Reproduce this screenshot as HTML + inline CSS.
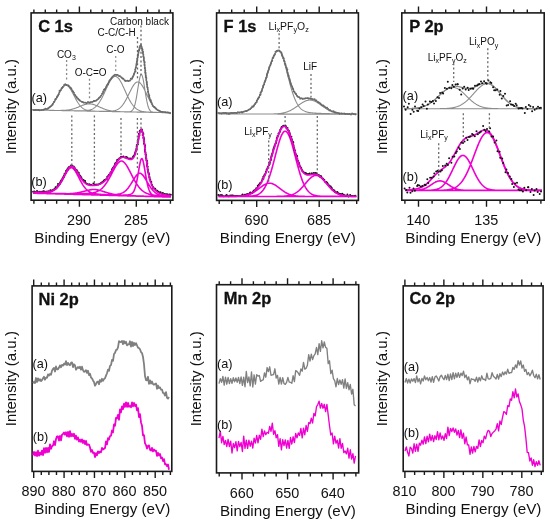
<!DOCTYPE html>
<html><head><meta charset="utf-8"><style>
html,body{margin:0;padding:0;background:#fff;}
svg{display:block;font-family:"Liberation Sans", sans-serif;filter:blur(0.4px);}
</style></head><body>
<svg width="550" height="523" viewBox="0 0 550 523">
<rect width="550" height="523" fill="#fff"/>
<rect x="31.1" y="12.9" width="141.80" height="187.30" fill="none" stroke="#1a1a1a" stroke-width="1.6"/>
<path d="M170.40,12.90v-3.5M170.40,200.20v3.5M159.03,12.90v-3.5M159.03,200.20v3.5M147.65,12.90v-3.5M147.65,200.20v3.5M136.28,12.90v-6.5M136.28,200.20v6.5M124.90,12.90v-3.5M124.90,200.20v3.5M113.53,12.90v-3.5M113.53,200.20v3.5M102.15,12.90v-3.5M102.15,200.20v3.5M90.78,12.90v-3.5M90.78,200.20v3.5M79.40,12.90v-6.5M79.40,200.20v6.5M68.03,12.90v-3.5M68.03,200.20v3.5M56.65,12.90v-3.5M56.65,200.20v3.5M45.28,12.90v-3.5M45.28,200.20v3.5M33.90,12.90v-3.5M33.90,200.20v3.5" stroke="#1a1a1a" stroke-width="1.4" fill="none"/>
<text transform="translate(79.10,224.90)" font-size="14.4" font-weight="normal" text-anchor="middle" fill="#111" >290</text>
<text transform="translate(135.97,224.90)" font-size="14.4" font-weight="normal" text-anchor="middle" fill="#111" >285</text>
<text transform="translate(102.30,242.80)" font-size="15.2" font-weight="normal" text-anchor="middle" fill="#111" >Binding Energy (eV)</text>
<text transform="translate(15.90,106.55) rotate(-90)" font-size="15" font-weight="normal" text-anchor="middle" fill="#111" >Intensity (a.u.)</text>
<rect x="216.6" y="12.9" width="141.80" height="187.50" fill="none" stroke="#1a1a1a" stroke-width="1.6"/>
<path d="M356.70,12.90v-3.5M356.70,200.40v3.5M344.20,12.90v-3.5M344.20,200.40v3.5M331.70,12.90v-3.5M331.70,200.40v3.5M319.20,12.90v-6.5M319.20,200.40v6.5M306.70,12.90v-3.5M306.70,200.40v3.5M294.20,12.90v-3.5M294.20,200.40v3.5M281.70,12.90v-3.5M281.70,200.40v3.5M269.20,12.90v-3.5M269.20,200.40v3.5M256.70,12.90v-6.5M256.70,200.40v6.5M244.20,12.90v-3.5M244.20,200.40v3.5M231.70,12.90v-3.5M231.70,200.40v3.5M219.20,12.90v-3.5M219.20,200.40v3.5" stroke="#1a1a1a" stroke-width="1.4" fill="none"/>
<text transform="translate(256.40,225.10)" font-size="14.4" font-weight="normal" text-anchor="middle" fill="#111" >690</text>
<text transform="translate(318.90,225.10)" font-size="14.4" font-weight="normal" text-anchor="middle" fill="#111" >685</text>
<text transform="translate(287.80,243.00)" font-size="15.2" font-weight="normal" text-anchor="middle" fill="#111" >Binding Energy (eV)</text>
<text transform="translate(201.40,106.65) rotate(-90)" font-size="15" font-weight="normal" text-anchor="middle" fill="#111" >Intensity (a.u.)</text>
<rect x="401.8" y="12.9" width="142.40" height="187.30" fill="none" stroke="#1a1a1a" stroke-width="1.6"/>
<path d="M540.90,12.90v-3.5M540.90,200.20v3.5M527.30,12.90v-3.5M527.30,200.20v3.5M513.70,12.90v-3.5M513.70,200.20v3.5M500.10,12.90v-3.5M500.10,200.20v3.5M486.50,12.90v-6.5M486.50,200.20v6.5M472.90,12.90v-3.5M472.90,200.20v3.5M459.30,12.90v-3.5M459.30,200.20v3.5M445.70,12.90v-3.5M445.70,200.20v3.5M432.10,12.90v-3.5M432.10,200.20v3.5M418.50,12.90v-6.5M418.50,200.20v6.5M404.90,12.90v-3.5M404.90,200.20v3.5" stroke="#1a1a1a" stroke-width="1.4" fill="none"/>
<text transform="translate(418.20,224.90)" font-size="14.4" font-weight="normal" text-anchor="middle" fill="#111" >140</text>
<text transform="translate(486.20,224.90)" font-size="14.4" font-weight="normal" text-anchor="middle" fill="#111" >135</text>
<text transform="translate(473.30,242.80)" font-size="15.2" font-weight="normal" text-anchor="middle" fill="#111" >Binding Energy (eV)</text>
<text transform="translate(386.60,106.55) rotate(-90)" font-size="15" font-weight="normal" text-anchor="middle" fill="#111" >Intensity (a.u.)</text>
<rect x="32.1" y="285.9" width="139.70" height="185.50" fill="none" stroke="#1a1a1a" stroke-width="1.6"/>
<path d="M170.39,285.90v-3.5M170.39,471.40v3.5M162.79,285.90v-3.5M162.79,471.40v3.5M155.20,285.90v-6.5M155.20,471.40v6.5M147.61,285.90v-3.5M147.61,471.40v3.5M140.01,285.90v-3.5M140.01,471.40v3.5M132.42,285.90v-3.5M132.42,471.40v3.5M124.83,285.90v-6.5M124.83,471.40v6.5M117.23,285.90v-3.5M117.23,471.40v3.5M109.64,285.90v-3.5M109.64,471.40v3.5M102.04,285.90v-3.5M102.04,471.40v3.5M94.45,285.90v-6.5M94.45,471.40v6.5M86.86,285.90v-3.5M86.86,471.40v3.5M79.26,285.90v-3.5M79.26,471.40v3.5M71.67,285.90v-3.5M71.67,471.40v3.5M64.08,285.90v-6.5M64.08,471.40v6.5M56.48,285.90v-3.5M56.48,471.40v3.5M48.89,285.90v-3.5M48.89,471.40v3.5M41.29,285.90v-3.5M41.29,471.40v3.5M33.70,285.90v-6.5M33.70,471.40v6.5" stroke="#1a1a1a" stroke-width="1.4" fill="none"/>
<text transform="translate(33.40,496.10)" font-size="14.4" font-weight="normal" text-anchor="middle" fill="#111" >890</text>
<text transform="translate(63.78,496.10)" font-size="14.4" font-weight="normal" text-anchor="middle" fill="#111" >880</text>
<text transform="translate(94.15,496.10)" font-size="14.4" font-weight="normal" text-anchor="middle" fill="#111" >870</text>
<text transform="translate(124.53,496.10)" font-size="14.4" font-weight="normal" text-anchor="middle" fill="#111" >860</text>
<text transform="translate(154.90,496.10)" font-size="14.4" font-weight="normal" text-anchor="middle" fill="#111" >850</text>
<text transform="translate(102.25,514.00)" font-size="15.2" font-weight="normal" text-anchor="middle" fill="#111" >Binding Energy (eV)</text>
<text transform="translate(15.90,378.65) rotate(-90)" font-size="15" font-weight="normal" text-anchor="middle" fill="#111" >Intensity (a.u.)</text>
<rect x="216.5" y="284.7" width="142.20" height="188.20" fill="none" stroke="#1a1a1a" stroke-width="1.6"/>
<path d="M355.88,284.70v-3.5M355.88,472.90v3.5M344.49,284.70v-3.5M344.49,472.90v3.5M333.10,284.70v-6.5M333.10,472.90v6.5M321.71,284.70v-3.5M321.71,472.90v3.5M310.32,284.70v-3.5M310.32,472.90v3.5M298.94,284.70v-3.5M298.94,472.90v3.5M287.55,284.70v-6.5M287.55,472.90v6.5M276.16,284.70v-3.5M276.16,472.90v3.5M264.77,284.70v-3.5M264.77,472.90v3.5M253.39,284.70v-3.5M253.39,472.90v3.5M242.00,284.70v-6.5M242.00,472.90v6.5M230.61,284.70v-3.5M230.61,472.90v3.5M219.22,284.70v-3.5M219.22,472.90v3.5" stroke="#1a1a1a" stroke-width="1.4" fill="none"/>
<text transform="translate(241.70,497.60)" font-size="14.4" font-weight="normal" text-anchor="middle" fill="#111" >660</text>
<text transform="translate(287.25,497.60)" font-size="14.4" font-weight="normal" text-anchor="middle" fill="#111" >650</text>
<text transform="translate(332.80,497.60)" font-size="14.4" font-weight="normal" text-anchor="middle" fill="#111" >640</text>
<text transform="translate(287.90,515.50)" font-size="15.2" font-weight="normal" text-anchor="middle" fill="#111" >Binding Energy (eV)</text>
<text transform="translate(201.30,378.80) rotate(-90)" font-size="15" font-weight="normal" text-anchor="middle" fill="#111" >Intensity (a.u.)</text>
<rect x="403.2" y="285.9" width="139.90" height="185.50" fill="none" stroke="#1a1a1a" stroke-width="1.6"/>
<path d="M541.29,285.90v-3.5M541.29,471.40v3.5M531.55,285.90v-3.5M531.55,471.40v3.5M521.81,285.90v-6.5M521.81,471.40v6.5M512.07,285.90v-3.5M512.07,471.40v3.5M502.32,285.90v-3.5M502.32,471.40v3.5M492.58,285.90v-3.5M492.58,471.40v3.5M482.84,285.90v-6.5M482.84,471.40v6.5M473.10,285.90v-3.5M473.10,471.40v3.5M463.35,285.90v-3.5M463.35,471.40v3.5M453.61,285.90v-3.5M453.61,471.40v3.5M443.87,285.90v-6.5M443.87,471.40v6.5M434.13,285.90v-3.5M434.13,471.40v3.5M424.38,285.90v-3.5M424.38,471.40v3.5M414.64,285.90v-3.5M414.64,471.40v3.5M404.90,285.90v-6.5M404.90,471.40v6.5" stroke="#1a1a1a" stroke-width="1.4" fill="none"/>
<text transform="translate(404.60,496.10)" font-size="14.4" font-weight="normal" text-anchor="middle" fill="#111" >810</text>
<text transform="translate(443.57,496.10)" font-size="14.4" font-weight="normal" text-anchor="middle" fill="#111" >800</text>
<text transform="translate(482.54,496.10)" font-size="14.4" font-weight="normal" text-anchor="middle" fill="#111" >790</text>
<text transform="translate(521.51,496.10)" font-size="14.4" font-weight="normal" text-anchor="middle" fill="#111" >780</text>
<text transform="translate(473.45,514.00)" font-size="15.2" font-weight="normal" text-anchor="middle" fill="#111" >Binding Energy (eV)</text>
<text transform="translate(386.60,378.65) rotate(-90)" font-size="15" font-weight="normal" text-anchor="middle" fill="#111" >Intensity (a.u.)</text>
<path d="M34.00,109.97 L34.50,109.98 L35.00,109.98 L35.50,109.99 L36.00,109.99 L36.50,110.00 L37.00,110.00 L37.50,110.00 L38.00,110.00 L38.50,109.99 L39.00,109.99 L39.50,109.98 L40.00,109.96 L40.50,109.94 L41.00,109.92 L41.50,109.89 L42.00,109.85 L42.50,109.81 L43.00,109.75 L43.50,109.68 L44.00,109.60 L44.50,109.51 L45.00,109.40 L45.50,109.27 L46.00,109.12 L46.50,108.95 L47.00,108.76 L47.50,108.54 L48.00,108.28 L48.50,108.00 L49.00,107.69 L49.50,107.33 L50.00,106.94 L50.50,106.51 L51.00,106.04 L51.50,105.53 L52.00,104.97 L52.50,104.37 L53.00,103.72 L53.50,103.03 L54.00,102.30 L54.50,101.52 L55.00,100.71 L55.50,99.86 L56.00,98.98 L56.50,98.08 L57.00,97.15 L57.50,96.21 L58.00,95.26 L58.50,94.30 L59.00,93.36 L59.50,92.43 L60.00,91.52 L60.50,90.64 L61.00,89.80 L61.50,89.01 L62.00,88.28 L62.50,87.62 L63.00,87.03 L63.50,86.51 L64.00,86.09 L64.50,85.75 L65.00,85.51 L65.50,85.37 L66.00,85.33 L66.50,85.39 L67.00,85.55 L67.50,85.81 L68.00,86.17 L68.50,86.61 L69.00,87.15 L69.50,87.76 L70.00,88.44 L70.50,89.19 L71.00,90.00 L71.50,90.86 L72.00,91.76 L72.50,92.69 L73.00,93.64 L73.50,94.60 L74.00,95.58 L74.50,96.55 L75.00,97.51 L75.50,98.46 L76.00,99.38 L76.50,100.28 L77.00,101.15 L77.50,101.98 L78.00,102.78 L78.50,103.53 L79.00,104.24 L79.50,104.91 L80.00,105.53 L80.50,106.11 L81.00,106.64 L81.50,107.13 L82.00,107.58 L82.50,107.99 L83.00,108.37 L83.50,108.70 L84.00,109.00 L84.50,109.28 L85.00,109.52 L85.50,109.73 L86.00,109.92 L86.50,110.09 L87.00,110.24 L87.50,110.37 L88.00,110.48 L88.50,110.58 L89.00,110.67 L89.50,110.75 L90.00,110.81 L90.50,110.87 L91.00,110.92 L91.50,110.96 L92.00,111.00 L92.50,111.04 L93.00,111.07 L93.50,111.09 L94.00,111.12 L94.50,111.14 L95.00,111.16 L95.50,111.18 L96.00,111.19 L96.50,111.21 L97.00,111.22 L97.50,111.24 L98.00,111.25 M56.50,110.43 L57.00,110.43 L57.50,110.43 L58.00,110.44 L58.50,110.44 L59.00,110.44 L59.50,110.44 L60.00,110.43 L60.50,110.43 L61.00,110.42 L61.50,110.42 L62.00,110.40 L62.50,110.39 L63.00,110.38 L63.50,110.36 L64.00,110.33 L64.50,110.31 L65.00,110.28 L65.50,110.24 L66.00,110.20 L66.50,110.16 L67.00,110.11 L67.50,110.05 L68.00,109.99 L68.50,109.92 L69.00,109.84 L69.50,109.76 L70.00,109.67 L70.50,109.57 L71.00,109.47 L71.50,109.35 L72.00,109.23 L72.50,109.10 L73.00,108.97 L73.50,108.82 L74.00,108.67 L74.50,108.50 L75.00,108.33 L75.50,108.16 L76.00,107.98 L76.50,107.79 L77.00,107.59 L77.50,107.39 L78.00,107.19 L78.50,106.98 L79.00,106.77 L79.50,106.56 L80.00,106.35 L80.50,106.14 L81.00,105.93 L81.50,105.72 L82.00,105.52 L82.50,105.32 L83.00,105.14 L83.50,104.96 L84.00,104.79 L84.50,104.63 L85.00,104.48 L85.50,104.35 L86.00,104.23 L86.50,104.12 L87.00,104.03 L87.50,103.96 L88.00,103.91 L88.50,103.87 L89.00,103.85 L89.50,103.85 L90.00,103.87 L90.50,103.91 L91.00,103.97 L91.50,104.04 L92.00,104.13 L92.50,104.24 L93.00,104.37 L93.50,104.51 L94.00,104.66 L94.50,104.83 L95.00,105.01 L95.50,105.20 L96.00,105.40 L96.50,105.60 L97.00,105.82 L97.50,106.04 L98.00,106.27 L98.50,106.50 L99.00,106.73 L99.50,106.96 L100.00,107.19 L100.50,107.42 L101.00,107.65 L101.50,107.87 L102.00,108.09 L102.50,108.31 L103.00,108.52 L103.50,108.72 L104.00,108.91 L104.50,109.10 L105.00,109.29 L105.50,109.46 L106.00,109.63 L106.50,109.78 L107.00,109.93 L107.50,110.07 L108.00,110.21 L108.50,110.33 L109.00,110.45 L109.50,110.56 L110.00,110.66 L110.50,110.76 L111.00,110.85 L111.50,110.93 L112.00,111.01 L112.50,111.08 L113.00,111.14 L113.50,111.20 L114.00,111.26 L114.50,111.31 L115.00,111.35 L115.50,111.40 L116.00,111.44 L116.50,111.47 L117.00,111.50 L117.50,111.54 L118.00,111.56 L118.50,111.59 L119.00,111.61 L119.50,111.64 L120.00,111.66 L120.50,111.68 L121.00,111.70 L121.50,111.71 L122.00,111.73 L122.50,111.75 M72.50,110.74 L73.00,110.75 L73.50,110.76 L74.00,110.77 L74.50,110.77 L75.00,110.78 L75.50,110.79 L76.00,110.80 L76.50,110.80 L77.00,110.81 L77.50,110.81 L78.00,110.82 L78.50,110.82 L79.00,110.83 L79.50,110.83 L80.00,110.83 L80.50,110.83 L81.00,110.83 L81.50,110.82 L82.00,110.82 L82.50,110.81 L83.00,110.79 L83.50,110.78 L84.00,110.76 L84.50,110.73 L85.00,110.70 L85.50,110.67 L86.00,110.63 L86.50,110.58 L87.00,110.52 L87.50,110.45 L88.00,110.37 L88.50,110.28 L89.00,110.17 L89.50,110.05 L90.00,109.92 L90.50,109.77 L91.00,109.59 L91.50,109.40 L92.00,109.18 L92.50,108.94 L93.00,108.68 L93.50,108.38 L94.00,108.06 L94.50,107.70 L95.00,107.31 L95.50,106.89 L96.00,106.42 L96.50,105.92 L97.00,105.39 L97.50,104.81 L98.00,104.18 L98.50,103.52 L99.00,102.82 L99.50,102.07 L100.00,101.28 L100.50,100.46 L101.00,99.59 L101.50,98.68 L102.00,97.74 L102.50,96.77 L103.00,95.76 L103.50,94.73 L104.00,93.68 L104.50,92.60 L105.00,91.52 L105.50,90.42 L106.00,89.33 L106.50,88.24 L107.00,87.15 L107.50,86.08 L108.00,85.04 L108.50,84.03 L109.00,83.05 L109.50,82.11 L110.00,81.23 L110.50,80.40 L111.00,79.63 L111.50,78.93 L112.00,78.31 L112.50,77.76 L113.00,77.30 L113.50,76.93 L114.00,76.64 L114.50,76.45 L115.00,76.36 L115.50,76.36 L116.00,76.46 L116.50,76.65 L117.00,76.93 L117.50,77.31 L118.00,77.77 L118.50,78.32 L119.00,78.95 L119.50,79.65 L120.00,80.43 L120.50,81.26 L121.00,82.16 L121.50,83.10 L122.00,84.09 L122.50,85.12 L123.00,86.18 L123.50,87.27 L124.00,88.37 L124.50,89.48 L125.00,90.59 L125.50,91.71 L126.00,92.82 L126.50,93.91 L127.00,94.99 L127.50,96.04 L128.00,97.08 L128.50,98.08 L129.00,99.04 L129.50,99.98 L130.00,100.87 L130.50,101.73 L131.00,102.55 L131.50,103.32 L132.00,104.05 L132.50,104.74 L133.00,105.39 L133.50,106.00 L134.00,106.57 L134.50,107.10 L135.00,107.58 L135.50,108.04 L136.00,108.45 L136.50,108.84 L137.00,109.19 L137.50,109.51 L138.00,109.80 L138.50,110.07 L139.00,110.31 L139.50,110.52 L140.00,110.72 L140.50,110.90 L141.00,111.06 L141.50,111.20 L142.00,111.33 L142.50,111.44 L143.00,111.54 L143.50,111.63 L144.00,111.71 L144.50,111.78 L145.00,111.85 L145.50,111.91 L146.00,111.96 L146.50,112.00 L147.00,112.04 L147.50,112.08 L148.00,112.11 L148.50,112.14 L149.00,112.17 L149.50,112.19 L150.00,112.22 L150.50,112.24 L151.00,112.26 L151.50,112.28 L152.00,112.29 L152.50,112.31 L153.00,112.32 L153.50,112.34 L154.00,112.35 L154.50,112.37 L155.00,112.38 L155.50,112.39 L156.00,112.40 L156.50,112.42 L157.00,112.43 L157.50,112.44 L158.00,112.45 M101.00,111.31 L101.50,111.32 L102.00,111.33 L102.50,111.33 L103.00,111.34 L103.50,111.35 L104.00,111.35 L104.50,111.35 L105.00,111.36 L105.50,111.36 L106.00,111.36 L106.50,111.36 L107.00,111.36 L107.50,111.35 L108.00,111.34 L108.50,111.33 L109.00,111.32 L109.50,111.30 L110.00,111.28 L110.50,111.25 L111.00,111.21 L111.50,111.17 L112.00,111.11 L112.50,111.05 L113.00,110.98 L113.50,110.89 L114.00,110.79 L114.50,110.68 L115.00,110.55 L115.50,110.40 L116.00,110.23 L116.50,110.03 L117.00,109.81 L117.50,109.57 L118.00,109.29 L118.50,108.99 L119.00,108.65 L119.50,108.27 L120.00,107.86 L120.50,107.41 L121.00,106.93 L121.50,106.39 L122.00,105.82 L122.50,105.21 L123.00,104.55 L123.50,103.84 L124.00,103.10 L124.50,102.31 L125.00,101.48 L125.50,100.61 L126.00,99.71 L126.50,98.78 L127.00,97.81 L127.50,96.83 L128.00,95.82 L128.50,94.80 L129.00,93.77 L129.50,92.74 L130.00,91.71 L130.50,90.70 L131.00,89.71 L131.50,88.75 L132.00,87.82 L132.50,86.93 L133.00,86.10 L133.50,85.32 L134.00,84.61 L134.50,83.98 L135.00,83.42 L135.50,82.94 L136.00,82.56 L136.50,82.27 L137.00,82.07 L137.50,81.97 L138.00,81.97 L138.50,82.07 L139.00,82.27 L139.50,82.56 L140.00,82.95 L140.50,83.42 L141.00,83.99 L141.50,84.63 L142.00,85.34 L142.50,86.13 L143.00,86.97 L143.50,87.86 L144.00,88.80 L144.50,89.78 L145.00,90.79 L145.50,91.82 L146.00,92.86 L146.50,93.91 L147.00,94.96 L147.50,96.00 L148.00,97.03 L148.50,98.05 L149.00,99.03 L149.50,100.00 L150.00,100.92 L150.50,101.82 L151.00,102.67 L151.50,103.49 L152.00,104.27 L152.50,105.00 L153.00,105.69 L153.50,106.33 L154.00,106.93 L154.50,107.49 L155.00,108.01 L155.50,108.48 L156.00,108.92 L156.50,109.32 L157.00,109.69 L157.50,110.02 L158.00,110.32 L158.50,110.59 L159.00,110.84 L159.50,111.06 L160.00,111.25 L160.50,111.43 L161.00,111.58 L161.50,111.72 L162.00,111.84 L162.50,111.95 L163.00,112.05 L163.50,112.13 L164.00,112.20 L164.50,112.27 L165.00,112.33 L165.50,112.38 L166.00,112.42 L166.50,112.46 L167.00,112.50 L167.50,112.53 L168.00,112.56 L168.50,112.59 L169.00,112.61 L169.50,112.63 L170.00,112.65 L170.50,112.67 L171.00,112.68 M125.00,111.79 L125.50,111.80 L126.00,111.80 L126.50,111.81 L127.00,111.81 L127.50,111.81 L128.00,111.80 L128.50,111.78 L129.00,111.75 L129.50,111.71 L130.00,111.63 L130.50,111.51 L131.00,111.33 L131.50,111.07 L132.00,110.70 L132.50,110.19 L133.00,109.51 L133.50,108.61 L134.00,107.46 L134.50,106.03 L135.00,104.28 L135.50,102.19 L136.00,99.78 L136.50,97.06 L137.00,94.09 L137.50,90.95 L138.00,87.74 L138.50,84.58 L139.00,81.63 L139.50,79.02 L140.00,76.89 L140.50,75.38 L141.00,74.56 L141.50,74.49 L142.00,75.18 L142.50,76.59 L143.00,78.62 L143.50,81.16 L144.00,84.08 L144.50,87.23 L145.00,90.46 L145.50,93.64 L146.00,96.67 L146.50,99.46 L147.00,101.96 L147.50,104.13 L148.00,105.97 L148.50,107.49 L149.00,108.71 L149.50,109.68 L150.00,110.42 L150.50,110.98 L151.00,111.39 L151.50,111.69 L152.00,111.90 L152.50,112.05 L153.00,112.16 L153.50,112.23 L154.00,112.29 L154.50,112.33 L155.00,112.35 L155.50,112.38 L156.00,112.40 L156.50,112.41 L157.00,112.43 L157.50,112.44 M33.00,110.00 L33.50,110.01 L34.00,110.02 L34.50,110.03 L35.00,110.04 L35.50,110.05 L36.00,110.06 L36.50,110.07 L37.00,110.08 L37.50,110.09 L38.00,110.10 L38.50,110.11 L39.00,110.12 L39.50,110.13 L40.00,110.14 L40.50,110.15 L41.00,110.16 L41.50,110.17 L42.00,110.18 L42.50,110.19 L43.00,110.20 L43.50,110.21 L44.00,110.22 L44.50,110.23 L45.00,110.24 L45.50,110.25 L46.00,110.26 L46.50,110.27 L47.00,110.28 L47.50,110.29 L48.00,110.30 L48.50,110.31 L49.00,110.32 L49.50,110.33 L50.00,110.34 L50.50,110.35 L51.00,110.36 L51.50,110.37 L52.00,110.38 L52.50,110.39 L53.00,110.40 L53.50,110.41 L54.00,110.42 L54.50,110.43 L55.00,110.44 L55.50,110.45 L56.00,110.46 L56.50,110.47 L57.00,110.48 L57.50,110.49 L58.00,110.50 L58.50,110.51 L59.00,110.52 L59.50,110.53 L60.00,110.54 L60.50,110.55 L61.00,110.56 L61.50,110.57 L62.00,110.58 L62.50,110.59 L63.00,110.60 L63.50,110.61 L64.00,110.62 L64.50,110.63 L65.00,110.64 L65.50,110.65 L66.00,110.66 L66.50,110.67 L67.00,110.68 L67.50,110.69 L68.00,110.70 L68.50,110.71 L69.00,110.72 L69.50,110.73 L70.00,110.74 L70.50,110.75 L71.00,110.76 L71.50,110.77 L72.00,110.78 L72.50,110.79 L73.00,110.80 L73.50,110.81 L74.00,110.82 L74.50,110.83 L75.00,110.84 L75.50,110.85 L76.00,110.86 L76.50,110.87 L77.00,110.88 L77.50,110.89 L78.00,110.90 L78.50,110.91 L79.00,110.92 L79.50,110.93 L80.00,110.94 L80.50,110.95 L81.00,110.96 L81.50,110.97 L82.00,110.98 L82.50,110.99 L83.00,111.00 L83.50,111.01 L84.00,111.02 L84.50,111.03 L85.00,111.04 L85.50,111.05 L86.00,111.06 L86.50,111.07 L87.00,111.08 L87.50,111.09 L88.00,111.10 L88.50,111.11 L89.00,111.12 L89.50,111.13 L90.00,111.14 L90.50,111.15 L91.00,111.16 L91.50,111.17 L92.00,111.18 L92.50,111.19 L93.00,111.20 L93.50,111.21 L94.00,111.22 L94.50,111.23 L95.00,111.24 L95.50,111.25 L96.00,111.26 L96.50,111.27 L97.00,111.28 L97.50,111.29 L98.00,111.30 L98.50,111.31 L99.00,111.32 L99.50,111.33 L100.00,111.34 L100.50,111.35 L101.00,111.36 L101.50,111.37 L102.00,111.38 L102.50,111.39 L103.00,111.40 L103.50,111.41 L104.00,111.42 L104.50,111.43 L105.00,111.44 L105.50,111.45 L106.00,111.46 L106.50,111.47 L107.00,111.48 L107.50,111.49 L108.00,111.50 L108.50,111.51 L109.00,111.52 L109.50,111.53 L110.00,111.54 L110.50,111.55 L111.00,111.56 L111.50,111.57 L112.00,111.58 L112.50,111.59 L113.00,111.60 L113.50,111.61 L114.00,111.62 L114.50,111.63 L115.00,111.64 L115.50,111.65 L116.00,111.66 L116.50,111.67 L117.00,111.68 L117.50,111.69 L118.00,111.70 L118.50,111.71 L119.00,111.72 L119.50,111.73 L120.00,111.74 L120.50,111.75 L121.00,111.76 L121.50,111.77 L122.00,111.78 L122.50,111.79 L123.00,111.80 L123.50,111.81 L124.00,111.82 L124.50,111.83 L125.00,111.84 L125.50,111.85 L126.00,111.86 L126.50,111.87 L127.00,111.88 L127.50,111.89 L128.00,111.90 L128.50,111.91 L129.00,111.92 L129.50,111.93 L130.00,111.94 L130.50,111.95 L131.00,111.96 L131.50,111.97 L132.00,111.98 L132.50,111.99 L133.00,112.00 L133.50,112.01 L134.00,112.02 L134.50,112.03 L135.00,112.04 L135.50,112.05 L136.00,112.06 L136.50,112.07 L137.00,112.08 L137.50,112.09 L138.00,112.10 L138.50,112.11 L139.00,112.12 L139.50,112.13 L140.00,112.14 L140.50,112.15 L141.00,112.16 L141.50,112.17 L142.00,112.18 L142.50,112.19 L143.00,112.20 L143.50,112.21 L144.00,112.22 L144.50,112.23 L145.00,112.24 L145.50,112.25 L146.00,112.26 L146.50,112.27 L147.00,112.28 L147.50,112.29 L148.00,112.30 L148.50,112.31 L149.00,112.32 L149.50,112.33 L150.00,112.34 L150.50,112.35 L151.00,112.36 L151.50,112.37 L152.00,112.38 L152.50,112.39 L153.00,112.40 L153.50,112.41 L154.00,112.42 L154.50,112.43 L155.00,112.44 L155.50,112.45 L156.00,112.46 L156.50,112.47 L157.00,112.48 L157.50,112.49 L158.00,112.50 L158.50,112.51 L159.00,112.52 L159.50,112.53 L160.00,112.54 L160.50,112.55 L161.00,112.56 L161.50,112.57 L162.00,112.58 L162.50,112.59 L163.00,112.60 L163.50,112.61 L164.00,112.62 L164.50,112.63 L165.00,112.64 L165.50,112.65 L166.00,112.66 L166.50,112.67 L167.00,112.68 L167.50,112.69 L168.00,112.70 L168.50,112.71 L169.00,112.72 L169.50,112.73 L170.00,112.74 L170.50,112.75 L171.00,112.76" stroke="#8c8c8c" stroke-width="1.1" fill="none"/>
<path d="M33.00,109.93 L33.50,109.94 L34.00,109.94 L34.50,109.95 L35.00,109.96 L35.50,109.96 L36.00,109.97 L36.50,109.97 L37.00,109.97 L37.50,109.97 L38.00,109.97 L38.50,109.96 L39.00,109.96 L39.50,109.95 L40.00,109.93 L40.50,109.91 L41.00,109.89 L41.50,109.86 L42.00,109.82 L42.50,109.77 L43.00,109.72 L43.50,109.65 L44.00,109.57 L44.50,109.47 L45.00,109.36 L45.50,109.23 L46.00,109.08 L46.50,108.91 L47.00,108.72 L47.50,108.50 L48.00,108.24 L48.50,107.96 L49.00,107.64 L49.50,107.29 L50.00,106.90 L50.50,106.47 L51.00,105.99 L51.50,105.48 L52.00,104.92 L52.50,104.31 L53.00,103.66 L53.50,102.97 L54.00,102.23 L54.50,101.46 L55.00,100.64 L55.50,99.79 L56.00,98.91 L56.50,98.00 L57.00,97.06 L57.50,96.11 L58.00,95.15 L58.50,94.19 L59.00,93.24 L59.50,92.29 L60.00,91.37 L60.50,90.48 L61.00,89.62 L61.50,88.82 L62.00,88.06 L62.50,87.37 L63.00,86.75 L63.50,86.21 L64.00,85.75 L64.50,85.38 L65.00,85.10 L65.50,84.91 L66.00,84.82 L66.50,84.82 L67.00,84.92 L67.50,85.12 L68.00,85.40 L68.50,85.76 L69.00,86.21 L69.50,86.73 L70.00,87.31 L70.50,87.96 L71.00,88.65 L71.50,89.38 L72.00,90.14 L72.50,90.93 L73.00,91.74 L73.50,92.54 L74.00,93.35 L74.50,94.15 L75.00,94.93 L75.50,95.69 L76.00,96.41 L76.50,97.11 L77.00,97.77 L77.50,98.39 L78.00,98.96 L78.50,99.49 L79.00,99.97 L79.50,100.41 L80.00,100.80 L80.50,101.15 L81.00,101.45 L81.50,101.71 L82.00,101.94 L82.50,102.12 L83.00,102.27 L83.50,102.39 L84.00,102.48 L84.50,102.55 L85.00,102.60 L85.50,102.62 L86.00,102.63 L86.50,102.62 L87.00,102.60 L87.50,102.57 L88.00,102.53 L88.50,102.48 L89.00,102.42 L89.50,102.36 L90.00,102.29 L90.50,102.21 L91.00,102.13 L91.50,102.03 L92.00,101.92 L92.50,101.81 L93.00,101.67 L93.50,101.52 L94.00,101.36 L94.50,101.17 L95.00,100.96 L95.50,100.72 L96.00,100.45 L96.50,100.16 L97.00,99.82 L97.50,99.46 L98.00,99.06 L98.50,98.61 L99.00,98.13 L99.50,97.61 L100.00,97.04 L100.50,96.43 L101.00,95.78 L101.50,95.09 L102.00,94.35 L102.50,93.58 L103.00,92.77 L103.50,91.93 L104.00,91.06 L104.50,90.16 L105.00,89.24 L105.50,88.31 L106.00,87.36 L106.50,86.40 L107.00,85.45 L107.50,84.49 L108.00,83.56 L108.50,82.64 L109.00,81.74 L109.50,80.88 L110.00,80.05 L110.50,79.27 L111.00,78.53 L111.50,77.85 L112.00,77.23 L112.50,76.68 L113.00,76.19 L113.50,75.77 L114.00,75.42 L114.50,75.14 L115.00,74.94 L115.50,74.82 L116.00,74.76 L116.50,74.77 L117.00,74.85 L117.50,74.99 L118.00,75.19 L118.50,75.44 L119.00,75.73 L119.50,76.06 L120.00,76.42 L120.50,76.81 L121.00,77.21 L121.50,77.63 L122.00,78.04 L122.50,78.44 L123.00,78.84 L123.50,79.21 L124.00,79.55 L124.50,79.87 L125.00,80.15 L125.50,80.38 L126.00,80.58 L126.50,80.72 L127.00,80.82 L127.50,80.87 L128.00,80.87 L128.50,80.81 L129.00,80.70 L129.50,80.54 L130.00,80.31 L130.50,80.01 L131.00,79.64 L131.50,79.17 L132.00,78.59 L132.50,77.87 L133.00,76.98 L133.50,75.90 L134.00,74.59 L134.50,73.02 L135.00,71.18 L135.50,69.05 L136.00,66.65 L136.50,64.00 L137.00,61.17 L137.50,58.23 L138.00,55.29 L138.50,52.48 L139.00,49.94 L139.50,47.83 L140.00,46.27 L140.50,45.38 L141.00,45.27 L141.50,45.97 L142.00,47.48 L142.50,49.76 L143.00,52.71 L143.50,56.22 L144.00,60.14 L144.50,64.32 L145.00,68.60 L145.50,72.85 L146.00,76.96 L146.50,80.82 L147.00,84.39 L147.50,87.62 L148.00,90.51 L148.50,93.05 L149.00,95.26 L149.50,97.19 L150.00,98.87 L150.50,100.32 L151.00,101.59 L151.50,102.70 L152.00,103.69 L152.50,104.57 L153.00,105.36 L153.50,106.07 L154.00,106.72 L154.50,107.31 L155.00,107.85 L155.50,108.34 L156.00,108.79 L156.50,109.20 L157.00,109.57 L157.50,109.91 L158.00,110.22 L158.50,110.49 L159.00,110.74 L159.50,110.96 L160.00,111.16 L160.50,111.34 L161.00,111.50 L161.50,111.64 L162.00,111.76 L162.50,111.87 L163.00,111.97 L163.50,112.06 L164.00,112.13 L164.50,112.20 L165.00,112.26 L165.50,112.31 L166.00,112.36 L166.50,112.40 L167.00,112.44 L167.50,112.47 L168.00,112.50 L168.50,112.53 L169.00,112.55 L169.50,112.58 L170.00,112.60 L170.50,112.61 L171.00,112.63" stroke="#8a8a8a" stroke-width="1.4" fill="none"/>
<g fill="#686868"><circle cx="33.0" cy="109.8" r="0.9"/><circle cx="34.5" cy="110.2" r="0.9"/><circle cx="35.7" cy="109.9" r="0.9"/><circle cx="37.0" cy="109.9" r="0.9"/><circle cx="38.5" cy="110.0" r="0.9"/><circle cx="39.8" cy="110.3" r="0.9"/><circle cx="41.4" cy="110.1" r="0.9"/><circle cx="43.1" cy="109.9" r="0.9"/><circle cx="44.1" cy="109.3" r="0.9"/><circle cx="45.4" cy="108.7" r="0.9"/><circle cx="47.0" cy="109.1" r="0.9"/><circle cx="48.2" cy="108.5" r="0.9"/><circle cx="49.3" cy="107.4" r="0.9"/><circle cx="50.2" cy="106.7" r="0.9"/><circle cx="51.4" cy="105.8" r="0.9"/><circle cx="52.5" cy="104.8" r="0.9"/><circle cx="52.9" cy="103.7" r="0.9"/><circle cx="53.9" cy="102.1" r="0.9"/><circle cx="54.3" cy="101.6" r="0.9"/><circle cx="55.2" cy="99.4" r="0.9"/><circle cx="55.7" cy="99.0" r="0.9"/><circle cx="56.8" cy="97.6" r="0.9"/><circle cx="57.2" cy="96.5" r="0.9"/><circle cx="58.2" cy="95.6" r="0.9"/><circle cx="58.8" cy="94.2" r="0.9"/><circle cx="59.4" cy="92.1" r="0.9"/><circle cx="59.5" cy="90.6" r="0.9"/><circle cx="60.7" cy="90.3" r="0.9"/><circle cx="61.5" cy="88.5" r="0.9"/><circle cx="62.3" cy="87.7" r="0.9"/><circle cx="62.8" cy="86.9" r="0.9"/><circle cx="64.1" cy="85.0" r="0.9"/><circle cx="65.2" cy="84.2" r="0.9"/><circle cx="66.6" cy="85.0" r="0.9"/><circle cx="68.3" cy="85.4" r="0.9"/><circle cx="68.9" cy="86.2" r="0.9"/><circle cx="70.0" cy="87.4" r="0.9"/><circle cx="71.1" cy="88.2" r="0.9"/><circle cx="71.6" cy="89.1" r="0.9"/><circle cx="72.4" cy="90.8" r="0.9"/><circle cx="73.2" cy="91.7" r="0.9"/><circle cx="73.9" cy="92.6" r="0.9"/><circle cx="74.4" cy="94.6" r="0.9"/><circle cx="75.4" cy="95.5" r="0.9"/><circle cx="76.5" cy="96.9" r="0.9"/><circle cx="76.7" cy="97.5" r="0.9"/><circle cx="78.1" cy="98.7" r="0.9"/><circle cx="79.0" cy="99.6" r="0.9"/><circle cx="79.9" cy="100.5" r="0.9"/><circle cx="81.6" cy="101.6" r="0.9"/><circle cx="82.6" cy="101.8" r="0.9"/><circle cx="83.6" cy="102.6" r="0.9"/><circle cx="85.2" cy="102.7" r="0.9"/><circle cx="86.7" cy="103.3" r="0.9"/><circle cx="88.0" cy="102.0" r="0.9"/><circle cx="89.6" cy="102.7" r="0.9"/><circle cx="90.8" cy="102.1" r="0.9"/><circle cx="92.3" cy="101.9" r="0.9"/><circle cx="93.8" cy="101.0" r="0.9"/><circle cx="94.7" cy="100.9" r="0.9"/><circle cx="96.1" cy="100.7" r="0.9"/><circle cx="97.2" cy="99.6" r="0.9"/><circle cx="98.4" cy="98.8" r="0.9"/><circle cx="99.1" cy="97.7" r="0.9"/><circle cx="100.1" cy="97.1" r="0.9"/><circle cx="101.1" cy="95.6" r="0.9"/><circle cx="102.1" cy="93.7" r="0.9"/><circle cx="102.9" cy="93.1" r="0.9"/><circle cx="103.1" cy="91.4" r="0.9"/><circle cx="103.9" cy="89.7" r="0.9"/><circle cx="104.9" cy="89.5" r="0.9"/><circle cx="105.0" cy="88.9" r="0.9"/><circle cx="106.0" cy="87.2" r="0.9"/><circle cx="106.7" cy="85.5" r="0.9"/><circle cx="107.7" cy="84.4" r="0.9"/><circle cx="108.2" cy="83.9" r="0.9"/><circle cx="108.7" cy="82.3" r="0.9"/><circle cx="109.3" cy="81.0" r="0.9"/><circle cx="110.1" cy="79.8" r="0.9"/><circle cx="111.2" cy="78.7" r="0.9"/><circle cx="111.7" cy="77.8" r="0.9"/><circle cx="112.6" cy="76.7" r="0.9"/><circle cx="113.8" cy="75.7" r="0.9"/><circle cx="115.0" cy="74.6" r="0.9"/><circle cx="116.3" cy="74.9" r="0.9"/><circle cx="117.5" cy="74.8" r="0.9"/><circle cx="119.0" cy="76.1" r="0.9"/><circle cx="120.0" cy="76.1" r="0.9"/><circle cx="121.5" cy="77.3" r="0.9"/><circle cx="122.4" cy="78.3" r="0.9"/><circle cx="123.4" cy="78.7" r="0.9"/><circle cx="124.7" cy="80.5" r="0.9"/><circle cx="125.8" cy="81.0" r="0.9"/><circle cx="127.4" cy="80.7" r="0.9"/><circle cx="128.6" cy="81.1" r="0.9"/><circle cx="130.0" cy="80.5" r="0.9"/><circle cx="130.8" cy="78.7" r="0.9"/><circle cx="132.1" cy="78.6" r="0.9"/><circle cx="132.4" cy="77.4" r="0.9"/><circle cx="133.0" cy="76.2" r="0.9"/><circle cx="133.8" cy="74.5" r="0.9"/><circle cx="134.2" cy="73.4" r="0.9"/><circle cx="134.8" cy="72.1" r="0.9"/><circle cx="135.6" cy="71.2" r="0.9"/><circle cx="135.2" cy="69.6" r="0.9"/><circle cx="135.6" cy="68.1" r="0.9"/><circle cx="136.0" cy="67.2" r="0.9"/><circle cx="136.4" cy="65.1" r="0.9"/><circle cx="136.5" cy="63.8" r="0.9"/><circle cx="136.7" cy="61.9" r="0.9"/><circle cx="137.1" cy="61.7" r="0.9"/><circle cx="137.3" cy="60.1" r="0.9"/><circle cx="137.2" cy="58.7" r="0.9"/><circle cx="137.7" cy="57.3" r="0.9"/><circle cx="137.9" cy="55.7" r="0.9"/><circle cx="138.0" cy="54.4" r="0.9"/><circle cx="138.5" cy="52.8" r="0.9"/><circle cx="138.5" cy="51.5" r="0.9"/><circle cx="139.2" cy="50.2" r="0.9"/><circle cx="139.3" cy="49.3" r="0.9"/><circle cx="139.6" cy="47.6" r="0.9"/><circle cx="140.0" cy="46.1" r="0.9"/><circle cx="141.0" cy="45.1" r="0.9"/><circle cx="141.3" cy="46.3" r="0.9"/><circle cx="141.8" cy="48.4" r="0.9"/><circle cx="142.5" cy="49.4" r="0.9"/><circle cx="142.2" cy="50.6" r="0.9"/><circle cx="143.1" cy="51.9" r="0.9"/><circle cx="142.7" cy="53.0" r="0.9"/><circle cx="143.4" cy="54.7" r="0.9"/><circle cx="143.3" cy="56.4" r="0.9"/><circle cx="143.8" cy="57.4" r="0.9"/><circle cx="143.9" cy="58.8" r="0.9"/><circle cx="143.7" cy="60.2" r="0.9"/><circle cx="144.4" cy="61.7" r="0.9"/><circle cx="144.7" cy="62.5" r="0.9"/><circle cx="144.5" cy="64.4" r="0.9"/><circle cx="144.6" cy="65.6" r="0.9"/><circle cx="144.8" cy="67.6" r="0.9"/><circle cx="144.8" cy="68.4" r="0.9"/><circle cx="145.4" cy="70.2" r="0.9"/><circle cx="145.2" cy="72.0" r="0.9"/><circle cx="145.5" cy="72.7" r="0.9"/><circle cx="145.5" cy="74.0" r="0.9"/><circle cx="145.7" cy="75.7" r="0.9"/><circle cx="145.7" cy="77.0" r="0.9"/><circle cx="146.4" cy="78.0" r="0.9"/><circle cx="146.3" cy="79.9" r="0.9"/><circle cx="146.7" cy="81.8" r="0.9"/><circle cx="146.7" cy="82.4" r="0.9"/><circle cx="146.8" cy="83.8" r="0.9"/><circle cx="147.1" cy="84.9" r="0.9"/><circle cx="147.2" cy="86.8" r="0.9"/><circle cx="147.6" cy="87.6" r="0.9"/><circle cx="147.7" cy="89.1" r="0.9"/><circle cx="148.0" cy="91.3" r="0.9"/><circle cx="148.0" cy="91.9" r="0.9"/><circle cx="148.4" cy="93.9" r="0.9"/><circle cx="149.3" cy="95.5" r="0.9"/><circle cx="149.1" cy="96.4" r="0.9"/><circle cx="149.4" cy="97.8" r="0.9"/><circle cx="150.1" cy="99.7" r="0.9"/><circle cx="150.8" cy="100.2" r="0.9"/><circle cx="150.7" cy="101.4" r="0.9"/><circle cx="151.5" cy="102.4" r="0.9"/><circle cx="152.1" cy="104.1" r="0.9"/><circle cx="152.6" cy="105.8" r="0.9"/><circle cx="153.9" cy="106.8" r="0.9"/><circle cx="154.7" cy="107.2" r="0.9"/><circle cx="155.7" cy="108.2" r="0.9"/><circle cx="156.6" cy="109.2" r="0.9"/><circle cx="158.0" cy="110.3" r="0.9"/><circle cx="159.1" cy="110.7" r="0.9"/><circle cx="160.4" cy="111.4" r="0.9"/><circle cx="161.6" cy="111.8" r="0.9"/><circle cx="162.9" cy="111.9" r="0.9"/><circle cx="164.9" cy="112.2" r="0.9"/><circle cx="165.9" cy="112.4" r="0.9"/><circle cx="167.4" cy="112.4" r="0.9"/><circle cx="168.8" cy="112.7" r="0.9"/><circle cx="170.1" cy="113.3" r="0.9"/></g>
<path d="M33.00,192.77 L33.50,192.78 L34.00,192.78 L34.50,192.78 L35.00,192.78 L35.50,192.78 L36.00,192.78 L36.50,192.78 L37.00,192.78 L37.50,192.78 L38.00,192.78 L38.50,192.78 L39.00,192.78 L39.50,192.77 L40.00,192.77 L40.50,192.76 L41.00,192.75 L41.50,192.74 L42.00,192.73 L42.50,192.72 L43.00,192.70 L43.50,192.68 L44.00,192.66 L44.50,192.64 L45.00,192.61 L45.50,192.58 L46.00,192.54 L46.50,192.50 L47.00,192.45 L47.50,192.39 L48.00,192.32 L48.50,192.25 L49.00,192.16 L49.50,192.06 L50.00,191.95 L50.50,191.82 L51.00,191.68 L51.50,191.52 L52.00,191.34 L52.50,191.13 L53.00,190.90 L53.50,190.65 L54.00,190.36 L54.50,190.05 L55.00,189.70 L55.50,189.32 L56.00,188.90 L56.50,188.45 L57.00,187.96 L57.50,187.42 L58.00,186.85 L58.50,186.23 L59.00,185.57 L59.50,184.88 L60.00,184.14 L60.50,183.36 L61.00,182.55 L61.50,181.71 L62.00,180.83 L62.50,179.93 L63.00,179.01 L63.50,178.07 L64.00,177.12 L64.50,176.18 L65.00,175.23 L65.50,174.30 L66.00,173.39 L66.50,172.52 L67.00,171.68 L67.50,170.90 L68.00,170.18 L68.50,169.54 L69.00,168.98 L69.50,168.51 L70.00,168.15 L70.50,167.89 L71.00,167.75 L71.50,167.73 L72.00,167.83 L72.50,168.04 L73.00,168.37 L73.50,168.80 L74.00,169.34 L74.50,169.96 L75.00,170.66 L75.50,171.44 L76.00,172.27 L76.50,173.15 L77.00,174.07 L77.50,175.01 L78.00,175.98 L78.50,176.95 L79.00,177.93 L79.50,178.90 L80.00,179.86 L80.50,180.80 L81.00,181.72 L81.50,182.61 L82.00,183.47 L82.50,184.30 L83.00,185.09 L83.50,185.84 L84.00,186.55 L84.50,187.22 L85.00,187.84 L85.50,188.43 L86.00,188.98 L86.50,189.48 L87.00,189.95 L87.50,190.38 L88.00,190.77 L88.50,191.14 L89.00,191.47 L89.50,191.77 L90.00,192.04 L90.50,192.29 L91.00,192.51 L91.50,192.71 L92.00,192.89 L92.50,193.06 L93.00,193.21 L93.50,193.34 L94.00,193.46 L94.50,193.57 L95.00,193.67 L95.50,193.76 L96.00,193.84 L96.50,193.92 L97.00,193.99 L97.50,194.05 L98.00,194.11 L98.50,194.17 L99.00,194.22 L99.50,194.26 L100.00,194.31 L100.50,194.35 L101.00,194.39 L101.50,194.43 L102.00,194.47 L102.50,194.50 L103.00,194.54 L103.50,194.57 L104.00,194.60 L104.50,194.63 L105.00,194.66 L105.50,194.69 L106.00,194.72 L106.50,194.75 L107.00,194.78 L107.50,194.80 L108.00,194.83 L108.50,194.86 L109.00,194.88 L109.50,194.91 L110.00,194.93 L110.50,194.96 L111.00,194.98 L111.50,195.00 L112.00,195.03 L112.50,195.05 L113.00,195.07 L113.50,195.09 L114.00,195.12 L114.50,195.14 L115.00,195.16 L115.50,195.18 L116.00,195.20 L116.50,195.22 L117.00,195.24 L117.50,195.26 L118.00,195.28 L118.50,195.30 L119.00,195.32 L119.50,195.34 L120.00,195.36 L120.50,195.38 L121.00,195.40 L121.50,195.42 L122.00,195.44 L122.50,195.46 L123.00,195.48 L123.50,195.50 L124.00,195.51 L124.50,195.53 L125.00,195.55 L125.50,195.57 L126.00,195.59 L126.50,195.60 L127.00,195.62 L127.50,195.64 L128.00,195.66 L128.50,195.67 L129.00,195.69 L129.50,195.71 L130.00,195.73 L130.50,195.74 L131.00,195.76 L131.50,195.78 L132.00,195.79 L132.50,195.81 L133.00,195.83 L133.50,195.84 L134.00,195.86 L134.50,195.88 L135.00,195.89 L135.50,195.91 L136.00,195.93 L136.50,195.94 L137.00,195.96 L137.50,195.98 L138.00,195.99 L138.50,196.01 L139.00,196.02 L139.50,196.04 L140.00,196.06 L140.50,196.07 L141.00,196.09 L141.50,196.10 L142.00,196.12 L142.50,196.14 L143.00,196.15 L143.50,196.17 L144.00,196.18 L144.50,196.20 L145.00,196.21 L145.50,196.23 L146.00,196.25 L146.50,196.26 L147.00,196.28 L147.50,196.29 L148.00,196.31 L148.50,196.32 L149.00,196.34 L149.50,196.35 L150.00,196.37 L150.50,196.38 L151.00,196.40 L151.50,196.42 L152.00,196.43 L152.50,196.45 L153.00,196.46 L153.50,196.48 L154.00,196.49 L154.50,196.51 L155.00,196.52 L155.50,196.54 L156.00,196.55 L156.50,196.57 L157.00,196.58 L157.50,196.60 L158.00,196.61 L158.50,196.63 L159.00,196.64 L159.50,196.66 L160.00,196.67 L160.50,196.69 L161.00,196.70 L161.50,196.72 L162.00,196.73 L162.50,196.75 L163.00,196.76 L163.50,196.78 L164.00,196.79 L164.50,196.81 L165.00,196.82 L165.50,196.84 L166.00,196.85 L166.50,196.86 L167.00,196.88 L167.50,196.89 L168.00,196.91 L168.50,196.92 L169.00,196.94 L169.50,196.95 L170.00,196.97 L170.50,196.98 L171.00,197.00 M33.00,193.14 L33.50,193.15 L34.00,193.17 L34.50,193.18 L35.00,193.19 L35.50,193.20 L36.00,193.22 L36.50,193.23 L37.00,193.24 L37.50,193.26 L38.00,193.27 L38.50,193.28 L39.00,193.29 L39.50,193.31 L40.00,193.32 L40.50,193.33 L41.00,193.35 L41.50,193.36 L42.00,193.37 L42.50,193.38 L43.00,193.40 L43.50,193.41 L44.00,193.42 L44.50,193.43 L45.00,193.44 L45.50,193.46 L46.00,193.47 L46.50,193.48 L47.00,193.49 L47.50,193.51 L48.00,193.52 L48.50,193.53 L49.00,193.54 L49.50,193.55 L50.00,193.56 L50.50,193.58 L51.00,193.59 L51.50,193.60 L52.00,193.61 L52.50,193.62 L53.00,193.63 L53.50,193.64 L54.00,193.65 L54.50,193.66 L55.00,193.67 L55.50,193.68 L56.00,193.69 L56.50,193.70 L57.00,193.71 L57.50,193.72 L58.00,193.73 L58.50,193.74 L59.00,193.75 L59.50,193.75 L60.00,193.76 L60.50,193.77 L61.00,193.77 L61.50,193.78 L62.00,193.78 L62.50,193.79 L63.00,193.79 L63.50,193.79 L64.00,193.79 L64.50,193.79 L65.00,193.79 L65.50,193.78 L66.00,193.78 L66.50,193.77 L67.00,193.76 L67.50,193.75 L68.00,193.74 L68.50,193.72 L69.00,193.71 L69.50,193.68 L70.00,193.66 L70.50,193.63 L71.00,193.60 L71.50,193.57 L72.00,193.53 L72.50,193.49 L73.00,193.45 L73.50,193.40 L74.00,193.35 L74.50,193.29 L75.00,193.23 L75.50,193.16 L76.00,193.09 L76.50,193.01 L77.00,192.93 L77.50,192.84 L78.00,192.75 L78.50,192.66 L79.00,192.56 L79.50,192.45 L80.00,192.34 L80.50,192.23 L81.00,192.11 L81.50,191.99 L82.00,191.86 L82.50,191.73 L83.00,191.60 L83.50,191.47 L84.00,191.33 L84.50,191.20 L85.00,191.06 L85.50,190.92 L86.00,190.79 L86.50,190.66 L87.00,190.53 L87.50,190.40 L88.00,190.28 L88.50,190.16 L89.00,190.05 L89.50,189.94 L90.00,189.85 L90.50,189.76 L91.00,189.68 L91.50,189.62 L92.00,189.56 L92.50,189.52 L93.00,189.49 L93.50,189.48 L94.00,189.47 L94.50,189.49 L95.00,189.51 L95.50,189.55 L96.00,189.61 L96.50,189.68 L97.00,189.76 L97.50,189.85 L98.00,189.95 L98.50,190.06 L99.00,190.19 L99.50,190.32 L100.00,190.45 L100.50,190.60 L101.00,190.75 L101.50,190.90 L102.00,191.06 L102.50,191.22 L103.00,191.39 L103.50,191.55 L104.00,191.71 L104.50,191.88 L105.00,192.04 L105.50,192.20 L106.00,192.36 L106.50,192.52 L107.00,192.67 L107.50,192.82 L108.00,192.97 L108.50,193.11 L109.00,193.25 L109.50,193.39 L110.00,193.52 L110.50,193.64 L111.00,193.76 L111.50,193.88 L112.00,193.99 L112.50,194.09 L113.00,194.19 L113.50,194.29 L114.00,194.38 L114.50,194.47 L115.00,194.55 L115.50,194.63 L116.00,194.70 L116.50,194.77 L117.00,194.84 L117.50,194.90 L118.00,194.96 L118.50,195.01 L119.00,195.06 L119.50,195.11 L120.00,195.16 L120.50,195.20 L121.00,195.24 L121.50,195.28 L122.00,195.32 L122.50,195.36 L123.00,195.39 L123.50,195.42 L124.00,195.45 L124.50,195.48 L125.00,195.51 L125.50,195.54 L126.00,195.56 L126.50,195.59 L127.00,195.61 L127.50,195.63 L128.00,195.66 L128.50,195.68 L129.00,195.70 L129.50,195.72 L130.00,195.74 L130.50,195.76 L131.00,195.78 L131.50,195.80 L132.00,195.82 L132.50,195.83 L133.00,195.85 L133.50,195.87 L134.00,195.89 L134.50,195.91 L135.00,195.92 L135.50,195.94 L136.00,195.96 L136.50,195.97 L137.00,195.99 L137.50,196.01 L138.00,196.02 L138.50,196.04 L139.00,196.06 L139.50,196.07 L140.00,196.09 L140.50,196.11 L141.00,196.12 L141.50,196.14 L142.00,196.15 L142.50,196.17 L143.00,196.19 L143.50,196.20 L144.00,196.22 L144.50,196.23 L145.00,196.25 L145.50,196.26 L146.00,196.28 L146.50,196.30 L147.00,196.31 L147.50,196.33 L148.00,196.34 L148.50,196.36 L149.00,196.37 L149.50,196.39 L150.00,196.40 L150.50,196.42 L151.00,196.43 L151.50,196.45 L152.00,196.46 L152.50,196.48 L153.00,196.49 L153.50,196.51 L154.00,196.52 L154.50,196.54 L155.00,196.55 L155.50,196.57 L156.00,196.58 L156.50,196.60 L157.00,196.61 L157.50,196.63 L158.00,196.64 L158.50,196.66 L159.00,196.67 L159.50,196.69 L160.00,196.70 L160.50,196.72 L161.00,196.73 L161.50,196.75 L162.00,196.76 M33.00,193.02 L33.50,193.03 L34.00,193.04 L34.50,193.05 L35.00,193.06 L35.50,193.08 L36.00,193.09 L36.50,193.10 L37.00,193.11 L37.50,193.12 L38.00,193.13 L38.50,193.15 L39.00,193.16 L39.50,193.17 L40.00,193.18 L40.50,193.19 L41.00,193.20 L41.50,193.22 L42.00,193.23 L42.50,193.24 L43.00,193.25 L43.50,193.26 L44.00,193.27 L44.50,193.28 L45.00,193.29 L45.50,193.30 L46.00,193.31 L46.50,193.33 L47.00,193.34 L47.50,193.35 L48.00,193.36 L48.50,193.37 L49.00,193.38 L49.50,193.39 L50.00,193.40 L50.50,193.41 L51.00,193.42 L51.50,193.43 L52.00,193.44 L52.50,193.45 L53.00,193.46 L53.50,193.47 L54.00,193.48 L54.50,193.49 L55.00,193.50 L55.50,193.51 L56.00,193.52 L56.50,193.52 L57.00,193.53 L57.50,193.54 L58.00,193.55 L58.50,193.56 L59.00,193.57 L59.50,193.58 L60.00,193.58 L60.50,193.59 L61.00,193.60 L61.50,193.61 L62.00,193.62 L62.50,193.62 L63.00,193.63 L63.50,193.64 L64.00,193.65 L64.50,193.65 L65.00,193.66 L65.50,193.67 L66.00,193.67 L66.50,193.68 L67.00,193.68 L67.50,193.69 L68.00,193.69 L68.50,193.70 L69.00,193.71 L69.50,193.71 L70.00,193.71 L70.50,193.72 L71.00,193.72 L71.50,193.73 L72.00,193.73 L72.50,193.73 L73.00,193.74 L73.50,193.74 L74.00,193.74 L74.50,193.74 L75.00,193.74 L75.50,193.74 L76.00,193.74 L76.50,193.74 L77.00,193.74 L77.50,193.74 L78.00,193.74 L78.50,193.74 L79.00,193.74 L79.50,193.73 L80.00,193.73 L80.50,193.72 L81.00,193.72 L81.50,193.71 L82.00,193.70 L82.50,193.69 L83.00,193.68 L83.50,193.67 L84.00,193.66 L84.50,193.64 L85.00,193.62 L85.50,193.61 L86.00,193.58 L86.50,193.56 L87.00,193.53 L87.50,193.50 L88.00,193.47 L88.50,193.43 L89.00,193.39 L89.50,193.34 L90.00,193.29 L90.50,193.23 L91.00,193.17 L91.50,193.10 L92.00,193.02 L92.50,192.93 L93.00,192.83 L93.50,192.73 L94.00,192.61 L94.50,192.48 L95.00,192.33 L95.50,192.17 L96.00,192.00 L96.50,191.81 L97.00,191.60 L97.50,191.38 L98.00,191.13 L98.50,190.86 L99.00,190.57 L99.50,190.26 L100.00,189.92 L100.50,189.55 L101.00,189.16 L101.50,188.74 L102.00,188.29 L102.50,187.81 L103.00,187.30 L103.50,186.76 L104.00,186.18 L104.50,185.58 L105.00,184.94 L105.50,184.27 L106.00,183.57 L106.50,182.83 L107.00,182.07 L107.50,181.28 L108.00,180.46 L108.50,179.61 L109.00,178.74 L109.50,177.84 L110.00,176.93 L110.50,176.00 L111.00,175.06 L111.50,174.11 L112.00,173.15 L112.50,172.19 L113.00,171.24 L113.50,170.29 L114.00,169.36 L114.50,168.44 L115.00,167.55 L115.50,166.69 L116.00,165.87 L116.50,165.09 L117.00,164.36 L117.50,163.69 L118.00,163.08 L118.50,162.54 L119.00,162.08 L119.50,161.69 L120.00,161.39 L120.50,161.17 L121.00,161.05 L121.50,161.02 L122.00,161.08 L122.50,161.23 L123.00,161.47 L123.50,161.80 L124.00,162.22 L124.50,162.71 L125.00,163.28 L125.50,163.92 L126.00,164.62 L126.50,165.37 L127.00,166.18 L127.50,167.03 L128.00,167.92 L128.50,168.83 L129.00,169.78 L129.50,170.74 L130.00,171.71 L130.50,172.70 L131.00,173.68 L131.50,174.67 L132.00,175.65 L132.50,176.62 L133.00,177.58 L133.50,178.52 L134.00,179.44 L134.50,180.34 L135.00,181.21 L135.50,182.06 L136.00,182.88 L136.50,183.67 L137.00,184.43 L137.50,185.16 L138.00,185.86 L138.50,186.53 L139.00,187.16 L139.50,187.77 L140.00,188.34 L140.50,188.88 L141.00,189.38 L141.50,189.86 L142.00,190.31 L142.50,190.73 L143.00,191.12 L143.50,191.49 L144.00,191.83 L144.50,192.15 L145.00,192.45 L145.50,192.72 L146.00,192.98 L146.50,193.21 L147.00,193.43 L147.50,193.63 L148.00,193.82 L148.50,193.99 L149.00,194.15 L149.50,194.29 L150.00,194.43 L150.50,194.55 L151.00,194.67 L151.50,194.78 L152.00,194.88 L152.50,194.97 L153.00,195.05 L153.50,195.13 L154.00,195.21 L154.50,195.28 L155.00,195.34 L155.50,195.41 L156.00,195.46 L156.50,195.52 L157.00,195.57 L157.50,195.62 L158.00,195.67 L158.50,195.71 L159.00,195.76 L159.50,195.80 L160.00,195.84 L160.50,195.88 L161.00,195.91 L161.50,195.95 L162.00,195.98 L162.50,196.02 L163.00,196.05 L163.50,196.08 L164.00,196.12 L164.50,196.15 L165.00,196.18 L165.50,196.21 L166.00,196.24 L166.50,196.26 L167.00,196.29 L167.50,196.32 L168.00,196.35 L168.50,196.37 L169.00,196.40 L169.50,196.43 L170.00,196.45 L170.50,196.48 L171.00,196.50 M34.50,193.19 L35.00,193.21 L35.50,193.22 L36.00,193.23 L36.50,193.25 L37.00,193.26 L37.50,193.27 L38.00,193.29 L38.50,193.30 L39.00,193.31 L39.50,193.33 L40.00,193.34 L40.50,193.35 L41.00,193.37 L41.50,193.38 L42.00,193.39 L42.50,193.41 L43.00,193.42 L43.50,193.43 L44.00,193.45 L44.50,193.46 L45.00,193.47 L45.50,193.49 L46.00,193.50 L46.50,193.51 L47.00,193.53 L47.50,193.54 L48.00,193.55 L48.50,193.57 L49.00,193.58 L49.50,193.59 L50.00,193.61 L50.50,193.62 L51.00,193.63 L51.50,193.65 L52.00,193.66 L52.50,193.67 L53.00,193.69 L53.50,193.70 L54.00,193.71 L54.50,193.73 L55.00,193.74 L55.50,193.75 L56.00,193.77 L56.50,193.78 L57.00,193.79 L57.50,193.80 L58.00,193.82 L58.50,193.83 L59.00,193.84 L59.50,193.86 L60.00,193.87 L60.50,193.88 L61.00,193.90 L61.50,193.91 L62.00,193.92 L62.50,193.93 L63.00,193.95 L63.50,193.96 L64.00,193.97 L64.50,193.99 L65.00,194.00 L65.50,194.01 L66.00,194.02 L66.50,194.04 L67.00,194.05 L67.50,194.06 L68.00,194.07 L68.50,194.09 L69.00,194.10 L69.50,194.11 L70.00,194.12 L70.50,194.14 L71.00,194.15 L71.50,194.16 L72.00,194.17 L72.50,194.19 L73.00,194.20 L73.50,194.21 L74.00,194.22 L74.50,194.23 L75.00,194.25 L75.50,194.26 L76.00,194.27 L76.50,194.28 L77.00,194.29 L77.50,194.31 L78.00,194.32 L78.50,194.33 L79.00,194.34 L79.50,194.35 L80.00,194.36 L80.50,194.38 L81.00,194.39 L81.50,194.40 L82.00,194.41 L82.50,194.42 L83.00,194.43 L83.50,194.44 L84.00,194.45 L84.50,194.46 L85.00,194.48 L85.50,194.49 L86.00,194.50 L86.50,194.51 L87.00,194.52 L87.50,194.53 L88.00,194.54 L88.50,194.55 L89.00,194.56 L89.50,194.57 L90.00,194.58 L90.50,194.59 L91.00,194.60 L91.50,194.61 L92.00,194.62 L92.50,194.63 L93.00,194.63 L93.50,194.64 L94.00,194.65 L94.50,194.66 L95.00,194.67 L95.50,194.68 L96.00,194.69 L96.50,194.69 L97.00,194.70 L97.50,194.71 L98.00,194.72 L98.50,194.72 L99.00,194.73 L99.50,194.74 L100.00,194.74 L100.50,194.75 L101.00,194.75 L101.50,194.76 L102.00,194.76 L102.50,194.77 L103.00,194.77 L103.50,194.78 L104.00,194.78 L104.50,194.78 L105.00,194.78 L105.50,194.79 L106.00,194.79 L106.50,194.79 L107.00,194.79 L107.50,194.79 L108.00,194.79 L108.50,194.78 L109.00,194.78 L109.50,194.78 L110.00,194.77 L110.50,194.76 L111.00,194.76 L111.50,194.75 L112.00,194.73 L112.50,194.72 L113.00,194.70 L113.50,194.68 L114.00,194.66 L114.50,194.63 L115.00,194.59 L115.50,194.56 L116.00,194.51 L116.50,194.46 L117.00,194.40 L117.50,194.33 L118.00,194.25 L118.50,194.16 L119.00,194.06 L119.50,193.94 L120.00,193.81 L120.50,193.66 L121.00,193.49 L121.50,193.30 L122.00,193.09 L122.50,192.85 L123.00,192.59 L123.50,192.30 L124.00,191.97 L124.50,191.62 L125.00,191.23 L125.50,190.81 L126.00,190.35 L126.50,189.86 L127.00,189.33 L127.50,188.76 L128.00,188.16 L128.50,187.52 L129.00,186.85 L129.50,186.14 L130.00,185.40 L130.50,184.64 L131.00,183.85 L131.50,183.05 L132.00,182.23 L132.50,181.40 L133.00,180.56 L133.50,179.74 L134.00,178.92 L134.50,178.12 L135.00,177.36 L135.50,176.63 L136.00,175.95 L136.50,175.32 L137.00,174.76 L137.50,174.28 L138.00,173.89 L138.50,173.58 L139.00,173.38 L139.50,173.28 L140.00,173.28 L140.50,173.39 L141.00,173.60 L141.50,173.91 L142.00,174.32 L142.50,174.81 L143.00,175.38 L143.50,176.02 L144.00,176.72 L144.50,177.47 L145.00,178.26 L145.50,179.08 L146.00,179.92 L146.50,180.77 L147.00,181.63 L147.50,182.49 L148.00,183.34 L148.50,184.18 L149.00,185.00 L149.50,185.80 L150.00,186.57 L150.50,187.31 L151.00,188.02 L151.50,188.69 L152.00,189.33 L152.50,189.93 L153.00,190.50 L153.50,191.03 L154.00,191.52 L154.50,191.97 L155.00,192.40 L155.50,192.79 L156.00,193.14 L156.50,193.47 L157.00,193.77 L157.50,194.04 L158.00,194.28 L158.50,194.50 L159.00,194.70 L159.50,194.89 L160.00,195.05 L160.50,195.20 L161.00,195.33 L161.50,195.45 L162.00,195.56 L162.50,195.66 L163.00,195.75 L163.50,195.83 L164.00,195.90 L164.50,195.97 L165.00,196.03 L165.50,196.09 L166.00,196.14 L166.50,196.19 L167.00,196.24 L167.50,196.28 L168.00,196.32 L168.50,196.36 L169.00,196.40 L169.50,196.43 L170.00,196.47 L170.50,196.50 L171.00,196.53 M78.50,194.42 L79.00,194.44 L79.50,194.45 L80.00,194.46 L80.50,194.48 L81.00,194.49 L81.50,194.50 L82.00,194.52 L82.50,194.53 L83.00,194.54 L83.50,194.56 L84.00,194.57 L84.50,194.58 L85.00,194.59 L85.50,194.61 L86.00,194.62 L86.50,194.63 L87.00,194.65 L87.50,194.66 L88.00,194.67 L88.50,194.68 L89.00,194.70 L89.50,194.71 L90.00,194.72 L90.50,194.73 L91.00,194.75 L91.50,194.76 L92.00,194.77 L92.50,194.78 L93.00,194.80 L93.50,194.81 L94.00,194.82 L94.50,194.83 L95.00,194.85 L95.50,194.86 L96.00,194.87 L96.50,194.88 L97.00,194.89 L97.50,194.91 L98.00,194.92 L98.50,194.93 L99.00,194.94 L99.50,194.95 L100.00,194.96 L100.50,194.97 L101.00,194.99 L101.50,195.00 L102.00,195.01 L102.50,195.02 L103.00,195.03 L103.50,195.04 L104.00,195.05 L104.50,195.06 L105.00,195.07 L105.50,195.08 L106.00,195.09 L106.50,195.10 L107.00,195.11 L107.50,195.12 L108.00,195.13 L108.50,195.14 L109.00,195.15 L109.50,195.15 L110.00,195.16 L110.50,195.17 L111.00,195.18 L111.50,195.19 L112.00,195.19 L112.50,195.20 L113.00,195.21 L113.50,195.21 L114.00,195.22 L114.50,195.22 L115.00,195.23 L115.50,195.23 L116.00,195.23 L116.50,195.24 L117.00,195.24 L117.50,195.24 L118.00,195.24 L118.50,195.24 L119.00,195.24 L119.50,195.24 L120.00,195.23 L120.50,195.23 L121.00,195.22 L121.50,195.22 L122.00,195.21 L122.50,195.20 L123.00,195.18 L123.50,195.17 L124.00,195.15 L124.50,195.13 L125.00,195.11 L125.50,195.09 L126.00,195.06 L126.50,195.03 L127.00,194.99 L127.50,194.94 L128.00,194.89 L128.50,194.82 L129.00,194.74 L129.50,194.64 L130.00,194.51 L130.50,194.35 L131.00,194.14 L131.50,193.87 L132.00,193.52 L132.50,193.06 L133.00,192.48 L133.50,191.74 L134.00,190.82 L134.50,189.68 L135.00,188.29 L135.50,186.65 L136.00,184.72 L136.50,182.52 L137.00,180.06 L137.50,177.38 L138.00,174.52 L138.50,171.56 L139.00,168.61 L139.50,165.79 L140.00,163.24 L140.50,161.11 L141.00,159.56 L141.50,158.71 L142.00,158.64 L142.50,159.37 L143.00,160.82 L143.50,162.87 L144.00,165.38 L144.50,168.19 L145.00,171.15 L145.50,174.14 L146.00,177.05 L146.50,179.81 L147.00,182.34 L147.50,184.62 L148.00,186.63 L148.50,188.36 L149.00,189.82 L149.50,191.04 L150.00,192.03 L150.50,192.83 L151.00,193.47 L151.50,193.98 L152.00,194.38 L152.50,194.69 L153.00,194.94 L153.50,195.14 L154.00,195.30 L154.50,195.43 L155.00,195.54 L155.50,195.64 L156.00,195.73 L156.50,195.80 L157.00,195.87 L157.50,195.93 L158.00,195.99 L158.50,196.04 L159.00,196.09 L159.50,196.14 L160.00,196.19 L160.50,196.23 L161.00,196.27 L161.50,196.31 L162.00,196.34 L162.50,196.38 L163.00,196.41 L163.50,196.45 L164.00,196.48 L164.50,196.51 L165.00,196.54 L165.50,196.57 L166.00,196.59 L166.50,196.62 L167.00,196.65 L167.50,196.67 L168.00,196.70 L168.50,196.72 L169.00,196.75 L169.50,196.77 L170.00,196.79 L170.50,196.81 L171.00,196.84 M33.00,193.20 L33.50,193.21 L34.00,193.23 L34.50,193.24 L35.00,193.26 L35.50,193.27 L36.00,193.28 L36.50,193.30 L37.00,193.31 L37.50,193.33 L38.00,193.34 L38.50,193.35 L39.00,193.37 L39.50,193.38 L40.00,193.40 L40.50,193.41 L41.00,193.42 L41.50,193.44 L42.00,193.45 L42.50,193.47 L43.00,193.48 L43.50,193.49 L44.00,193.51 L44.50,193.52 L45.00,193.54 L45.50,193.55 L46.00,193.56 L46.50,193.58 L47.00,193.59 L47.50,193.61 L48.00,193.62 L48.50,193.63 L49.00,193.65 L49.50,193.66 L50.00,193.68 L50.50,193.69 L51.00,193.70 L51.50,193.72 L52.00,193.73 L52.50,193.75 L53.00,193.76 L53.50,193.77 L54.00,193.79 L54.50,193.80 L55.00,193.82 L55.50,193.83 L56.00,193.84 L56.50,193.86 L57.00,193.87 L57.50,193.89 L58.00,193.90 L58.50,193.91 L59.00,193.93 L59.50,193.94 L60.00,193.96 L60.50,193.97 L61.00,193.98 L61.50,194.00 L62.00,194.01 L62.50,194.03 L63.00,194.04 L63.50,194.05 L64.00,194.07 L64.50,194.08 L65.00,194.10 L65.50,194.11 L66.00,194.12 L66.50,194.14 L67.00,194.15 L67.50,194.17 L68.00,194.18 L68.50,194.19 L69.00,194.21 L69.50,194.22 L70.00,194.24 L70.50,194.25 L71.00,194.26 L71.50,194.28 L72.00,194.29 L72.50,194.31 L73.00,194.32 L73.50,194.33 L74.00,194.35 L74.50,194.36 L75.00,194.38 L75.50,194.39 L76.00,194.40 L76.50,194.42 L77.00,194.43 L77.50,194.45 L78.00,194.46 L78.50,194.47 L79.00,194.49 L79.50,194.50 L80.00,194.52 L80.50,194.53 L81.00,194.54 L81.50,194.56 L82.00,194.57 L82.50,194.59 L83.00,194.60 L83.50,194.61 L84.00,194.63 L84.50,194.64 L85.00,194.66 L85.50,194.67 L86.00,194.68 L86.50,194.70 L87.00,194.71 L87.50,194.73 L88.00,194.74 L88.50,194.75 L89.00,194.77 L89.50,194.78 L90.00,194.80 L90.50,194.81 L91.00,194.82 L91.50,194.84 L92.00,194.85 L92.50,194.87 L93.00,194.88 L93.50,194.89 L94.00,194.91 L94.50,194.92 L95.00,194.94 L95.50,194.95 L96.00,194.96 L96.50,194.98 L97.00,194.99 L97.50,195.01 L98.00,195.02 L98.50,195.03 L99.00,195.05 L99.50,195.06 L100.00,195.08 L100.50,195.09 L101.00,195.10 L101.50,195.12 L102.00,195.13 L102.50,195.15 L103.00,195.16 L103.50,195.17 L104.00,195.19 L104.50,195.20 L105.00,195.22 L105.50,195.23 L106.00,195.24 L106.50,195.26 L107.00,195.27 L107.50,195.29 L108.00,195.30 L108.50,195.31 L109.00,195.33 L109.50,195.34 L110.00,195.36 L110.50,195.37 L111.00,195.38 L111.50,195.40 L112.00,195.41 L112.50,195.43 L113.00,195.44 L113.50,195.45 L114.00,195.47 L114.50,195.48 L115.00,195.50 L115.50,195.51 L116.00,195.52 L116.50,195.54 L117.00,195.55 L117.50,195.57 L118.00,195.58 L118.50,195.59 L119.00,195.61 L119.50,195.62 L120.00,195.64 L120.50,195.65 L121.00,195.66 L121.50,195.68 L122.00,195.69 L122.50,195.71 L123.00,195.72 L123.50,195.73 L124.00,195.75 L124.50,195.76 L125.00,195.78 L125.50,195.79 L126.00,195.80 L126.50,195.82 L127.00,195.83 L127.50,195.85 L128.00,195.86 L128.50,195.87 L129.00,195.89 L129.50,195.90 L130.00,195.92 L130.50,195.93 L131.00,195.94 L131.50,195.96 L132.00,195.97 L132.50,195.99 L133.00,196.00 L133.50,196.01 L134.00,196.03 L134.50,196.04 L135.00,196.06 L135.50,196.07 L136.00,196.08 L136.50,196.10 L137.00,196.11 L137.50,196.13 L138.00,196.14 L138.50,196.15 L139.00,196.17 L139.50,196.18 L140.00,196.20 L140.50,196.21 L141.00,196.22 L141.50,196.24 L142.00,196.25 L142.50,196.27 L143.00,196.28 L143.50,196.29 L144.00,196.31 L144.50,196.32 L145.00,196.34 L145.50,196.35 L146.00,196.36 L146.50,196.38 L147.00,196.39 L147.50,196.41 L148.00,196.42 L148.50,196.43 L149.00,196.45 L149.50,196.46 L150.00,196.48 L150.50,196.49 L151.00,196.50 L151.50,196.52 L152.00,196.53 L152.50,196.55 L153.00,196.56 L153.50,196.57 L154.00,196.59 L154.50,196.60 L155.00,196.62 L155.50,196.63 L156.00,196.64 L156.50,196.66 L157.00,196.67 L157.50,196.69 L158.00,196.70 L158.50,196.71 L159.00,196.73 L159.50,196.74 L160.00,196.76 L160.50,196.77 L161.00,196.78 L161.50,196.80 L162.00,196.81 L162.50,196.83 L163.00,196.84 L163.50,196.85 L164.00,196.87 L164.50,196.88 L165.00,196.90 L165.50,196.91 L166.00,196.92 L166.50,196.94 L167.00,196.95 L167.50,196.97 L168.00,196.98 L168.50,196.99 L169.00,197.01 L169.50,197.02 L170.00,197.04 L170.50,197.05 L171.00,197.06" stroke="#f000d0" stroke-width="1.6" fill="none"/>
<g fill="#111"><circle cx="33.1" cy="191.7" r="1.0"/><circle cx="34.3" cy="191.6" r="1.0"/><circle cx="35.2" cy="192.0" r="1.0"/><circle cx="37.0" cy="191.1" r="1.0"/><circle cx="37.7" cy="191.9" r="1.0"/><circle cx="39.2" cy="191.8" r="1.0"/><circle cx="41.0" cy="191.8" r="1.0"/><circle cx="42.3" cy="191.8" r="1.0"/><circle cx="43.4" cy="191.3" r="1.0"/><circle cx="44.3" cy="191.4" r="1.0"/><circle cx="45.9" cy="191.7" r="1.0"/><circle cx="47.1" cy="191.4" r="1.0"/><circle cx="48.7" cy="191.2" r="1.0"/><circle cx="50.4" cy="190.2" r="1.0"/><circle cx="51.1" cy="190.7" r="1.0"/><circle cx="52.1" cy="190.5" r="1.0"/><circle cx="53.2" cy="189.8" r="1.0"/><circle cx="54.6" cy="188.8" r="1.0"/><circle cx="55.6" cy="187.3" r="1.0"/><circle cx="56.3" cy="187.5" r="1.0"/><circle cx="57.5" cy="186.1" r="1.0"/><circle cx="58.0" cy="184.1" r="1.0"/><circle cx="59.4" cy="184.2" r="1.0"/><circle cx="60.1" cy="182.4" r="1.0"/><circle cx="60.8" cy="181.4" r="1.0"/><circle cx="61.1" cy="180.6" r="1.0"/><circle cx="62.0" cy="180.2" r="1.0"/><circle cx="62.4" cy="178.4" r="1.0"/><circle cx="63.0" cy="177.5" r="1.0"/><circle cx="63.6" cy="176.9" r="1.0"/><circle cx="63.9" cy="175.7" r="1.0"/><circle cx="64.5" cy="173.9" r="1.0"/><circle cx="65.6" cy="172.7" r="1.0"/><circle cx="66.0" cy="171.1" r="1.0"/><circle cx="66.8" cy="170.2" r="1.0"/><circle cx="67.6" cy="169.6" r="1.0"/><circle cx="67.7" cy="168.5" r="1.0"/><circle cx="68.7" cy="167.3" r="1.0"/><circle cx="69.8" cy="166.8" r="1.0"/><circle cx="71.0" cy="165.4" r="1.0"/><circle cx="72.1" cy="165.7" r="1.0"/><circle cx="73.6" cy="166.6" r="1.0"/><circle cx="74.4" cy="167.4" r="1.0"/><circle cx="74.8" cy="168.6" r="1.0"/><circle cx="75.7" cy="169.4" r="1.0"/><circle cx="76.8" cy="170.2" r="1.0"/><circle cx="77.4" cy="171.6" r="1.0"/><circle cx="77.5" cy="172.2" r="1.0"/><circle cx="78.9" cy="173.0" r="1.0"/><circle cx="79.4" cy="175.0" r="1.0"/><circle cx="80.3" cy="175.9" r="1.0"/><circle cx="80.6" cy="177.1" r="1.0"/><circle cx="81.3" cy="177.4" r="1.0"/><circle cx="81.9" cy="179.0" r="1.0"/><circle cx="83.5" cy="179.9" r="1.0"/><circle cx="83.8" cy="180.8" r="1.0"/><circle cx="85.1" cy="181.1" r="1.0"/><circle cx="85.6" cy="182.7" r="1.0"/><circle cx="86.9" cy="183.9" r="1.0"/><circle cx="87.6" cy="184.2" r="1.0"/><circle cx="89.2" cy="184.2" r="1.0"/><circle cx="90.8" cy="184.7" r="1.0"/><circle cx="91.5" cy="185.1" r="1.0"/><circle cx="93.4" cy="183.6" r="1.0"/><circle cx="94.5" cy="184.6" r="1.0"/><circle cx="95.5" cy="184.7" r="1.0"/><circle cx="96.9" cy="184.5" r="1.0"/><circle cx="98.2" cy="184.6" r="1.0"/><circle cx="99.5" cy="184.0" r="1.0"/><circle cx="100.6" cy="183.2" r="1.0"/><circle cx="101.7" cy="182.6" r="1.0"/><circle cx="102.9" cy="182.0" r="1.0"/><circle cx="103.7" cy="180.7" r="1.0"/><circle cx="104.6" cy="180.0" r="1.0"/><circle cx="105.8" cy="179.4" r="1.0"/><circle cx="106.8" cy="178.9" r="1.0"/><circle cx="107.1" cy="177.0" r="1.0"/><circle cx="108.2" cy="176.0" r="1.0"/><circle cx="108.8" cy="175.0" r="1.0"/><circle cx="109.4" cy="174.4" r="1.0"/><circle cx="110.5" cy="172.7" r="1.0"/><circle cx="110.8" cy="172.2" r="1.0"/><circle cx="111.9" cy="170.1" r="1.0"/><circle cx="112.0" cy="169.3" r="1.0"/><circle cx="113.0" cy="168.1" r="1.0"/><circle cx="113.4" cy="167.4" r="1.0"/><circle cx="113.9" cy="166.4" r="1.0"/><circle cx="114.9" cy="164.2" r="1.0"/><circle cx="115.4" cy="163.3" r="1.0"/><circle cx="116.2" cy="162.7" r="1.0"/><circle cx="116.8" cy="161.2" r="1.0"/><circle cx="117.3" cy="159.8" r="1.0"/><circle cx="118.3" cy="159.8" r="1.0"/><circle cx="119.2" cy="158.6" r="1.0"/><circle cx="120.4" cy="157.8" r="1.0"/><circle cx="121.1" cy="156.7" r="1.0"/><circle cx="122.5" cy="157.0" r="1.0"/><circle cx="123.4" cy="156.5" r="1.0"/><circle cx="125.3" cy="157.4" r="1.0"/><circle cx="126.1" cy="157.0" r="1.0"/><circle cx="127.1" cy="157.6" r="1.0"/><circle cx="128.7" cy="158.5" r="1.0"/><circle cx="130.2" cy="158.4" r="1.0"/><circle cx="130.9" cy="159.0" r="1.0"/><circle cx="132.2" cy="158.2" r="1.0"/><circle cx="133.1" cy="156.8" r="1.0"/><circle cx="133.7" cy="156.1" r="1.0"/><circle cx="134.6" cy="154.8" r="1.0"/><circle cx="134.8" cy="154.1" r="1.0"/><circle cx="135.2" cy="152.2" r="1.0"/><circle cx="135.9" cy="151.0" r="1.0"/><circle cx="135.9" cy="150.4" r="1.0"/><circle cx="136.5" cy="149.6" r="1.0"/><circle cx="136.5" cy="148.2" r="1.0"/><circle cx="136.7" cy="146.2" r="1.0"/><circle cx="136.8" cy="145.0" r="1.0"/><circle cx="137.9" cy="144.2" r="1.0"/><circle cx="137.7" cy="142.3" r="1.0"/><circle cx="138.1" cy="140.7" r="1.0"/><circle cx="138.2" cy="139.8" r="1.0"/><circle cx="138.5" cy="138.7" r="1.0"/><circle cx="138.7" cy="136.9" r="1.0"/><circle cx="139.4" cy="135.3" r="1.0"/><circle cx="139.0" cy="134.1" r="1.0"/><circle cx="139.2" cy="133.7" r="1.0"/><circle cx="139.6" cy="131.8" r="1.0"/><circle cx="139.9" cy="130.8" r="1.0"/><circle cx="140.9" cy="129.8" r="1.0"/><circle cx="141.8" cy="129.5" r="1.0"/><circle cx="141.9" cy="130.2" r="1.0"/><circle cx="142.2" cy="131.8" r="1.0"/><circle cx="142.7" cy="132.5" r="1.0"/><circle cx="143.4" cy="134.0" r="1.0"/><circle cx="142.6" cy="135.0" r="1.0"/><circle cx="143.6" cy="137.2" r="1.0"/><circle cx="143.4" cy="138.0" r="1.0"/><circle cx="144.1" cy="139.0" r="1.0"/><circle cx="143.8" cy="140.5" r="1.0"/><circle cx="144.1" cy="141.8" r="1.0"/><circle cx="144.0" cy="143.5" r="1.0"/><circle cx="144.3" cy="143.8" r="1.0"/><circle cx="145.0" cy="145.3" r="1.0"/><circle cx="145.0" cy="146.9" r="1.0"/><circle cx="144.9" cy="149.3" r="1.0"/><circle cx="145.0" cy="150.0" r="1.0"/><circle cx="144.9" cy="150.9" r="1.0"/><circle cx="145.4" cy="152.5" r="1.0"/><circle cx="145.6" cy="154.3" r="1.0"/><circle cx="145.8" cy="154.7" r="1.0"/><circle cx="145.9" cy="155.9" r="1.0"/><circle cx="145.9" cy="157.8" r="1.0"/><circle cx="146.3" cy="158.8" r="1.0"/><circle cx="146.5" cy="160.2" r="1.0"/><circle cx="147.0" cy="161.0" r="1.0"/><circle cx="147.3" cy="163.3" r="1.0"/><circle cx="147.0" cy="164.5" r="1.0"/><circle cx="147.0" cy="165.3" r="1.0"/><circle cx="147.4" cy="166.6" r="1.0"/><circle cx="147.5" cy="166.8" r="1.0"/><circle cx="147.6" cy="169.2" r="1.0"/><circle cx="148.0" cy="170.1" r="1.0"/><circle cx="148.0" cy="171.7" r="1.0"/><circle cx="148.6" cy="173.0" r="1.0"/><circle cx="148.7" cy="173.9" r="1.0"/><circle cx="149.1" cy="174.6" r="1.0"/><circle cx="149.3" cy="176.7" r="1.0"/><circle cx="149.5" cy="177.6" r="1.0"/><circle cx="149.7" cy="179.0" r="1.0"/><circle cx="150.3" cy="180.1" r="1.0"/><circle cx="150.6" cy="181.4" r="1.0"/><circle cx="151.3" cy="181.9" r="1.0"/><circle cx="151.7" cy="184.5" r="1.0"/><circle cx="151.9" cy="185.3" r="1.0"/><circle cx="152.9" cy="186.8" r="1.0"/><circle cx="153.3" cy="188.2" r="1.0"/><circle cx="154.2" cy="188.5" r="1.0"/><circle cx="155.2" cy="188.7" r="1.0"/><circle cx="155.7" cy="190.0" r="1.0"/><circle cx="157.2" cy="190.7" r="1.0"/><circle cx="158.3" cy="191.7" r="1.0"/><circle cx="159.4" cy="192.5" r="1.0"/><circle cx="160.5" cy="192.2" r="1.0"/><circle cx="161.7" cy="193.5" r="1.0"/><circle cx="162.9" cy="193.1" r="1.0"/><circle cx="164.3" cy="194.1" r="1.0"/><circle cx="165.5" cy="194.2" r="1.0"/><circle cx="166.9" cy="194.3" r="1.0"/><circle cx="167.9" cy="194.6" r="1.0"/><circle cx="169.6" cy="194.6" r="1.0"/><circle cx="170.8" cy="194.7" r="1.0"/></g>
<path d="M33.00,192.46 L33.50,192.46 L34.00,192.46 L34.50,192.46 L35.00,192.46 L35.50,192.46 L36.00,192.45 L36.50,192.45 L37.00,192.45 L37.50,192.44 L38.00,192.43 L38.50,192.43 L39.00,192.42 L39.50,192.41 L40.00,192.40 L40.50,192.39 L41.00,192.38 L41.50,192.36 L42.00,192.34 L42.50,192.33 L43.00,192.31 L43.50,192.28 L44.00,192.26 L44.50,192.23 L45.00,192.19 L45.50,192.15 L46.00,192.11 L46.50,192.06 L47.00,192.00 L47.50,191.94 L48.00,191.87 L48.50,191.79 L49.00,191.69 L49.50,191.59 L50.00,191.47 L50.50,191.33 L51.00,191.18 L51.50,191.01 L52.00,190.82 L52.50,190.61 L53.00,190.37 L53.50,190.11 L54.00,189.82 L54.50,189.49 L55.00,189.14 L55.50,188.75 L56.00,188.32 L56.50,187.85 L57.00,187.35 L57.50,186.80 L58.00,186.22 L58.50,185.59 L59.00,184.92 L59.50,184.21 L60.00,183.46 L60.50,182.67 L61.00,181.84 L61.50,180.98 L62.00,180.08 L62.50,179.16 L63.00,178.22 L63.50,177.27 L64.00,176.30 L64.50,175.32 L65.00,174.35 L65.50,173.40 L66.00,172.46 L66.50,171.55 L67.00,170.69 L67.50,169.87 L68.00,169.11 L68.50,168.43 L69.00,167.83 L69.50,167.31 L70.00,166.90 L70.50,166.59 L71.00,166.40 L71.50,166.32 L72.00,166.35 L72.50,166.50 L73.00,166.75 L73.50,167.11 L74.00,167.56 L74.50,168.09 L75.00,168.71 L75.50,169.38 L76.00,170.11 L76.50,170.88 L77.00,171.69 L77.50,172.52 L78.00,173.36 L78.50,174.21 L79.00,175.05 L79.50,175.88 L80.00,176.69 L80.50,177.48 L81.00,178.25 L81.50,178.98 L82.00,179.67 L82.50,180.33 L83.00,180.95 L83.50,181.52 L84.00,182.05 L84.50,182.53 L85.00,182.97 L85.50,183.37 L86.00,183.73 L86.50,184.05 L87.00,184.32 L87.50,184.56 L88.00,184.77 L88.50,184.94 L89.00,185.09 L89.50,185.20 L90.00,185.29 L90.50,185.36 L91.00,185.41 L91.50,185.44 L92.00,185.45 L92.50,185.45 L93.00,185.44 L93.50,185.42 L94.00,185.39 L94.50,185.34 L95.00,185.29 L95.50,185.23 L96.00,185.15 L96.50,185.07 L97.00,184.97 L97.50,184.87 L98.00,184.74 L98.50,184.61 L99.00,184.45 L99.50,184.28 L100.00,184.08 L100.50,183.87 L101.00,183.63 L101.50,183.36 L102.00,183.06 L102.50,182.74 L103.00,182.38 L103.50,182.00 L104.00,181.58 L104.50,181.12 L105.00,180.64 L105.50,180.11 L106.00,179.55 L106.50,178.96 L107.00,178.33 L107.50,177.67 L108.00,176.97 L108.50,176.24 L109.00,175.49 L109.50,174.70 L110.00,173.89 L110.50,173.05 L111.00,172.20 L111.50,171.33 L112.00,170.44 L112.50,169.55 L113.00,168.65 L113.50,167.75 L114.00,166.85 L114.50,165.97 L115.00,165.10 L115.50,164.25 L116.00,163.42 L116.50,162.63 L117.00,161.87 L117.50,161.16 L118.00,160.50 L118.50,159.88 L119.00,159.33 L119.50,158.84 L120.00,158.41 L120.50,158.05 L121.00,157.75 L121.50,157.53 L122.00,157.37 L122.50,157.27 L123.00,157.23 L123.50,157.25 L124.00,157.32 L124.50,157.43 L125.00,157.58 L125.50,157.76 L126.00,157.96 L126.50,158.18 L127.00,158.40 L127.50,158.62 L128.00,158.83 L128.50,159.03 L129.00,159.20 L129.50,159.34 L130.00,159.43 L130.50,159.47 L131.00,159.44 L131.50,159.33 L132.00,159.11 L132.50,158.78 L133.00,158.30 L133.50,157.65 L134.00,156.81 L134.50,155.75 L135.00,154.45 L135.50,152.91 L136.00,151.10 L136.50,149.04 L137.00,146.76 L137.50,144.30 L138.00,141.72 L138.50,139.11 L139.00,136.57 L139.50,134.22 L140.00,132.22 L140.50,130.71 L141.00,129.86 L141.50,129.77 L142.00,130.54 L142.50,132.15 L143.00,134.54 L143.50,137.58 L144.00,141.10 L144.50,144.95 L145.00,148.98 L145.50,153.03 L146.00,157.02 L146.50,160.83 L147.00,164.42 L147.50,167.74 L148.00,170.76 L148.50,173.47 L149.00,175.89 L149.50,178.02 L150.00,179.90 L150.50,181.54 L151.00,182.98 L151.50,184.24 L152.00,185.35 L152.50,186.33 L153.00,187.21 L153.50,187.99 L154.00,188.69 L154.50,189.32 L155.00,189.90 L155.50,190.42 L156.00,190.89 L156.50,191.32 L157.00,191.71 L157.50,192.07 L158.00,192.39 L158.50,192.69 L159.00,192.96 L159.50,193.20 L160.00,193.43 L160.50,193.63 L161.00,193.81 L161.50,193.98 L162.00,194.14 L162.50,194.28 L163.00,194.41 L163.50,194.53 L164.00,194.64 L164.50,194.74 L165.00,194.83 L165.50,194.92 L166.00,195.01 L166.50,195.08 L167.00,195.16 L167.50,195.23 L168.00,195.29 L168.50,195.36 L169.00,195.42 L169.50,195.47 L170.00,195.53 L170.50,195.58 L171.00,195.63" stroke="#f000d0" stroke-width="1.7" fill="none"/>
<path d="M218.50,113.27 L219.00,113.26 L219.50,113.25 L220.00,113.25 L220.50,113.24 L221.00,113.23 L221.50,113.22 L222.00,113.21 L222.50,113.20 L223.00,113.19 L223.50,113.17 L224.00,113.16 L224.50,113.15 L225.00,113.14 L225.50,113.13 L226.00,113.11 L226.50,113.10 L227.00,113.09 L227.50,113.07 L228.00,113.06 L228.50,113.04 L229.00,113.02 L229.50,113.01 L230.00,112.99 L230.50,112.97 L231.00,112.95 L231.50,112.93 L232.00,112.91 L232.50,112.89 L233.00,112.87 L233.50,112.84 L234.00,112.81 L234.50,112.79 L235.00,112.76 L235.50,112.73 L236.00,112.69 L236.50,112.66 L237.00,112.62 L237.50,112.58 L238.00,112.53 L238.50,112.48 L239.00,112.43 L239.50,112.37 L240.00,112.31 L240.50,112.25 L241.00,112.18 L241.50,112.10 L242.00,112.01 L242.50,111.92 L243.00,111.82 L243.50,111.71 L244.00,111.59 L244.50,111.46 L245.00,111.31 L245.50,111.16 L246.00,110.99 L246.50,110.80 L247.00,110.60 L247.50,110.38 L248.00,110.15 L248.50,109.89 L249.00,109.61 L249.50,109.31 L250.00,108.98 L250.50,108.63 L251.00,108.24 L251.50,107.83 L252.00,107.39 L252.50,106.91 L253.00,106.41 L253.50,105.86 L254.00,105.28 L254.50,104.66 L255.00,103.99 L255.50,103.29 L256.00,102.54 L256.50,101.75 L257.00,100.91 L257.50,100.03 L258.00,99.10 L258.50,98.13 L259.00,97.11 L259.50,96.04 L260.00,94.92 L260.50,93.76 L261.00,92.55 L261.50,91.30 L262.00,90.00 L262.50,88.67 L263.00,87.29 L263.50,85.88 L264.00,84.43 L264.50,82.95 L265.00,81.45 L265.50,79.92 L266.00,78.37 L266.50,76.81 L267.00,75.23 L267.50,73.66 L268.00,72.08 L268.50,70.50 L269.00,68.94 L269.50,67.40 L270.00,65.89 L270.50,64.40 L271.00,62.96 L271.50,61.56 L272.00,60.21 L272.50,58.93 L273.00,57.71 L273.50,56.57 L274.00,55.51 L274.50,54.55 L275.00,53.67 L275.50,52.91 L276.00,52.25 L276.50,51.70 L277.00,51.27 L277.50,50.96 L278.00,50.77 L278.50,50.71 L279.00,50.81 L279.50,51.10 L280.00,51.58 L280.50,52.25 L281.00,53.09 L281.50,54.09 L282.00,55.26 L282.50,56.56 L283.00,57.99 L283.50,59.54 L284.00,61.19 L284.50,62.92 L285.00,64.73 L285.50,66.59 L286.00,68.50 L286.50,70.45 L287.00,72.41 L287.50,74.38 L288.00,76.35 L288.50,78.30 L289.00,80.23 L289.50,82.13 L290.00,83.99 L290.50,85.80 L291.00,87.57 L291.50,89.27 L292.00,90.91 L292.50,92.49 L293.00,94.00 L293.50,95.44 L294.00,96.80 L294.50,98.09 L295.00,99.31 L295.50,100.46 L296.00,101.53 L296.50,102.54 L297.00,103.47 L297.50,104.34 L298.00,105.15 L298.50,105.89 L299.00,106.58 L299.50,107.21 L300.00,107.79 L300.50,108.31 L301.00,108.79 L301.50,109.23 L302.00,109.63 L302.50,109.99 L303.00,110.32 L303.50,110.61 L304.00,110.88 L304.50,111.12 L305.00,111.34 L305.50,111.53 L306.00,111.71 L306.50,111.87 L307.00,112.01 L307.50,112.14 L308.00,112.25 L308.50,112.36 L309.00,112.45 L309.50,112.54 L310.00,112.61 L310.50,112.68 L311.00,112.75 L311.50,112.81 L312.00,112.86 L312.50,112.91 L313.00,112.96 L313.50,113.00 L314.00,113.04 L314.50,113.07 L315.00,113.11 L315.50,113.14 L316.00,113.17 L316.50,113.20 L317.00,113.23 L317.50,113.26 L318.00,113.28 L318.50,113.30 L319.00,113.33 L319.50,113.35 L320.00,113.37 L320.50,113.39 L321.00,113.41 L321.50,113.43 L322.00,113.45 L322.50,113.47 L323.00,113.48 L323.50,113.50 L324.00,113.52 L324.50,113.53 L325.00,113.55 L325.50,113.56 L326.00,113.58 L326.50,113.59 L327.00,113.61 L327.50,113.62 L328.00,113.63 L328.50,113.65 L329.00,113.66 L329.50,113.67 L330.00,113.68 L330.50,113.69 L331.00,113.70 L331.50,113.72 L332.00,113.73 L332.50,113.74 L333.00,113.75 L333.50,113.76 L334.00,113.77 L334.50,113.78 L335.00,113.79 L335.50,113.80 L336.00,113.80 L336.50,113.81 L337.00,113.82 L337.50,113.83 L338.00,113.84 L338.50,113.85 L339.00,113.86 L339.50,113.86 L340.00,113.87 L340.50,113.88 L341.00,113.89 L341.50,113.89 L342.00,113.90 L342.50,113.91 L343.00,113.91 L343.50,113.92 L344.00,113.93 L344.50,113.93 L345.00,113.94 L345.50,113.95 L346.00,113.95 L346.50,113.96 L347.00,113.97 L347.50,113.97 L348.00,113.98 L348.50,113.98 L349.00,113.99 L349.50,114.00 L350.00,114.00 L350.50,114.01 L351.00,114.01 L351.50,114.02 L352.00,114.02 L352.50,114.03 L353.00,114.03 L353.50,114.04 L354.00,114.04 L354.50,114.05 L355.00,114.05 L355.50,114.06 L356.00,114.06 L356.50,114.07 M218.50,113.90 L219.00,113.90 L219.50,113.90 L220.00,113.90 L220.50,113.90 L221.00,113.91 L221.50,113.91 L222.00,113.91 L222.50,113.91 L223.00,113.91 L223.50,113.91 L224.00,113.91 L224.50,113.92 L225.00,113.92 L225.50,113.92 L226.00,113.92 L226.50,113.92 L227.00,113.92 L227.50,113.93 L228.00,113.93 L228.50,113.93 L229.00,113.93 L229.50,113.93 L230.00,113.93 L230.50,113.93 L231.00,113.94 L231.50,113.94 L232.00,113.94 L232.50,113.94 L233.00,113.94 L233.50,113.94 L234.00,113.94 L234.50,113.95 L235.00,113.95 L235.50,113.95 L236.00,113.95 L236.50,113.95 L237.00,113.95 L237.50,113.96 L238.00,113.96 L238.50,113.96 L239.00,113.96 L239.50,113.96 L240.00,113.96 L240.50,113.96 L241.00,113.97 L241.50,113.97 L242.00,113.97 L242.50,113.97 L243.00,113.97 L243.50,113.97 L244.00,113.97 L244.50,113.98 L245.00,113.98 L245.50,113.98 L246.00,113.98 L246.50,113.98 L247.00,113.98 L247.50,113.99 L248.00,113.99 L248.50,113.99 L249.00,113.99 L249.50,113.99 L250.00,113.99 L250.50,113.99 L251.00,114.00 L251.50,114.00 L252.00,114.00 L252.50,114.00 L253.00,114.00 L253.50,114.00 L254.00,114.00 L254.50,114.01 L255.00,114.01 L255.50,114.01 L256.00,114.01 L256.50,114.01 L257.00,114.01 L257.50,114.01 L258.00,114.02 L258.50,114.02 L259.00,114.02 L259.50,114.02 L260.00,114.02 L260.50,114.02 L261.00,114.02 L261.50,114.02 L262.00,114.02 L262.50,114.03 L263.00,114.03 L263.50,114.03 L264.00,114.03 L264.50,114.03 L265.00,114.03 L265.50,114.03 L266.00,114.03 L266.50,114.02 L267.00,114.02 L267.50,114.02 L268.00,114.02 L268.50,114.02 L269.00,114.01 L269.50,114.01 L270.00,114.00 L270.50,114.00 L271.00,113.99 L271.50,113.98 L272.00,113.97 L272.50,113.96 L273.00,113.95 L273.50,113.94 L274.00,113.92 L274.50,113.90 L275.00,113.88 L275.50,113.86 L276.00,113.83 L276.50,113.80 L277.00,113.77 L277.50,113.74 L278.00,113.70 L278.50,113.65 L279.00,113.60 L279.50,113.55 L280.00,113.49 L280.50,113.43 L281.00,113.36 L281.50,113.28 L282.00,113.20 L282.50,113.11 L283.00,113.01 L283.50,112.90 L284.00,112.79 L284.50,112.67 L285.00,112.54 L285.50,112.40 L286.00,112.24 L286.50,112.08 L287.00,111.91 L287.50,111.73 L288.00,111.54 L288.50,111.34 L289.00,111.12 L289.50,110.90 L290.00,110.66 L290.50,110.41 L291.00,110.15 L291.50,109.88 L292.00,109.60 L292.50,109.31 L293.00,109.01 L293.50,108.70 L294.00,108.38 L294.50,108.06 L295.00,107.72 L295.50,107.38 L296.00,107.04 L296.50,106.69 L297.00,106.33 L297.50,105.98 L298.00,105.62 L298.50,105.26 L299.00,104.90 L299.50,104.55 L300.00,104.20 L300.50,103.85 L301.00,103.51 L301.50,103.18 L302.00,102.86 L302.50,102.55 L303.00,102.25 L303.50,101.97 L304.00,101.70 L304.50,101.45 L305.00,101.21 L305.50,101.00 L306.00,100.80 L306.50,100.63 L307.00,100.48 L307.50,100.35 L308.00,100.24 L308.50,100.16 L309.00,100.10 L309.50,100.07 L310.00,100.06 L310.50,100.08 L311.00,100.12 L311.50,100.19 L312.00,100.28 L312.50,100.39 L313.00,100.53 L313.50,100.69 L314.00,100.88 L314.50,101.08 L315.00,101.30 L315.50,101.54 L316.00,101.80 L316.50,102.08 L317.00,102.37 L317.50,102.67 L318.00,102.99 L318.50,103.31 L319.00,103.65 L319.50,103.99 L320.00,104.34 L320.50,104.70 L321.00,105.06 L321.50,105.42 L322.00,105.78 L322.50,106.14 L323.00,106.50 L323.50,106.85 L324.00,107.21 L324.50,107.56 L325.00,107.90 L325.50,108.23 L326.00,108.56 L326.50,108.88 L327.00,109.19 L327.50,109.49 L328.00,109.78 L328.50,110.06 L329.00,110.33 L329.50,110.59 L330.00,110.84 L330.50,111.08 L331.00,111.30 L331.50,111.52 L332.00,111.72 L332.50,111.91 L333.00,112.09 L333.50,112.27 L334.00,112.43 L334.50,112.58 L335.00,112.72 L335.50,112.85 L336.00,112.98 L336.50,113.09 L337.00,113.20 L337.50,113.30 L338.00,113.39 L338.50,113.47 L339.00,113.55 L339.50,113.62 L340.00,113.69 L340.50,113.75 L341.00,113.80 L341.50,113.85 L342.00,113.90 L342.50,113.94 L343.00,113.98 L343.50,114.01 L344.00,114.04 L344.50,114.07 L345.00,114.10 L345.50,114.12 L346.00,114.14 L346.50,114.16 L347.00,114.17 L347.50,114.19 L348.00,114.20 L348.50,114.22 L349.00,114.23 L349.50,114.24 L350.00,114.24 L350.50,114.25 L351.00,114.26 L351.50,114.27 L352.00,114.27 L352.50,114.28 L353.00,114.28 L353.50,114.29 L354.00,114.29 L354.50,114.29 L355.00,114.30 L355.50,114.30 L356.00,114.30 L356.50,114.31 M218.50,113.90 L219.00,113.90 L219.50,113.90 L220.00,113.90 L220.50,113.90 L221.00,113.91 L221.50,113.91 L222.00,113.91 L222.50,113.91 L223.00,113.91 L223.50,113.91 L224.00,113.92 L224.50,113.92 L225.00,113.92 L225.50,113.92 L226.00,113.92 L226.50,113.92 L227.00,113.92 L227.50,113.93 L228.00,113.93 L228.50,113.93 L229.00,113.93 L229.50,113.93 L230.00,113.93 L230.50,113.93 L231.00,113.94 L231.50,113.94 L232.00,113.94 L232.50,113.94 L233.00,113.94 L233.50,113.94 L234.00,113.95 L234.50,113.95 L235.00,113.95 L235.50,113.95 L236.00,113.95 L236.50,113.95 L237.00,113.95 L237.50,113.96 L238.00,113.96 L238.50,113.96 L239.00,113.96 L239.50,113.96 L240.00,113.96 L240.50,113.96 L241.00,113.97 L241.50,113.97 L242.00,113.97 L242.50,113.97 L243.00,113.97 L243.50,113.97 L244.00,113.98 L244.50,113.98 L245.00,113.98 L245.50,113.98 L246.00,113.98 L246.50,113.98 L247.00,113.98 L247.50,113.99 L248.00,113.99 L248.50,113.99 L249.00,113.99 L249.50,113.99 L250.00,113.99 L250.50,113.99 L251.00,114.00 L251.50,114.00 L252.00,114.00 L252.50,114.00 L253.00,114.00 L253.50,114.00 L254.00,114.01 L254.50,114.01 L255.00,114.01 L255.50,114.01 L256.00,114.01 L256.50,114.01 L257.00,114.01 L257.50,114.02 L258.00,114.02 L258.50,114.02 L259.00,114.02 L259.50,114.02 L260.00,114.02 L260.50,114.02 L261.00,114.03 L261.50,114.03 L262.00,114.03 L262.50,114.03 L263.00,114.03 L263.50,114.03 L264.00,114.04 L264.50,114.04 L265.00,114.04 L265.50,114.04 L266.00,114.04 L266.50,114.04 L267.00,114.04 L267.50,114.05 L268.00,114.05 L268.50,114.05 L269.00,114.05 L269.50,114.05 L270.00,114.05 L270.50,114.05 L271.00,114.06 L271.50,114.06 L272.00,114.06 L272.50,114.06 L273.00,114.06 L273.50,114.06 L274.00,114.07 L274.50,114.07 L275.00,114.07 L275.50,114.07 L276.00,114.07 L276.50,114.07 L277.00,114.07 L277.50,114.08 L278.00,114.08 L278.50,114.08 L279.00,114.08 L279.50,114.08 L280.00,114.08 L280.50,114.08 L281.00,114.09 L281.50,114.09 L282.00,114.09 L282.50,114.09 L283.00,114.09 L283.50,114.09 L284.00,114.09 L284.50,114.10 L285.00,114.10 L285.50,114.10 L286.00,114.10 L286.50,114.10 L287.00,114.10 L287.50,114.11 L288.00,114.11 L288.50,114.11 L289.00,114.11 L289.50,114.11 L290.00,114.11 L290.50,114.11 L291.00,114.12 L291.50,114.12 L292.00,114.12 L292.50,114.12 L293.00,114.12 L293.50,114.12 L294.00,114.12 L294.50,114.13 L295.00,114.13 L295.50,114.13 L296.00,114.13 L296.50,114.13 L297.00,114.13 L297.50,114.14 L298.00,114.14 L298.50,114.14 L299.00,114.14 L299.50,114.14 L300.00,114.14 L300.50,114.14 L301.00,114.15 L301.50,114.15 L302.00,114.15 L302.50,114.15 L303.00,114.15 L303.50,114.15 L304.00,114.16 L304.50,114.16 L305.00,114.16 L305.50,114.16 L306.00,114.16 L306.50,114.16 L307.00,114.16 L307.50,114.17 L308.00,114.17 L308.50,114.17 L309.00,114.17 L309.50,114.17 L310.00,114.17 L310.50,114.17 L311.00,114.18 L311.50,114.18 L312.00,114.18 L312.50,114.18 L313.00,114.18 L313.50,114.18 L314.00,114.19 L314.50,114.19 L315.00,114.19 L315.50,114.19 L316.00,114.19 L316.50,114.19 L317.00,114.19 L317.50,114.20 L318.00,114.20 L318.50,114.20 L319.00,114.20 L319.50,114.20 L320.00,114.20 L320.50,114.20 L321.00,114.21 L321.50,114.21 L322.00,114.21 L322.50,114.21 L323.00,114.21 L323.50,114.21 L324.00,114.22 L324.50,114.22 L325.00,114.22 L325.50,114.22 L326.00,114.22 L326.50,114.22 L327.00,114.22 L327.50,114.23 L328.00,114.23 L328.50,114.23 L329.00,114.23 L329.50,114.23 L330.00,114.23 L330.50,114.23 L331.00,114.24 L331.50,114.24 L332.00,114.24 L332.50,114.24 L333.00,114.24 L333.50,114.24 L334.00,114.25 L334.50,114.25 L335.00,114.25 L335.50,114.25 L336.00,114.25 L336.50,114.25 L337.00,114.25 L337.50,114.26 L338.00,114.26 L338.50,114.26 L339.00,114.26 L339.50,114.26 L340.00,114.26 L340.50,114.26 L341.00,114.27 L341.50,114.27 L342.00,114.27 L342.50,114.27 L343.00,114.27 L343.50,114.27 L344.00,114.28 L344.50,114.28 L345.00,114.28 L345.50,114.28 L346.00,114.28 L346.50,114.28 L347.00,114.28 L347.50,114.29 L348.00,114.29 L348.50,114.29 L349.00,114.29 L349.50,114.29 L350.00,114.29 L350.50,114.29 L351.00,114.30 L351.50,114.30 L352.00,114.30 L352.50,114.30 L353.00,114.30 L353.50,114.30 L354.00,114.31 L354.50,114.31 L355.00,114.31 L355.50,114.31 L356.00,114.31 L356.50,114.31" stroke="#8c8c8c" stroke-width="1.1" fill="none"/>
<path d="M218.50,113.27 L219.00,113.26 L219.50,113.25 L220.00,113.25 L220.50,113.24 L221.00,113.23 L221.50,113.22 L222.00,113.21 L222.50,113.20 L223.00,113.19 L223.50,113.17 L224.00,113.16 L224.50,113.15 L225.00,113.14 L225.50,113.13 L226.00,113.11 L226.50,113.10 L227.00,113.09 L227.50,113.07 L228.00,113.06 L228.50,113.04 L229.00,113.02 L229.50,113.01 L230.00,112.99 L230.50,112.97 L231.00,112.95 L231.50,112.93 L232.00,112.91 L232.50,112.89 L233.00,112.87 L233.50,112.84 L234.00,112.81 L234.50,112.79 L235.00,112.76 L235.50,112.73 L236.00,112.69 L236.50,112.66 L237.00,112.62 L237.50,112.58 L238.00,112.53 L238.50,112.48 L239.00,112.43 L239.50,112.37 L240.00,112.31 L240.50,112.25 L241.00,112.18 L241.50,112.10 L242.00,112.01 L242.50,111.92 L243.00,111.82 L243.50,111.71 L244.00,111.59 L244.50,111.46 L245.00,111.31 L245.50,111.16 L246.00,110.99 L246.50,110.80 L247.00,110.60 L247.50,110.38 L248.00,110.15 L248.50,109.89 L249.00,109.61 L249.50,109.31 L250.00,108.98 L250.50,108.63 L251.00,108.24 L251.50,107.83 L252.00,107.39 L252.50,106.91 L253.00,106.41 L253.50,105.86 L254.00,105.28 L254.50,104.65 L255.00,103.99 L255.50,103.29 L256.00,102.54 L256.50,101.75 L257.00,100.91 L257.50,100.03 L258.00,99.10 L258.50,98.13 L259.00,97.11 L259.50,96.04 L260.00,94.92 L260.50,93.76 L261.00,92.55 L261.50,91.29 L262.00,90.00 L262.50,88.66 L263.00,87.28 L263.50,85.87 L264.00,84.42 L264.50,82.94 L265.00,81.44 L265.50,79.91 L266.00,78.36 L266.50,76.79 L267.00,75.21 L267.50,73.63 L268.00,72.05 L268.50,70.47 L269.00,68.91 L269.50,67.36 L270.00,65.84 L270.50,64.34 L271.00,62.89 L271.50,61.48 L272.00,60.13 L272.50,58.83 L273.00,57.60 L273.50,56.44 L274.00,55.37 L274.50,54.38 L275.00,53.49 L275.50,52.69 L276.00,52.01 L276.50,51.43 L277.00,50.97 L277.50,50.62 L278.00,50.39 L278.50,50.29 L279.00,50.33 L279.50,50.57 L280.00,50.99 L280.50,51.59 L281.00,52.36 L281.50,53.29 L282.00,54.37 L282.50,55.58 L283.00,56.91 L283.50,58.35 L284.00,59.88 L284.50,61.49 L285.00,63.17 L285.50,64.89 L286.00,66.65 L286.50,68.43 L287.00,70.22 L287.50,72.00 L288.00,73.78 L288.50,75.53 L289.00,77.24 L289.50,78.91 L290.00,80.54 L290.50,82.10 L291.00,83.60 L291.50,85.04 L292.00,86.40 L292.50,87.68 L293.00,88.89 L293.50,90.01 L294.00,91.06 L294.50,92.02 L295.00,92.91 L295.50,93.71 L296.00,94.44 L296.50,95.09 L297.00,95.67 L297.50,96.18 L298.00,96.63 L298.50,97.01 L299.00,97.34 L299.50,97.61 L300.00,97.84 L300.50,98.02 L301.00,98.16 L301.50,98.27 L302.00,98.34 L302.50,98.39 L303.00,98.42 L303.50,98.43 L304.00,98.43 L304.50,98.41 L305.00,98.40 L305.50,98.37 L306.00,98.35 L306.50,98.34 L307.00,98.32 L307.50,98.32 L308.00,98.33 L308.50,98.35 L309.00,98.38 L309.50,98.44 L310.00,98.50 L310.50,98.59 L311.00,98.69 L311.50,98.82 L312.00,98.96 L312.50,99.12 L313.00,99.31 L313.50,99.51 L314.00,99.73 L314.50,99.97 L315.00,100.22 L315.50,100.50 L316.00,100.78 L316.50,101.09 L317.00,101.40 L317.50,101.73 L318.00,102.07 L318.50,102.42 L319.00,102.78 L319.50,103.14 L320.00,103.51 L320.50,103.88 L321.00,104.26 L321.50,104.64 L322.00,105.02 L322.50,105.40 L323.00,105.77 L323.50,106.14 L324.00,106.51 L324.50,106.87 L325.00,107.23 L325.50,107.58 L326.00,107.92 L326.50,108.25 L327.00,108.57 L327.50,108.88 L328.00,109.19 L328.50,109.48 L329.00,109.76 L329.50,110.03 L330.00,110.29 L330.50,110.53 L331.00,110.77 L331.50,110.99 L332.00,111.21 L332.50,111.41 L333.00,111.60 L333.50,111.78 L334.00,111.95 L334.50,112.11 L335.00,112.26 L335.50,112.40 L336.00,112.53 L336.50,112.65 L337.00,112.77 L337.50,112.87 L338.00,112.97 L338.50,113.06 L339.00,113.15 L339.50,113.22 L340.00,113.30 L340.50,113.36 L341.00,113.42 L341.50,113.48 L342.00,113.53 L342.50,113.58 L343.00,113.62 L343.50,113.66 L344.00,113.70 L344.50,113.73 L345.00,113.76 L345.50,113.79 L346.00,113.81 L346.50,113.84 L347.00,113.86 L347.50,113.88 L348.00,113.89 L348.50,113.91 L349.00,113.93 L349.50,113.94 L350.00,113.95 L350.50,113.96 L351.00,113.98 L351.50,113.99 L352.00,114.00 L352.50,114.00 L353.00,114.01 L353.50,114.02 L354.00,114.03 L354.50,114.03 L355.00,114.04 L355.50,114.05 L356.00,114.05 L356.50,114.06" stroke="#8a8a8a" stroke-width="1.4" fill="none"/>
<g fill="#686868"><circle cx="218.1" cy="112.9" r="0.9"/><circle cx="219.9" cy="113.2" r="0.9"/><circle cx="221.7" cy="113.5" r="0.9"/><circle cx="223.1" cy="112.8" r="0.9"/><circle cx="224.4" cy="113.2" r="0.9"/><circle cx="225.6" cy="112.8" r="0.9"/><circle cx="226.8" cy="113.5" r="0.9"/><circle cx="228.6" cy="113.9" r="0.9"/><circle cx="229.7" cy="113.7" r="0.9"/><circle cx="231.1" cy="112.9" r="0.9"/><circle cx="232.4" cy="113.1" r="0.9"/><circle cx="233.9" cy="112.9" r="0.9"/><circle cx="235.2" cy="112.8" r="0.9"/><circle cx="236.7" cy="113.2" r="0.9"/><circle cx="237.9" cy="112.1" r="0.9"/><circle cx="239.4" cy="112.7" r="0.9"/><circle cx="241.3" cy="112.2" r="0.9"/><circle cx="242.2" cy="112.5" r="0.9"/><circle cx="243.6" cy="111.7" r="0.9"/><circle cx="245.1" cy="111.1" r="0.9"/><circle cx="246.4" cy="111.0" r="0.9"/><circle cx="247.4" cy="110.6" r="0.9"/><circle cx="248.8" cy="109.7" r="0.9"/><circle cx="250.2" cy="109.1" r="0.9"/><circle cx="251.2" cy="107.9" r="0.9"/><circle cx="252.2" cy="106.5" r="0.9"/><circle cx="253.5" cy="106.5" r="0.9"/><circle cx="254.0" cy="105.4" r="0.9"/><circle cx="255.0" cy="104.1" r="0.9"/><circle cx="255.6" cy="102.9" r="0.9"/><circle cx="256.8" cy="102.1" r="0.9"/><circle cx="256.8" cy="100.4" r="0.9"/><circle cx="257.8" cy="99.0" r="0.9"/><circle cx="258.4" cy="98.0" r="0.9"/><circle cx="259.3" cy="97.2" r="0.9"/><circle cx="259.9" cy="95.0" r="0.9"/><circle cx="260.6" cy="94.6" r="0.9"/><circle cx="260.5" cy="92.7" r="0.9"/><circle cx="261.5" cy="91.3" r="0.9"/><circle cx="261.8" cy="90.8" r="0.9"/><circle cx="262.2" cy="89.0" r="0.9"/><circle cx="263.0" cy="87.3" r="0.9"/><circle cx="263.1" cy="86.3" r="0.9"/><circle cx="263.3" cy="85.4" r="0.9"/><circle cx="264.2" cy="84.2" r="0.9"/><circle cx="264.4" cy="82.3" r="0.9"/><circle cx="265.0" cy="81.2" r="0.9"/><circle cx="265.6" cy="80.0" r="0.9"/><circle cx="266.0" cy="78.2" r="0.9"/><circle cx="266.7" cy="77.2" r="0.9"/><circle cx="266.8" cy="75.7" r="0.9"/><circle cx="266.9" cy="74.2" r="0.9"/><circle cx="267.5" cy="72.9" r="0.9"/><circle cx="267.9" cy="71.8" r="0.9"/><circle cx="268.3" cy="70.4" r="0.9"/><circle cx="269.0" cy="68.9" r="0.9"/><circle cx="269.2" cy="67.6" r="0.9"/><circle cx="269.4" cy="66.8" r="0.9"/><circle cx="270.4" cy="65.2" r="0.9"/><circle cx="270.7" cy="64.1" r="0.9"/><circle cx="271.2" cy="62.9" r="0.9"/><circle cx="271.7" cy="61.3" r="0.9"/><circle cx="272.3" cy="60.6" r="0.9"/><circle cx="272.6" cy="58.2" r="0.9"/><circle cx="273.4" cy="57.5" r="0.9"/><circle cx="273.8" cy="55.8" r="0.9"/><circle cx="274.4" cy="55.3" r="0.9"/><circle cx="275.1" cy="54.1" r="0.9"/><circle cx="275.5" cy="51.6" r="0.9"/><circle cx="276.7" cy="50.9" r="0.9"/><circle cx="277.8" cy="50.7" r="0.9"/><circle cx="279.3" cy="50.7" r="0.9"/><circle cx="280.0" cy="51.6" r="0.9"/><circle cx="281.4" cy="52.4" r="0.9"/><circle cx="281.7" cy="53.9" r="0.9"/><circle cx="282.0" cy="55.2" r="0.9"/><circle cx="282.4" cy="56.3" r="0.9"/><circle cx="283.2" cy="58.0" r="0.9"/><circle cx="283.7" cy="58.2" r="0.9"/><circle cx="284.0" cy="60.5" r="0.9"/><circle cx="284.6" cy="61.3" r="0.9"/><circle cx="284.8" cy="63.3" r="0.9"/><circle cx="285.4" cy="64.2" r="0.9"/><circle cx="285.6" cy="65.3" r="0.9"/><circle cx="286.1" cy="67.1" r="0.9"/><circle cx="286.7" cy="68.0" r="0.9"/><circle cx="287.4" cy="69.4" r="0.9"/><circle cx="287.0" cy="70.5" r="0.9"/><circle cx="287.5" cy="72.4" r="0.9"/><circle cx="287.8" cy="73.9" r="0.9"/><circle cx="288.5" cy="75.4" r="0.9"/><circle cx="288.5" cy="76.4" r="0.9"/><circle cx="289.1" cy="78.1" r="0.9"/><circle cx="289.6" cy="79.1" r="0.9"/><circle cx="289.8" cy="80.4" r="0.9"/><circle cx="290.2" cy="82.0" r="0.9"/><circle cx="290.7" cy="83.5" r="0.9"/><circle cx="290.8" cy="84.3" r="0.9"/><circle cx="291.5" cy="85.7" r="0.9"/><circle cx="292.2" cy="87.0" r="0.9"/><circle cx="292.8" cy="88.4" r="0.9"/><circle cx="293.3" cy="89.3" r="0.9"/><circle cx="293.6" cy="91.3" r="0.9"/><circle cx="294.5" cy="92.0" r="0.9"/><circle cx="295.5" cy="93.5" r="0.9"/><circle cx="296.2" cy="94.2" r="0.9"/><circle cx="296.9" cy="95.7" r="0.9"/><circle cx="297.8" cy="96.7" r="0.9"/><circle cx="299.2" cy="97.2" r="0.9"/><circle cx="300.2" cy="98.7" r="0.9"/><circle cx="301.5" cy="98.4" r="0.9"/><circle cx="302.9" cy="99.0" r="0.9"/><circle cx="304.8" cy="98.7" r="0.9"/><circle cx="306.0" cy="98.1" r="0.9"/><circle cx="307.6" cy="98.2" r="0.9"/><circle cx="308.6" cy="98.5" r="0.9"/><circle cx="310.3" cy="98.5" r="0.9"/><circle cx="311.3" cy="98.8" r="0.9"/><circle cx="312.8" cy="99.1" r="0.9"/><circle cx="314.6" cy="99.1" r="0.9"/><circle cx="315.5" cy="100.3" r="0.9"/><circle cx="316.4" cy="100.3" r="0.9"/><circle cx="317.7" cy="102.0" r="0.9"/><circle cx="318.9" cy="102.4" r="0.9"/><circle cx="320.3" cy="103.3" r="0.9"/><circle cx="321.0" cy="104.3" r="0.9"/><circle cx="321.9" cy="105.3" r="0.9"/><circle cx="323.3" cy="105.5" r="0.9"/><circle cx="324.5" cy="106.3" r="0.9"/><circle cx="325.7" cy="107.3" r="0.9"/><circle cx="327.1" cy="107.7" r="0.9"/><circle cx="328.1" cy="108.8" r="0.9"/><circle cx="329.4" cy="110.4" r="0.9"/><circle cx="330.2" cy="110.1" r="0.9"/><circle cx="331.9" cy="111.3" r="0.9"/><circle cx="333.5" cy="111.1" r="0.9"/><circle cx="334.5" cy="112.2" r="0.9"/><circle cx="335.8" cy="112.3" r="0.9"/><circle cx="337.1" cy="112.8" r="0.9"/><circle cx="338.8" cy="113.2" r="0.9"/><circle cx="339.6" cy="113.9" r="0.9"/><circle cx="341.2" cy="113.5" r="0.9"/><circle cx="342.7" cy="113.6" r="0.9"/><circle cx="344.1" cy="113.4" r="0.9"/><circle cx="345.3" cy="114.0" r="0.9"/><circle cx="346.9" cy="113.8" r="0.9"/><circle cx="348.1" cy="114.2" r="0.9"/><circle cx="349.6" cy="113.9" r="0.9"/><circle cx="351.0" cy="114.6" r="0.9"/><circle cx="352.1" cy="113.3" r="0.9"/><circle cx="353.8" cy="113.9" r="0.9"/><circle cx="355.4" cy="114.4" r="0.9"/></g>
<path d="M232.00,196.45 L232.50,196.45 L233.00,196.44 L233.50,196.44 L234.00,196.43 L234.50,196.42 L235.00,196.41 L235.50,196.40 L236.00,196.39 L236.50,196.38 L237.00,196.37 L237.50,196.35 L238.00,196.33 L238.50,196.31 L239.00,196.29 L239.50,196.26 L240.00,196.23 L240.50,196.20 L241.00,196.16 L241.50,196.12 L242.00,196.07 L242.50,196.02 L243.00,195.96 L243.50,195.89 L244.00,195.82 L244.50,195.74 L245.00,195.65 L245.50,195.56 L246.00,195.45 L246.50,195.34 L247.00,195.21 L247.50,195.08 L248.00,194.93 L248.50,194.77 L249.00,194.60 L249.50,194.42 L250.00,194.22 L250.50,194.01 L251.00,193.79 L251.50,193.55 L252.00,193.30 L252.50,193.03 L253.00,192.75 L253.50,192.46 L254.00,192.16 L254.50,191.84 L255.00,191.51 L255.50,191.17 L256.00,190.82 L256.50,190.46 L257.00,190.09 L257.50,189.72 L258.00,189.33 L258.50,188.95 L259.00,188.56 L259.50,188.17 L260.00,187.78 L260.50,187.40 L261.00,187.02 L261.50,186.65 L262.00,186.28 L262.50,185.93 L263.00,185.59 L263.50,185.26 L264.00,184.96 L264.50,184.67 L265.00,184.40 L265.50,184.15 L266.00,183.93 L266.50,183.74 L267.00,183.57 L267.50,183.43 L268.00,183.33 L268.50,183.25 L269.00,183.20 L269.50,183.19 L270.00,183.20 L270.50,183.25 L271.00,183.33 L271.50,183.43 L272.00,183.57 L272.50,183.74 L273.00,183.93 L273.50,184.15 L274.00,184.40 L274.50,184.67 L275.00,184.96 L275.50,185.26 L276.00,185.59 L276.50,185.93 L277.00,186.28 L277.50,186.65 L278.00,187.02 L278.50,187.40 L279.00,187.78 L279.50,188.17 L280.00,188.56 L280.50,188.95 L281.00,189.33 L281.50,189.72 L282.00,190.09 L282.50,190.46 L283.00,190.82 L283.50,191.17 L284.00,191.51 L284.50,191.84 L285.00,192.16 L285.50,192.46 L286.00,192.75 L286.50,193.03 L287.00,193.30 L287.50,193.55 L288.00,193.79 L288.50,194.01 L289.00,194.22 L289.50,194.42 L290.00,194.60 L290.50,194.77 L291.00,194.93 L291.50,195.08 L292.00,195.21 L292.50,195.34 L293.00,195.45 L293.50,195.56 L294.00,195.65 L294.50,195.74 L295.00,195.82 L295.50,195.89 L296.00,195.96 L296.50,196.02 L297.00,196.07 L297.50,196.12 L298.00,196.16 L298.50,196.20 L299.00,196.23 L299.50,196.26 L300.00,196.29 L300.50,196.31 L301.00,196.33 L301.50,196.35 L302.00,196.37 L302.50,196.38 L303.00,196.39 L303.50,196.40 L304.00,196.41 L304.50,196.42 L305.00,196.43 L305.50,196.44 L306.00,196.44 L306.50,196.45 L307.00,196.45 M218.50,196.45 L219.00,196.45 L219.50,196.45 L220.00,196.45 L220.50,196.45 L221.00,196.45 L221.50,196.45 L222.00,196.44 L222.50,196.44 L223.00,196.44 L223.50,196.44 L224.00,196.44 L224.50,196.44 L225.00,196.44 L225.50,196.44 L226.00,196.44 L226.50,196.44 L227.00,196.43 L227.50,196.43 L228.00,196.43 L228.50,196.43 L229.00,196.43 L229.50,196.43 L230.00,196.43 L230.50,196.43 L231.00,196.43 L231.50,196.42 L232.00,196.42 L232.50,196.42 L233.00,196.42 L233.50,196.42 L234.00,196.42 L234.50,196.41 L235.00,196.41 L235.50,196.41 L236.00,196.41 L236.50,196.41 L237.00,196.41 L237.50,196.40 L238.00,196.40 L238.50,196.40 L239.00,196.40 L239.50,196.39 L240.00,196.39 L240.50,196.39 L241.00,196.38 L241.50,196.38 L242.00,196.38 L242.50,196.37 L243.00,196.37 L243.50,196.36 L244.00,196.36 L244.50,196.35 L245.00,196.34 L245.50,196.33 L246.00,196.32 L246.50,196.31 L247.00,196.30 L247.50,196.29 L248.00,196.27 L248.50,196.25 L249.00,196.23 L249.50,196.20 L250.00,196.17 L250.50,196.14 L251.00,196.10 L251.50,196.05 L252.00,196.00 L252.50,195.94 L253.00,195.87 L253.50,195.80 L254.00,195.71 L254.50,195.61 L255.00,195.50 L255.50,195.37 L256.00,195.22 L256.50,195.06 L257.00,194.88 L257.50,194.67 L258.00,194.44 L258.50,194.18 L259.00,193.89 L259.50,193.57 L260.00,193.22 L260.50,192.83 L261.00,192.40 L261.50,191.92 L262.00,191.40 L262.50,190.84 L263.00,190.22 L263.50,189.54 L264.00,188.81 L264.50,188.02 L265.00,187.17 L265.50,186.25 L266.00,185.27 L266.50,184.23 L267.00,183.11 L267.50,181.92 L268.00,180.67 L268.50,179.34 L269.00,177.95 L269.50,176.49 L270.00,174.97 L270.50,173.38 L271.00,171.73 L271.50,170.02 L272.00,168.27 L272.50,166.46 L273.00,164.62 L273.50,162.74 L274.00,160.84 L274.50,158.92 L275.00,156.98 L275.50,155.05 L276.00,153.12 L276.50,151.21 L277.00,149.33 L277.50,147.49 L278.00,145.70 L278.50,143.96 L279.00,142.30 L279.50,140.72 L280.00,139.22 L280.50,137.83 L281.00,136.55 L281.50,135.39 L282.00,134.36 L282.50,133.46 L283.00,132.71 L283.50,132.10 L284.00,131.64 L284.50,131.34 L285.00,131.20 L285.50,131.21 L286.00,131.39 L286.50,131.72 L287.00,132.21 L287.50,132.85 L288.00,133.63 L288.50,134.56 L289.00,135.61 L289.50,136.80 L290.00,138.10 L290.50,139.51 L291.00,141.03 L291.50,142.63 L292.00,144.30 L292.50,146.05 L293.00,147.86 L293.50,149.71 L294.00,151.59 L294.50,153.51 L295.00,155.44 L295.50,157.37 L296.00,159.30 L296.50,161.22 L297.00,163.12 L297.50,164.99 L298.00,166.83 L298.50,168.62 L299.00,170.37 L299.50,172.06 L300.00,173.70 L300.50,175.28 L301.00,176.79 L301.50,178.24 L302.00,179.61 L302.50,180.92 L303.00,182.17 L303.50,183.34 L304.00,184.44 L304.50,185.47 L305.00,186.44 L305.50,187.34 L306.00,188.18 L306.50,188.96 L307.00,189.68 L307.50,190.34 L308.00,190.95 L308.50,191.51 L309.00,192.02 L309.50,192.49 L310.00,192.91 L310.50,193.29 L311.00,193.64 L311.50,193.95 L312.00,194.23 L312.50,194.49 L313.00,194.71 L313.50,194.91 L314.00,195.09 L314.50,195.25 L315.00,195.40 L315.50,195.52 L316.00,195.63 L316.50,195.73 L317.00,195.81 L317.50,195.89 L318.00,195.95 L318.50,196.01 L319.00,196.06 L319.50,196.11 L320.00,196.14 L320.50,196.18 L321.00,196.21 L321.50,196.23 L322.00,196.25 L322.50,196.27 L323.00,196.29 L323.50,196.30 L324.00,196.32 L324.50,196.33 L325.00,196.34 L325.50,196.34 L326.00,196.35 L326.50,196.36 L327.00,196.36 L327.50,196.37 L328.00,196.37 L328.50,196.38 L329.00,196.38 L329.50,196.39 L330.00,196.39 L330.50,196.39 L331.00,196.39 L331.50,196.40 L332.00,196.40 L332.50,196.40 L333.00,196.40 L333.50,196.41 L334.00,196.41 L334.50,196.41 L335.00,196.41 L335.50,196.41 L336.00,196.42 L336.50,196.42 L337.00,196.42 L337.50,196.42 L338.00,196.42 L338.50,196.42 L339.00,196.42 L339.50,196.43 L340.00,196.43 L340.50,196.43 L341.00,196.43 L341.50,196.43 L342.00,196.43 L342.50,196.43 L343.00,196.43 L343.50,196.43 L344.00,196.44 L344.50,196.44 L345.00,196.44 L345.50,196.44 L346.00,196.44 L346.50,196.44 L347.00,196.44 L347.50,196.44 L348.00,196.44 L348.50,196.44 L349.00,196.45 L349.50,196.45 L350.00,196.45 L350.50,196.45 L351.00,196.45 L351.50,196.45 L352.00,196.45 L352.50,196.45 M273.50,196.45 L274.00,196.45 L274.50,196.45 L275.00,196.44 L275.50,196.44 L276.00,196.43 L276.50,196.43 L277.00,196.42 L277.50,196.42 L278.00,196.41 L278.50,196.40 L279.00,196.39 L279.50,196.38 L280.00,196.37 L280.50,196.36 L281.00,196.34 L281.50,196.33 L282.00,196.31 L282.50,196.28 L283.00,196.26 L283.50,196.23 L284.00,196.20 L284.50,196.16 L285.00,196.12 L285.50,196.07 L286.00,196.02 L286.50,195.96 L287.00,195.90 L287.50,195.83 L288.00,195.75 L288.50,195.66 L289.00,195.56 L289.50,195.45 L290.00,195.33 L290.50,195.20 L291.00,195.06 L291.50,194.90 L292.00,194.73 L292.50,194.55 L293.00,194.35 L293.50,194.13 L294.00,193.90 L294.50,193.65 L295.00,193.38 L295.50,193.09 L296.00,192.78 L296.50,192.45 L297.00,192.10 L297.50,191.73 L298.00,191.34 L298.50,190.93 L299.00,190.50 L299.50,190.05 L300.00,189.59 L300.50,189.10 L301.00,188.59 L301.50,188.07 L302.00,187.53 L302.50,186.98 L303.00,186.42 L303.50,185.84 L304.00,185.26 L304.50,184.67 L305.00,184.08 L305.50,183.48 L306.00,182.89 L306.50,182.29 L307.00,181.71 L307.50,181.13 L308.00,180.56 L308.50,180.01 L309.00,179.48 L309.50,178.97 L310.00,178.48 L310.50,178.02 L311.00,177.59 L311.50,177.19 L312.00,176.82 L312.50,176.49 L313.00,176.20 L313.50,175.96 L314.00,175.75 L314.50,175.59 L315.00,175.47 L315.50,175.40 L316.00,175.38 L316.50,175.40 L317.00,175.47 L317.50,175.59 L318.00,175.75 L318.50,175.96 L319.00,176.20 L319.50,176.49 L320.00,176.82 L320.50,177.19 L321.00,177.59 L321.50,178.02 L322.00,178.48 L322.50,178.97 L323.00,179.48 L323.50,180.01 L324.00,180.56 L324.50,181.13 L325.00,181.71 L325.50,182.29 L326.00,182.89 L326.50,183.48 L327.00,184.08 L327.50,184.67 L328.00,185.26 L328.50,185.84 L329.00,186.42 L329.50,186.98 L330.00,187.53 L330.50,188.07 L331.00,188.59 L331.50,189.10 L332.00,189.59 L332.50,190.05 L333.00,190.50 L333.50,190.93 L334.00,191.34 L334.50,191.73 L335.00,192.10 L335.50,192.45 L336.00,192.78 L336.50,193.09 L337.00,193.38 L337.50,193.65 L338.00,193.90 L338.50,194.13 L339.00,194.35 L339.50,194.55 L340.00,194.73 L340.50,194.90 L341.00,195.06 L341.50,195.20 L342.00,195.33 L342.50,195.45 L343.00,195.56 L343.50,195.66 L344.00,195.75 L344.50,195.83 L345.00,195.90 L345.50,195.96 L346.00,196.02 L346.50,196.07 L347.00,196.12 L347.50,196.16 L348.00,196.20 L348.50,196.23 L349.00,196.26 L349.50,196.28 L350.00,196.31 L350.50,196.33 L351.00,196.34 L351.50,196.36 L352.00,196.37 L352.50,196.38 L353.00,196.39 L353.50,196.40 L354.00,196.41 L354.50,196.42 L355.00,196.42 L355.50,196.43 L356.00,196.43 L356.50,196.44 M218.50,196.50 L219.00,196.50 L219.50,196.50 L220.00,196.50 L220.50,196.50 L221.00,196.50 L221.50,196.50 L222.00,196.50 L222.50,196.50 L223.00,196.50 L223.50,196.50 L224.00,196.50 L224.50,196.50 L225.00,196.50 L225.50,196.50 L226.00,196.50 L226.50,196.50 L227.00,196.50 L227.50,196.50 L228.00,196.50 L228.50,196.50 L229.00,196.50 L229.50,196.50 L230.00,196.50 L230.50,196.50 L231.00,196.50 L231.50,196.50 L232.00,196.50 L232.50,196.50 L233.00,196.50 L233.50,196.50 L234.00,196.50 L234.50,196.50 L235.00,196.50 L235.50,196.50 L236.00,196.50 L236.50,196.50 L237.00,196.50 L237.50,196.50 L238.00,196.50 L238.50,196.50 L239.00,196.50 L239.50,196.50 L240.00,196.50 L240.50,196.50 L241.00,196.50 L241.50,196.50 L242.00,196.50 L242.50,196.50 L243.00,196.50 L243.50,196.50 L244.00,196.50 L244.50,196.50 L245.00,196.50 L245.50,196.50 L246.00,196.50 L246.50,196.50 L247.00,196.50 L247.50,196.50 L248.00,196.50 L248.50,196.50 L249.00,196.50 L249.50,196.50 L250.00,196.50 L250.50,196.50 L251.00,196.50 L251.50,196.50 L252.00,196.50 L252.50,196.50 L253.00,196.50 L253.50,196.50 L254.00,196.50 L254.50,196.50 L255.00,196.50 L255.50,196.50 L256.00,196.50 L256.50,196.50 L257.00,196.50 L257.50,196.50 L258.00,196.50 L258.50,196.50 L259.00,196.50 L259.50,196.50 L260.00,196.50 L260.50,196.50 L261.00,196.50 L261.50,196.50 L262.00,196.50 L262.50,196.50 L263.00,196.50 L263.50,196.50 L264.00,196.50 L264.50,196.50 L265.00,196.50 L265.50,196.50 L266.00,196.50 L266.50,196.50 L267.00,196.50 L267.50,196.50 L268.00,196.50 L268.50,196.50 L269.00,196.50 L269.50,196.50 L270.00,196.50 L270.50,196.50 L271.00,196.50 L271.50,196.50 L272.00,196.50 L272.50,196.50 L273.00,196.50 L273.50,196.50 L274.00,196.50 L274.50,196.50 L275.00,196.50 L275.50,196.50 L276.00,196.50 L276.50,196.50 L277.00,196.50 L277.50,196.50 L278.00,196.50 L278.50,196.50 L279.00,196.50 L279.50,196.50 L280.00,196.50 L280.50,196.50 L281.00,196.50 L281.50,196.50 L282.00,196.50 L282.50,196.50 L283.00,196.50 L283.50,196.50 L284.00,196.50 L284.50,196.50 L285.00,196.50 L285.50,196.50 L286.00,196.50 L286.50,196.50 L287.00,196.50 L287.50,196.50 L288.00,196.50 L288.50,196.50 L289.00,196.50 L289.50,196.50 L290.00,196.50 L290.50,196.50 L291.00,196.50 L291.50,196.50 L292.00,196.50 L292.50,196.50 L293.00,196.50 L293.50,196.50 L294.00,196.50 L294.50,196.50 L295.00,196.50 L295.50,196.50 L296.00,196.50 L296.50,196.50 L297.00,196.50 L297.50,196.50 L298.00,196.50 L298.50,196.50 L299.00,196.50 L299.50,196.50 L300.00,196.50 L300.50,196.50 L301.00,196.50 L301.50,196.50 L302.00,196.50 L302.50,196.50 L303.00,196.50 L303.50,196.50 L304.00,196.50 L304.50,196.50 L305.00,196.50 L305.50,196.50 L306.00,196.50 L306.50,196.50 L307.00,196.50 L307.50,196.50 L308.00,196.50 L308.50,196.50 L309.00,196.50 L309.50,196.50 L310.00,196.50 L310.50,196.50 L311.00,196.50 L311.50,196.50 L312.00,196.50 L312.50,196.50 L313.00,196.50 L313.50,196.50 L314.00,196.50 L314.50,196.50 L315.00,196.50 L315.50,196.50 L316.00,196.50 L316.50,196.50 L317.00,196.50 L317.50,196.50 L318.00,196.50 L318.50,196.50 L319.00,196.50 L319.50,196.50 L320.00,196.50 L320.50,196.50 L321.00,196.50 L321.50,196.50 L322.00,196.50 L322.50,196.50 L323.00,196.50 L323.50,196.50 L324.00,196.50 L324.50,196.50 L325.00,196.50 L325.50,196.50 L326.00,196.50 L326.50,196.50 L327.00,196.50 L327.50,196.50 L328.00,196.50 L328.50,196.50 L329.00,196.50 L329.50,196.50 L330.00,196.50 L330.50,196.50 L331.00,196.50 L331.50,196.50 L332.00,196.50 L332.50,196.50 L333.00,196.50 L333.50,196.50 L334.00,196.50 L334.50,196.50 L335.00,196.50 L335.50,196.50 L336.00,196.50 L336.50,196.50 L337.00,196.50 L337.50,196.50 L338.00,196.50 L338.50,196.50 L339.00,196.50 L339.50,196.50 L340.00,196.50 L340.50,196.50 L341.00,196.50 L341.50,196.50 L342.00,196.50 L342.50,196.50 L343.00,196.50 L343.50,196.50 L344.00,196.50 L344.50,196.50 L345.00,196.50 L345.50,196.50 L346.00,196.50 L346.50,196.50 L347.00,196.50 L347.50,196.50 L348.00,196.50 L348.50,196.50 L349.00,196.50 L349.50,196.50 L350.00,196.50 L350.50,196.50 L351.00,196.50 L351.50,196.50 L352.00,196.50 L352.50,196.50 L353.00,196.50 L353.50,196.50 L354.00,196.50 L354.50,196.50 L355.00,196.50 L355.50,196.50 L356.00,196.50 L356.50,196.50" stroke="#f000d0" stroke-width="1.6" fill="none"/>
<g fill="#111"><circle cx="218.4" cy="195.1" r="1.0"/><circle cx="219.6" cy="195.4" r="1.0"/><circle cx="221.0" cy="195.1" r="1.0"/><circle cx="222.1" cy="195.2" r="1.0"/><circle cx="223.7" cy="196.2" r="1.0"/><circle cx="225.6" cy="195.8" r="1.0"/><circle cx="226.6" cy="195.1" r="1.0"/><circle cx="227.3" cy="196.0" r="1.0"/><circle cx="228.7" cy="196.2" r="1.0"/><circle cx="230.1" cy="195.5" r="1.0"/><circle cx="231.7" cy="195.4" r="1.0"/><circle cx="232.6" cy="195.5" r="1.0"/><circle cx="233.9" cy="195.7" r="1.0"/><circle cx="235.6" cy="195.9" r="1.0"/><circle cx="236.9" cy="196.0" r="1.0"/><circle cx="237.9" cy="196.0" r="1.0"/><circle cx="239.0" cy="195.9" r="1.0"/><circle cx="240.2" cy="195.9" r="1.0"/><circle cx="241.7" cy="195.5" r="1.0"/><circle cx="242.6" cy="194.5" r="1.0"/><circle cx="244.6" cy="194.8" r="1.0"/><circle cx="245.6" cy="194.7" r="1.0"/><circle cx="247.1" cy="194.1" r="1.0"/><circle cx="248.7" cy="194.3" r="1.0"/><circle cx="249.7" cy="193.3" r="1.0"/><circle cx="250.3" cy="192.5" r="1.0"/><circle cx="252.0" cy="192.8" r="1.0"/><circle cx="253.1" cy="191.8" r="1.0"/><circle cx="253.7" cy="190.8" r="1.0"/><circle cx="254.6" cy="190.3" r="1.0"/><circle cx="255.8" cy="189.4" r="1.0"/><circle cx="256.3" cy="188.2" r="1.0"/><circle cx="257.9" cy="186.1" r="1.0"/><circle cx="257.8" cy="185.8" r="1.0"/><circle cx="258.9" cy="184.8" r="1.0"/><circle cx="259.8" cy="183.6" r="1.0"/><circle cx="260.5" cy="182.9" r="1.0"/><circle cx="261.3" cy="182.2" r="1.0"/><circle cx="262.0" cy="180.4" r="1.0"/><circle cx="262.5" cy="179.0" r="1.0"/><circle cx="263.4" cy="179.1" r="1.0"/><circle cx="263.2" cy="177.0" r="1.0"/><circle cx="264.3" cy="175.5" r="1.0"/><circle cx="264.6" cy="174.9" r="1.0"/><circle cx="265.3" cy="173.8" r="1.0"/><circle cx="265.9" cy="172.1" r="1.0"/><circle cx="266.1" cy="171.5" r="1.0"/><circle cx="266.6" cy="169.8" r="1.0"/><circle cx="267.4" cy="168.4" r="1.0"/><circle cx="267.8" cy="167.6" r="1.0"/><circle cx="268.0" cy="166.7" r="1.0"/><circle cx="269.1" cy="164.9" r="1.0"/><circle cx="269.6" cy="164.0" r="1.0"/><circle cx="269.1" cy="162.6" r="1.0"/><circle cx="269.9" cy="162.6" r="1.0"/><circle cx="270.8" cy="159.9" r="1.0"/><circle cx="270.8" cy="159.5" r="1.0"/><circle cx="271.1" cy="157.7" r="1.0"/><circle cx="271.4" cy="156.4" r="1.0"/><circle cx="271.7" cy="155.5" r="1.0"/><circle cx="272.1" cy="154.3" r="1.0"/><circle cx="272.4" cy="153.3" r="1.0"/><circle cx="273.1" cy="151.6" r="1.0"/><circle cx="273.2" cy="150.0" r="1.0"/><circle cx="273.6" cy="148.8" r="1.0"/><circle cx="273.8" cy="148.0" r="1.0"/><circle cx="274.4" cy="146.8" r="1.0"/><circle cx="274.6" cy="145.8" r="1.0"/><circle cx="275.2" cy="144.2" r="1.0"/><circle cx="275.8" cy="143.2" r="1.0"/><circle cx="276.1" cy="142.2" r="1.0"/><circle cx="276.5" cy="140.4" r="1.0"/><circle cx="276.8" cy="138.5" r="1.0"/><circle cx="277.2" cy="137.4" r="1.0"/><circle cx="277.6" cy="136.0" r="1.0"/><circle cx="277.9" cy="136.0" r="1.0"/><circle cx="278.6" cy="133.8" r="1.0"/><circle cx="278.7" cy="133.4" r="1.0"/><circle cx="279.7" cy="132.0" r="1.0"/><circle cx="280.0" cy="131.2" r="1.0"/><circle cx="280.3" cy="129.8" r="1.0"/><circle cx="281.1" cy="128.2" r="1.0"/><circle cx="281.7" cy="127.1" r="1.0"/><circle cx="282.8" cy="126.3" r="1.0"/><circle cx="283.8" cy="125.7" r="1.0"/><circle cx="285.5" cy="125.7" r="1.0"/><circle cx="286.0" cy="126.7" r="1.0"/><circle cx="286.5" cy="128.4" r="1.0"/><circle cx="287.5" cy="128.1" r="1.0"/><circle cx="287.8" cy="130.1" r="1.0"/><circle cx="288.8" cy="130.8" r="1.0"/><circle cx="289.5" cy="132.5" r="1.0"/><circle cx="289.9" cy="133.9" r="1.0"/><circle cx="289.8" cy="134.8" r="1.0"/><circle cx="290.4" cy="136.4" r="1.0"/><circle cx="291.4" cy="136.7" r="1.0"/><circle cx="291.5" cy="139.0" r="1.0"/><circle cx="291.8" cy="139.5" r="1.0"/><circle cx="292.4" cy="141.3" r="1.0"/><circle cx="293.1" cy="142.3" r="1.0"/><circle cx="293.2" cy="142.5" r="1.0"/><circle cx="293.3" cy="144.5" r="1.0"/><circle cx="293.7" cy="146.1" r="1.0"/><circle cx="294.1" cy="147.9" r="1.0"/><circle cx="294.2" cy="148.6" r="1.0"/><circle cx="294.4" cy="149.9" r="1.0"/><circle cx="295.0" cy="150.4" r="1.0"/><circle cx="295.2" cy="152.8" r="1.0"/><circle cx="295.7" cy="154.2" r="1.0"/><circle cx="296.1" cy="154.8" r="1.0"/><circle cx="297.1" cy="155.9" r="1.0"/><circle cx="296.7" cy="156.6" r="1.0"/><circle cx="297.3" cy="158.8" r="1.0"/><circle cx="297.7" cy="160.8" r="1.0"/><circle cx="298.2" cy="161.2" r="1.0"/><circle cx="298.8" cy="162.7" r="1.0"/><circle cx="298.9" cy="163.6" r="1.0"/><circle cx="299.3" cy="164.2" r="1.0"/><circle cx="299.6" cy="166.3" r="1.0"/><circle cx="300.3" cy="166.5" r="1.0"/><circle cx="301.2" cy="168.1" r="1.0"/><circle cx="301.7" cy="169.4" r="1.0"/><circle cx="302.1" cy="170.7" r="1.0"/><circle cx="303.0" cy="171.6" r="1.0"/><circle cx="304.0" cy="172.6" r="1.0"/><circle cx="305.1" cy="172.9" r="1.0"/><circle cx="306.0" cy="173.3" r="1.0"/><circle cx="307.3" cy="174.2" r="1.0"/><circle cx="308.2" cy="174.0" r="1.0"/><circle cx="309.7" cy="173.6" r="1.0"/><circle cx="311.7" cy="173.4" r="1.0"/><circle cx="312.0" cy="173.6" r="1.0"/><circle cx="313.8" cy="172.9" r="1.0"/><circle cx="315.2" cy="173.1" r="1.0"/><circle cx="316.3" cy="173.2" r="1.0"/><circle cx="317.4" cy="174.4" r="1.0"/><circle cx="318.8" cy="175.1" r="1.0"/><circle cx="319.9" cy="176.5" r="1.0"/><circle cx="320.9" cy="175.9" r="1.0"/><circle cx="321.4" cy="177.1" r="1.0"/><circle cx="322.7" cy="178.6" r="1.0"/><circle cx="323.4" cy="179.2" r="1.0"/><circle cx="324.3" cy="180.1" r="1.0"/><circle cx="325.4" cy="181.9" r="1.0"/><circle cx="326.3" cy="182.1" r="1.0"/><circle cx="327.2" cy="182.7" r="1.0"/><circle cx="327.7" cy="183.7" r="1.0"/><circle cx="328.9" cy="185.3" r="1.0"/><circle cx="329.8" cy="186.3" r="1.0"/><circle cx="330.7" cy="186.6" r="1.0"/><circle cx="331.6" cy="187.7" r="1.0"/><circle cx="332.2" cy="189.2" r="1.0"/><circle cx="333.1" cy="190.1" r="1.0"/><circle cx="334.4" cy="190.4" r="1.0"/><circle cx="334.9" cy="191.7" r="1.0"/><circle cx="336.4" cy="192.4" r="1.0"/><circle cx="337.3" cy="192.1" r="1.0"/><circle cx="338.5" cy="193.3" r="1.0"/><circle cx="339.4" cy="194.0" r="1.0"/><circle cx="340.8" cy="194.1" r="1.0"/><circle cx="342.3" cy="193.8" r="1.0"/><circle cx="343.8" cy="194.8" r="1.0"/><circle cx="345.1" cy="195.4" r="1.0"/><circle cx="346.1" cy="195.9" r="1.0"/><circle cx="347.4" cy="194.5" r="1.0"/><circle cx="348.5" cy="196.5" r="1.0"/><circle cx="350.1" cy="195.1" r="1.0"/><circle cx="351.3" cy="196.0" r="1.0"/><circle cx="352.8" cy="196.1" r="1.0"/><circle cx="354.4" cy="196.0" r="1.0"/><circle cx="355.2" cy="195.7" r="1.0"/></g>
<path d="M218.50,196.42 L219.00,196.42 L219.50,196.42 L220.00,196.42 L220.50,196.42 L221.00,196.42 L221.50,196.42 L222.00,196.41 L222.50,196.41 L223.00,196.41 L223.50,196.41 L224.00,196.41 L224.50,196.41 L225.00,196.41 L225.50,196.40 L226.00,196.40 L226.50,196.40 L227.00,196.40 L227.50,196.39 L228.00,196.39 L228.50,196.39 L229.00,196.39 L229.50,196.38 L230.00,196.38 L230.50,196.38 L231.00,196.37 L231.50,196.37 L232.00,196.36 L232.50,196.36 L233.00,196.35 L233.50,196.34 L234.00,196.33 L234.50,196.33 L235.00,196.32 L235.50,196.30 L236.00,196.29 L236.50,196.28 L237.00,196.26 L237.50,196.24 L238.00,196.22 L238.50,196.20 L239.00,196.17 L239.50,196.14 L240.00,196.11 L240.50,196.07 L241.00,196.03 L241.50,195.98 L242.00,195.93 L242.50,195.88 L243.00,195.81 L243.50,195.74 L244.00,195.66 L244.50,195.58 L245.00,195.48 L245.50,195.38 L246.00,195.26 L246.50,195.13 L247.00,195.00 L247.50,194.84 L248.00,194.68 L248.50,194.50 L249.00,194.31 L249.50,194.10 L250.00,193.87 L250.50,193.63 L251.00,193.36 L251.50,193.08 L252.00,192.78 L252.50,192.45 L253.00,192.11 L253.50,191.74 L254.00,191.35 L254.50,190.93 L255.00,190.49 L255.50,190.02 L256.00,189.52 L256.50,189.00 L257.00,188.44 L257.50,187.86 L258.00,187.25 L258.50,186.61 L259.00,185.93 L259.50,185.22 L260.00,184.48 L260.50,183.70 L261.00,182.89 L261.50,182.04 L262.00,181.16 L262.50,180.24 L263.00,179.28 L263.50,178.28 L264.00,177.24 L264.50,176.16 L265.00,175.04 L265.50,173.88 L266.00,172.68 L266.50,171.43 L267.00,170.15 L267.50,168.82 L268.00,167.46 L268.50,166.06 L269.00,164.62 L269.50,163.14 L270.00,161.63 L270.50,160.09 L271.00,158.51 L271.50,156.92 L272.00,155.30 L272.50,153.66 L273.00,152.01 L273.50,150.35 L274.00,148.69 L274.50,147.03 L275.00,145.38 L275.50,143.75 L276.00,142.15 L276.50,140.57 L277.00,139.04 L277.50,137.56 L278.00,136.13 L278.50,134.77 L279.00,133.48 L279.50,132.27 L280.00,131.16 L280.50,130.14 L281.00,129.23 L281.50,128.44 L282.00,127.76 L282.50,127.21 L283.00,126.79 L283.50,126.50 L284.00,126.35 L284.50,126.34 L285.00,126.47 L285.50,126.75 L286.00,127.16 L286.50,127.72 L287.00,128.40 L287.50,129.22 L288.00,130.16 L288.50,131.22 L289.00,132.39 L289.50,133.67 L290.00,135.04 L290.50,136.49 L291.00,138.01 L291.50,139.61 L292.00,141.25 L292.50,142.94 L293.00,144.66 L293.50,146.40 L294.00,148.14 L294.50,149.89 L295.00,151.63 L295.50,153.35 L296.00,155.04 L296.50,156.69 L297.00,158.29 L297.50,159.84 L298.00,161.33 L298.50,162.75 L299.00,164.10 L299.50,165.38 L300.00,166.57 L300.50,167.69 L301.00,168.71 L301.50,169.66 L302.00,170.52 L302.50,171.29 L303.00,171.98 L303.50,172.59 L304.00,173.12 L304.50,173.57 L305.00,173.95 L305.50,174.26 L306.00,174.51 L306.50,174.70 L307.00,174.84 L307.50,174.93 L308.00,174.98 L308.50,174.99 L309.00,174.97 L309.50,174.92 L310.00,174.86 L310.50,174.78 L311.00,174.70 L311.50,174.61 L312.00,174.53 L312.50,174.45 L313.00,174.39 L313.50,174.35 L314.00,174.32 L314.50,174.32 L315.00,174.35 L315.50,174.40 L316.00,174.49 L316.50,174.61 L317.00,174.77 L317.50,174.96 L318.00,175.19 L318.50,175.45 L319.00,175.75 L319.50,176.08 L320.00,176.45 L320.50,176.85 L321.00,177.28 L321.50,177.73 L322.00,178.22 L322.50,178.72 L323.00,179.25 L323.50,179.80 L324.00,180.36 L324.50,180.94 L325.00,181.53 L325.50,182.12 L326.00,182.72 L326.50,183.33 L327.00,183.93 L327.50,184.53 L328.00,185.12 L328.50,185.71 L329.00,186.29 L329.50,186.86 L330.00,187.41 L330.50,187.95 L331.00,188.48 L331.50,188.98 L332.00,189.47 L332.50,189.94 L333.00,190.40 L333.50,190.83 L334.00,191.24 L334.50,191.63 L335.00,192.00 L335.50,192.35 L336.00,192.68 L336.50,192.99 L337.00,193.28 L337.50,193.55 L338.00,193.81 L338.50,194.04 L339.00,194.26 L339.50,194.46 L340.00,194.65 L340.50,194.82 L341.00,194.98 L341.50,195.12 L342.00,195.26 L342.50,195.38 L343.00,195.49 L343.50,195.59 L344.00,195.67 L344.50,195.76 L345.00,195.83 L345.50,195.89 L346.00,195.95 L346.50,196.01 L347.00,196.05 L347.50,196.10 L348.00,196.13 L348.50,196.17 L349.00,196.20 L349.50,196.22 L350.00,196.25 L350.50,196.27 L351.00,196.29 L351.50,196.30 L352.00,196.32 L352.50,196.33 L353.00,196.34 L353.50,196.35 L354.00,196.36 L354.50,196.37 L355.00,196.37 L355.50,196.38 L356.00,196.38 L356.50,196.39" stroke="#f000d0" stroke-width="1.7" fill="none"/>
<path d="M405.00,108.66 L405.50,108.65 L406.00,108.64 L406.50,108.63 L407.00,108.63 L407.50,108.62 L408.00,108.60 L408.50,108.59 L409.00,108.58 L409.50,108.56 L410.00,108.54 L410.50,108.52 L411.00,108.50 L411.50,108.48 L412.00,108.45 L412.50,108.42 L413.00,108.39 L413.50,108.36 L414.00,108.32 L414.50,108.27 L415.00,108.23 L415.50,108.18 L416.00,108.12 L416.50,108.06 L417.00,107.99 L417.50,107.92 L418.00,107.84 L418.50,107.76 L419.00,107.67 L419.50,107.57 L420.00,107.47 L420.50,107.35 L421.00,107.23 L421.50,107.10 L422.00,106.97 L422.50,106.82 L423.00,106.66 L423.50,106.49 L424.00,106.32 L424.50,106.13 L425.00,105.93 L425.50,105.72 L426.00,105.50 L426.50,105.26 L427.00,105.02 L427.50,104.76 L428.00,104.49 L428.50,104.21 L429.00,103.91 L429.50,103.61 L430.00,103.29 L430.50,102.96 L431.00,102.62 L431.50,102.26 L432.00,101.90 L432.50,101.52 L433.00,101.13 L433.50,100.74 L434.00,100.33 L434.50,99.91 L435.00,99.49 L435.50,99.05 L436.00,98.61 L436.50,98.17 L437.00,97.71 L437.50,97.26 L438.00,96.80 L438.50,96.33 L439.00,95.87 L439.50,95.40 L440.00,94.94 L440.50,94.48 L441.00,94.02 L441.50,93.57 L442.00,93.12 L442.50,92.68 L443.00,92.25 L443.50,91.83 L444.00,91.42 L444.50,91.02 L445.00,90.64 L445.50,90.27 L446.00,89.92 L446.50,89.59 L447.00,89.28 L447.50,88.98 L448.00,88.71 L448.50,88.47 L449.00,88.24 L449.50,88.04 L450.00,87.87 L450.50,87.72 L451.00,87.60 L451.50,87.51 L452.00,87.45 L452.50,87.41 L453.00,87.40 L453.50,87.42 L454.00,87.47 L454.50,87.55 L455.00,87.66 L455.50,87.80 L456.00,87.96 L456.50,88.15 L457.00,88.37 L457.50,88.61 L458.00,88.88 L458.50,89.18 L459.00,89.49 L459.50,89.83 L460.00,90.19 L460.50,90.57 L461.00,90.96 L461.50,91.37 L462.00,91.80 L462.50,92.24 L463.00,92.69 L463.50,93.16 L464.00,93.63 L464.50,94.11 L465.00,94.59 L465.50,95.08 L466.00,95.58 L466.50,96.07 L467.00,96.56 L467.50,97.05 L468.00,97.54 L468.50,98.03 L469.00,98.51 L469.50,98.98 L470.00,99.44 L470.50,99.90 L471.00,100.35 L471.50,100.78 L472.00,101.21 L472.50,101.62 L473.00,102.02 L473.50,102.41 L474.00,102.79 L474.50,103.15 L475.00,103.49 L475.50,103.83 L476.00,104.15 L476.50,104.45 L477.00,104.74 L477.50,105.02 L478.00,105.28 L478.50,105.53 L479.00,105.77 L479.50,105.99 L480.00,106.20 L480.50,106.40 L481.00,106.58 L481.50,106.76 L482.00,106.92 L482.50,107.07 L483.00,107.21 L483.50,107.34 L484.00,107.46 L484.50,107.58 L485.00,107.68 L485.50,107.77 L486.00,107.86 L486.50,107.94 L487.00,108.02 L487.50,108.09 L488.00,108.15 L488.50,108.20 L489.00,108.26 L489.50,108.30 L490.00,108.35 L490.50,108.38 L491.00,108.42 L491.50,108.45 L492.00,108.48 L492.50,108.50 L493.00,108.53 L493.50,108.55 L494.00,108.57 L494.50,108.58 L495.00,108.60 L495.50,108.61 L496.00,108.62 L496.50,108.63 L497.00,108.64 L497.50,108.65 L498.00,108.65 M440.00,108.66 L440.50,108.65 L441.00,108.64 L441.50,108.63 L442.00,108.62 L442.50,108.61 L443.00,108.60 L443.50,108.59 L444.00,108.57 L444.50,108.55 L445.00,108.53 L445.50,108.51 L446.00,108.49 L446.50,108.46 L447.00,108.43 L447.50,108.40 L448.00,108.36 L448.50,108.32 L449.00,108.28 L449.50,108.23 L450.00,108.17 L450.50,108.11 L451.00,108.05 L451.50,107.98 L452.00,107.90 L452.50,107.82 L453.00,107.73 L453.50,107.63 L454.00,107.52 L454.50,107.41 L455.00,107.28 L455.50,107.15 L456.00,107.00 L456.50,106.85 L457.00,106.68 L457.50,106.51 L458.00,106.32 L458.50,106.12 L459.00,105.90 L459.50,105.68 L460.00,105.44 L460.50,105.18 L461.00,104.91 L461.50,104.63 L462.00,104.33 L462.50,104.02 L463.00,103.70 L463.50,103.35 L464.00,103.00 L464.50,102.62 L465.00,102.24 L465.50,101.84 L466.00,101.42 L466.50,100.99 L467.00,100.54 L467.50,100.09 L468.00,99.62 L468.50,99.13 L469.00,98.64 L469.50,98.13 L470.00,97.62 L470.50,97.09 L471.00,96.56 L471.50,96.02 L472.00,95.47 L472.50,94.92 L473.00,94.36 L473.50,93.80 L474.00,93.24 L474.50,92.69 L475.00,92.13 L475.50,91.58 L476.00,91.03 L476.50,90.49 L477.00,89.96 L477.50,89.44 L478.00,88.93 L478.50,88.44 L479.00,87.96 L479.50,87.49 L480.00,87.05 L480.50,86.63 L481.00,86.23 L481.50,85.85 L482.00,85.50 L482.50,85.17 L483.00,84.88 L483.50,84.61 L484.00,84.37 L484.50,84.17 L485.00,84.00 L485.50,83.86 L486.00,83.75 L486.50,83.68 L487.00,83.65 L487.50,83.65 L488.00,83.68 L488.50,83.75 L489.00,83.86 L489.50,84.00 L490.00,84.18 L490.50,84.39 L491.00,84.64 L491.50,84.92 L492.00,85.23 L492.50,85.57 L493.00,85.93 L493.50,86.33 L494.00,86.75 L494.50,87.20 L495.00,87.67 L495.50,88.17 L496.00,88.68 L496.50,89.21 L497.00,89.75 L497.50,90.31 L498.00,90.88 L498.50,91.45 L499.00,92.04 L499.50,92.63 L500.00,93.23 L500.50,93.83 L501.00,94.42 L501.50,95.02 L502.00,95.61 L502.50,96.20 L503.00,96.78 L503.50,97.35 L504.00,97.91 L504.50,98.46 L505.00,99.00 L505.50,99.52 L506.00,100.03 L506.50,100.53 L507.00,101.01 L507.50,101.48 L508.00,101.92 L508.50,102.35 L509.00,102.77 L509.50,103.16 L510.00,103.54 L510.50,103.90 L511.00,104.25 L511.50,104.57 L512.00,104.88 L512.50,105.17 L513.00,105.44 L513.50,105.70 L514.00,105.95 L514.50,106.17 L515.00,106.39 L515.50,106.58 L516.00,106.77 L516.50,106.94 L517.00,107.10 L517.50,107.25 L518.00,107.38 L518.50,107.51 L519.00,107.62 L519.50,107.73 L520.00,107.83 L520.50,107.91 L521.00,108.00 L521.50,108.07 L522.00,108.14 L522.50,108.20 L523.00,108.25 L523.50,108.30 L524.00,108.35 L524.50,108.39 L525.00,108.42 L525.50,108.46 L526.00,108.48 L526.50,108.51 L527.00,108.53 L527.50,108.55 L528.00,108.57 L528.50,108.59 L529.00,108.60 L529.50,108.62 L530.00,108.63 L530.50,108.64 L531.00,108.64 L531.50,108.65 M404.00,108.70 L404.50,108.70 L405.00,108.70 L405.50,108.70 L406.00,108.70 L406.50,108.70 L407.00,108.70 L407.50,108.70 L408.00,108.70 L408.50,108.70 L409.00,108.70 L409.50,108.70 L410.00,108.70 L410.50,108.70 L411.00,108.70 L411.50,108.70 L412.00,108.70 L412.50,108.70 L413.00,108.70 L413.50,108.70 L414.00,108.70 L414.50,108.70 L415.00,108.70 L415.50,108.70 L416.00,108.70 L416.50,108.70 L417.00,108.70 L417.50,108.70 L418.00,108.70 L418.50,108.70 L419.00,108.70 L419.50,108.70 L420.00,108.70 L420.50,108.70 L421.00,108.70 L421.50,108.70 L422.00,108.70 L422.50,108.70 L423.00,108.70 L423.50,108.70 L424.00,108.70 L424.50,108.70 L425.00,108.70 L425.50,108.70 L426.00,108.70 L426.50,108.70 L427.00,108.70 L427.50,108.70 L428.00,108.70 L428.50,108.70 L429.00,108.70 L429.50,108.70 L430.00,108.70 L430.50,108.70 L431.00,108.70 L431.50,108.70 L432.00,108.70 L432.50,108.70 L433.00,108.70 L433.50,108.70 L434.00,108.70 L434.50,108.70 L435.00,108.70 L435.50,108.70 L436.00,108.70 L436.50,108.70 L437.00,108.70 L437.50,108.70 L438.00,108.70 L438.50,108.70 L439.00,108.70 L439.50,108.70 L440.00,108.70 L440.50,108.70 L441.00,108.70 L441.50,108.70 L442.00,108.70 L442.50,108.70 L443.00,108.70 L443.50,108.70 L444.00,108.70 L444.50,108.70 L445.00,108.70 L445.50,108.70 L446.00,108.70 L446.50,108.70 L447.00,108.70 L447.50,108.70 L448.00,108.70 L448.50,108.70 L449.00,108.70 L449.50,108.70 L450.00,108.70 L450.50,108.70 L451.00,108.70 L451.50,108.70 L452.00,108.70 L452.50,108.70 L453.00,108.70 L453.50,108.70 L454.00,108.70 L454.50,108.70 L455.00,108.70 L455.50,108.70 L456.00,108.70 L456.50,108.70 L457.00,108.70 L457.50,108.70 L458.00,108.70 L458.50,108.70 L459.00,108.70 L459.50,108.70 L460.00,108.70 L460.50,108.70 L461.00,108.70 L461.50,108.70 L462.00,108.70 L462.50,108.70 L463.00,108.70 L463.50,108.70 L464.00,108.70 L464.50,108.70 L465.00,108.70 L465.50,108.70 L466.00,108.70 L466.50,108.70 L467.00,108.70 L467.50,108.70 L468.00,108.70 L468.50,108.70 L469.00,108.70 L469.50,108.70 L470.00,108.70 L470.50,108.70 L471.00,108.70 L471.50,108.70 L472.00,108.70 L472.50,108.70 L473.00,108.70 L473.50,108.70 L474.00,108.70 L474.50,108.70 L475.00,108.70 L475.50,108.70 L476.00,108.70 L476.50,108.70 L477.00,108.70 L477.50,108.70 L478.00,108.70 L478.50,108.70 L479.00,108.70 L479.50,108.70 L480.00,108.70 L480.50,108.70 L481.00,108.70 L481.50,108.70 L482.00,108.70 L482.50,108.70 L483.00,108.70 L483.50,108.70 L484.00,108.70 L484.50,108.70 L485.00,108.70 L485.50,108.70 L486.00,108.70 L486.50,108.70 L487.00,108.70 L487.50,108.70 L488.00,108.70 L488.50,108.70 L489.00,108.70 L489.50,108.70 L490.00,108.70 L490.50,108.70 L491.00,108.70 L491.50,108.70 L492.00,108.70 L492.50,108.70 L493.00,108.70 L493.50,108.70 L494.00,108.70 L494.50,108.70 L495.00,108.70 L495.50,108.70 L496.00,108.70 L496.50,108.70 L497.00,108.70 L497.50,108.70 L498.00,108.70 L498.50,108.70 L499.00,108.70 L499.50,108.70 L500.00,108.70 L500.50,108.70 L501.00,108.70 L501.50,108.70 L502.00,108.70 L502.50,108.70 L503.00,108.70 L503.50,108.70 L504.00,108.70 L504.50,108.70 L505.00,108.70 L505.50,108.70 L506.00,108.70 L506.50,108.70 L507.00,108.70 L507.50,108.70 L508.00,108.70 L508.50,108.70 L509.00,108.70 L509.50,108.70 L510.00,108.70 L510.50,108.70 L511.00,108.70 L511.50,108.70 L512.00,108.70 L512.50,108.70 L513.00,108.70 L513.50,108.70 L514.00,108.70 L514.50,108.70 L515.00,108.70 L515.50,108.70 L516.00,108.70 L516.50,108.70 L517.00,108.70 L517.50,108.70 L518.00,108.70 L518.50,108.70 L519.00,108.70 L519.50,108.70 L520.00,108.70 L520.50,108.70 L521.00,108.70 L521.50,108.70 L522.00,108.70 L522.50,108.70 L523.00,108.70 L523.50,108.70 L524.00,108.70 L524.50,108.70 L525.00,108.70 L525.50,108.70 L526.00,108.70 L526.50,108.70 L527.00,108.70 L527.50,108.70 L528.00,108.70 L528.50,108.70 L529.00,108.70 L529.50,108.70 L530.00,108.70 L530.50,108.70 L531.00,108.70 L531.50,108.70 L532.00,108.70 L532.50,108.70 L533.00,108.70 L533.50,108.70 L534.00,108.70 L534.50,108.70 L535.00,108.70 L535.50,108.70 L536.00,108.70 L536.50,108.70 L537.00,108.70 L537.50,108.70 L538.00,108.70 L538.50,108.70 L539.00,108.70 L539.50,108.70 L540.00,108.70 L540.50,108.70 L541.00,108.70 L541.50,108.70 L542.00,108.70" stroke="#8c8c8c" stroke-width="1.1" fill="none"/>
<path d="M404.00,108.67 L404.50,108.66 L405.00,108.66 L405.50,108.65 L406.00,108.64 L406.50,108.63 L407.00,108.63 L407.50,108.62 L408.00,108.60 L408.50,108.59 L409.00,108.58 L409.50,108.56 L410.00,108.54 L410.50,108.52 L411.00,108.50 L411.50,108.48 L412.00,108.45 L412.50,108.42 L413.00,108.39 L413.50,108.36 L414.00,108.32 L414.50,108.27 L415.00,108.23 L415.50,108.18 L416.00,108.12 L416.50,108.06 L417.00,107.99 L417.50,107.92 L418.00,107.84 L418.50,107.76 L419.00,107.67 L419.50,107.57 L420.00,107.47 L420.50,107.35 L421.00,107.23 L421.50,107.10 L422.00,106.97 L422.50,106.82 L423.00,106.66 L423.50,106.49 L424.00,106.31 L424.50,106.13 L425.00,105.93 L425.50,105.72 L426.00,105.49 L426.50,105.26 L427.00,105.02 L427.50,104.76 L428.00,104.49 L428.50,104.21 L429.00,103.91 L429.50,103.61 L430.00,103.29 L430.50,102.96 L431.00,102.61 L431.50,102.26 L432.00,101.89 L432.50,101.52 L433.00,101.13 L433.50,100.73 L434.00,100.32 L434.50,99.90 L435.00,99.48 L435.50,99.04 L436.00,98.60 L436.50,98.15 L437.00,97.70 L437.50,97.24 L438.00,96.77 L438.50,96.30 L439.00,95.84 L439.50,95.37 L440.00,94.90 L440.50,94.43 L441.00,93.96 L441.50,93.50 L442.00,93.04 L442.50,92.59 L443.00,92.15 L443.50,91.71 L444.00,91.29 L444.50,90.87 L445.00,90.47 L445.50,90.08 L446.00,89.71 L446.50,89.35 L447.00,89.01 L447.50,88.68 L448.00,88.37 L448.50,88.09 L449.00,87.82 L449.50,87.57 L450.00,87.34 L450.50,87.14 L451.00,86.95 L451.50,86.79 L452.00,86.65 L452.50,86.53 L453.00,86.43 L453.50,86.35 L454.00,86.30 L454.50,86.26 L455.00,86.24 L455.50,86.25 L456.00,86.27 L456.50,86.30 L457.00,86.35 L457.50,86.42 L458.00,86.50 L458.50,86.59 L459.00,86.70 L459.50,86.81 L460.00,86.92 L460.50,87.05 L461.00,87.18 L461.50,87.31 L462.00,87.44 L462.50,87.56 L463.00,87.69 L463.50,87.81 L464.00,87.93 L464.50,88.03 L465.00,88.13 L465.50,88.22 L466.00,88.30 L466.50,88.36 L467.00,88.41 L467.50,88.44 L468.00,88.46 L468.50,88.46 L469.00,88.44 L469.50,88.41 L470.00,88.36 L470.50,88.29 L471.00,88.20 L471.50,88.10 L472.00,87.98 L472.50,87.84 L473.00,87.68 L473.50,87.51 L474.00,87.33 L474.50,87.13 L475.00,86.92 L475.50,86.71 L476.00,86.48 L476.50,86.24 L477.00,86.00 L477.50,85.76 L478.00,85.51 L478.50,85.27 L479.00,85.03 L479.50,84.79 L480.00,84.55 L480.50,84.33 L481.00,84.11 L481.50,83.91 L482.00,83.72 L482.50,83.54 L483.00,83.39 L483.50,83.25 L484.00,83.14 L484.50,83.04 L485.00,82.97 L485.50,82.93 L486.00,82.91 L486.50,82.93 L487.00,82.96 L487.50,83.03 L488.00,83.13 L488.50,83.26 L489.00,83.42 L489.50,83.61 L490.00,83.83 L490.50,84.08 L491.00,84.36 L491.50,84.67 L492.00,85.00 L492.50,85.37 L493.00,85.76 L493.50,86.18 L494.00,86.62 L494.50,87.08 L495.00,87.57 L495.50,88.07 L496.00,88.60 L496.50,89.14 L497.00,89.69 L497.50,90.25 L498.00,90.83 L498.50,91.41 L499.00,92.01 L499.50,92.60 L500.00,93.20 L500.50,93.80 L501.00,94.40 L501.50,95.00 L502.00,95.60 L502.50,96.18 L503.00,96.77 L503.50,97.34 L504.00,97.90 L504.50,98.45 L505.00,98.99 L505.50,99.52 L506.00,100.03 L506.50,100.53 L507.00,101.01 L507.50,101.47 L508.00,101.92 L508.50,102.35 L509.00,102.77 L509.50,103.16 L510.00,103.54 L510.50,103.90 L511.00,104.24 L511.50,104.57 L512.00,104.88 L512.50,105.17 L513.00,105.44 L513.50,105.70 L514.00,105.95 L514.50,106.17 L515.00,106.39 L515.50,106.58 L516.00,106.77 L516.50,106.94 L517.00,107.10 L517.50,107.25 L518.00,107.38 L518.50,107.51 L519.00,107.62 L519.50,107.73 L520.00,107.83 L520.50,107.91 L521.00,108.00 L521.50,108.07 L522.00,108.14 L522.50,108.20 L523.00,108.25 L523.50,108.30 L524.00,108.35 L524.50,108.39 L525.00,108.42 L525.50,108.46 L526.00,108.48 L526.50,108.51 L527.00,108.53 L527.50,108.55 L528.00,108.57 L528.50,108.59 L529.00,108.60 L529.50,108.62 L530.00,108.63 L530.50,108.64 L531.00,108.64 L531.50,108.65 L532.00,108.66 L532.50,108.66 L533.00,108.67 L533.50,108.67 L534.00,108.68 L534.50,108.68 L535.00,108.68 L535.50,108.69 L536.00,108.69 L536.50,108.69 L537.00,108.69 L537.50,108.69 L538.00,108.69 L538.50,108.69 L539.00,108.70 L539.50,108.70 L540.00,108.70 L540.50,108.70 L541.00,108.70 L541.50,108.70 L542.00,108.70" stroke="#8c8c8c" stroke-width="1.2" fill="none"/>
<g fill="#111"><circle cx="404.0" cy="106.5" r="1.0"/><circle cx="405.6" cy="109.8" r="1.0"/><circle cx="407.7" cy="107.3" r="1.0"/><circle cx="408.9" cy="103.8" r="1.0"/><circle cx="410.6" cy="113.9" r="1.0"/><circle cx="412.4" cy="109.8" r="1.0"/><circle cx="413.7" cy="111.8" r="1.0"/><circle cx="415.0" cy="106.5" r="1.0"/><circle cx="417.2" cy="110.8" r="1.0"/><circle cx="418.2" cy="110.9" r="1.0"/><circle cx="419.4" cy="108.4" r="1.0"/><circle cx="421.2" cy="107.2" r="1.0"/><circle cx="422.6" cy="104.5" r="1.0"/><circle cx="423.7" cy="106.0" r="1.0"/><circle cx="425.5" cy="101.5" r="1.0"/><circle cx="426.9" cy="108.7" r="1.0"/><circle cx="427.9" cy="104.4" r="1.0"/><circle cx="429.9" cy="101.4" r="1.0"/><circle cx="431.4" cy="101.9" r="1.0"/><circle cx="432.9" cy="100.9" r="1.0"/><circle cx="434.0" cy="103.6" r="1.0"/><circle cx="435.9" cy="101.1" r="1.0"/><circle cx="437.5" cy="97.2" r="1.0"/><circle cx="439.0" cy="98.1" r="1.0"/><circle cx="440.1" cy="92.9" r="1.0"/><circle cx="442.2" cy="92.4" r="1.0"/><circle cx="443.1" cy="93.4" r="1.0"/><circle cx="444.9" cy="88.1" r="1.0"/><circle cx="446.9" cy="88.8" r="1.0"/><circle cx="447.8" cy="81.8" r="1.0"/><circle cx="449.3" cy="87.8" r="1.0"/><circle cx="451.3" cy="88.3" r="1.0"/><circle cx="452.4" cy="85.1" r="1.0"/><circle cx="453.9" cy="86.7" r="1.0"/><circle cx="455.6" cy="84.5" r="1.0"/><circle cx="457.3" cy="84.2" r="1.0"/><circle cx="457.8" cy="84.2" r="1.0"/><circle cx="459.7" cy="89.7" r="1.0"/><circle cx="461.2" cy="94.4" r="1.0"/><circle cx="462.7" cy="88.6" r="1.0"/><circle cx="464.2" cy="86.7" r="1.0"/><circle cx="465.7" cy="89.6" r="1.0"/><circle cx="467.6" cy="87.8" r="1.0"/><circle cx="468.7" cy="90.0" r="1.0"/><circle cx="470.5" cy="88.8" r="1.0"/><circle cx="472.1" cy="88.5" r="1.0"/><circle cx="473.3" cy="88.7" r="1.0"/><circle cx="475.0" cy="85.8" r="1.0"/><circle cx="477.0" cy="85.5" r="1.0"/><circle cx="478.1" cy="84.6" r="1.0"/><circle cx="479.3" cy="83.9" r="1.0"/><circle cx="481.0" cy="81.4" r="1.0"/><circle cx="482.2" cy="83.3" r="1.0"/><circle cx="484.1" cy="81.3" r="1.0"/><circle cx="485.8" cy="83.1" r="1.0"/><circle cx="486.7" cy="83.8" r="1.0"/><circle cx="488.4" cy="80.6" r="1.0"/><circle cx="490.3" cy="82.3" r="1.0"/><circle cx="491.3" cy="82.9" r="1.0"/><circle cx="493.1" cy="87.2" r="1.0"/><circle cx="494.2" cy="90.3" r="1.0"/><circle cx="495.7" cy="90.2" r="1.0"/><circle cx="497.3" cy="89.6" r="1.0"/><circle cx="499.7" cy="94.8" r="1.0"/><circle cx="500.4" cy="90.9" r="1.0"/><circle cx="501.8" cy="98.4" r="1.0"/><circle cx="503.3" cy="96.1" r="1.0"/><circle cx="505.0" cy="93.7" r="1.0"/><circle cx="506.7" cy="105.6" r="1.0"/><circle cx="508.1" cy="104.9" r="1.0"/><circle cx="510.1" cy="101.2" r="1.0"/><circle cx="511.1" cy="104.6" r="1.0"/><circle cx="512.9" cy="104.8" r="1.0"/><circle cx="514.1" cy="106.1" r="1.0"/><circle cx="515.7" cy="103.8" r="1.0"/><circle cx="516.6" cy="105.3" r="1.0"/><circle cx="518.5" cy="108.4" r="1.0"/><circle cx="520.0" cy="108.2" r="1.0"/><circle cx="521.4" cy="107.9" r="1.0"/><circle cx="522.4" cy="108.4" r="1.0"/><circle cx="524.8" cy="112.9" r="1.0"/><circle cx="525.9" cy="107.1" r="1.0"/><circle cx="527.4" cy="109.1" r="1.0"/><circle cx="528.9" cy="105.0" r="1.0"/><circle cx="530.4" cy="106.3" r="1.0"/><circle cx="532.1" cy="111.2" r="1.0"/><circle cx="533.1" cy="106.9" r="1.0"/><circle cx="534.7" cy="109.7" r="1.0"/><circle cx="536.6" cy="108.6" r="1.0"/><circle cx="538.0" cy="106.7" r="1.0"/><circle cx="539.4" cy="108.0" r="1.0"/><circle cx="540.8" cy="107.7" r="1.0"/></g>
<path d="M412.00,190.36 L412.50,190.35 L413.00,190.34 L413.50,190.32 L414.00,190.31 L414.50,190.29 L415.00,190.27 L415.50,190.25 L416.00,190.22 L416.50,190.19 L417.00,190.15 L417.50,190.11 L418.00,190.06 L418.50,190.00 L419.00,189.94 L419.50,189.87 L420.00,189.79 L420.50,189.70 L421.00,189.60 L421.50,189.49 L422.00,189.37 L422.50,189.23 L423.00,189.08 L423.50,188.92 L424.00,188.75 L424.50,188.56 L425.00,188.36 L425.50,188.14 L426.00,187.91 L426.50,187.66 L427.00,187.40 L427.50,187.12 L428.00,186.83 L428.50,186.54 L429.00,186.23 L429.50,185.91 L430.00,185.58 L430.50,185.25 L431.00,184.91 L431.50,184.57 L432.00,184.23 L432.50,183.90 L433.00,183.57 L433.50,183.24 L434.00,182.93 L434.50,182.64 L435.00,182.35 L435.50,182.09 L436.00,181.85 L436.50,181.63 L437.00,181.44 L437.50,181.27 L438.00,181.13 L438.50,181.03 L439.00,180.95 L439.50,180.91 L440.00,180.90 L440.50,180.92 L441.00,180.98 L441.50,181.07 L442.00,181.19 L442.50,181.33 L443.00,181.51 L443.50,181.71 L444.00,181.94 L444.50,182.19 L445.00,182.46 L445.50,182.75 L446.00,183.06 L446.50,183.37 L447.00,183.70 L447.50,184.03 L448.00,184.37 L448.50,184.71 L449.00,185.04 L449.50,185.38 L450.00,185.71 L450.50,186.03 L451.00,186.35 L451.50,186.66 L452.00,186.95 L452.50,187.23 L453.00,187.50 L453.50,187.76 L454.00,188.00 L454.50,188.23 L455.00,188.44 L455.50,188.64 L456.00,188.82 L456.50,188.99 L457.00,189.14 L457.50,189.29 L458.00,189.42 L458.50,189.53 L459.00,189.64 L459.50,189.73 L460.00,189.82 L460.50,189.90 L461.00,189.96 L461.50,190.02 L462.00,190.08 L462.50,190.12 L463.00,190.16 L463.50,190.20 L464.00,190.23 L464.50,190.26 L465.00,190.28 L465.50,190.30 L466.00,190.31 L466.50,190.33 L467.00,190.34 L467.50,190.35 M426.50,190.35 L427.00,190.34 L427.50,190.33 L428.00,190.32 L428.50,190.31 L429.00,190.29 L429.50,190.27 L430.00,190.24 L430.50,190.22 L431.00,190.18 L431.50,190.15 L432.00,190.10 L432.50,190.06 L433.00,190.00 L433.50,189.94 L434.00,189.86 L434.50,189.78 L435.00,189.69 L435.50,189.58 L436.00,189.46 L436.50,189.33 L437.00,189.18 L437.50,189.01 L438.00,188.82 L438.50,188.62 L439.00,188.39 L439.50,188.14 L440.00,187.86 L440.50,187.55 L441.00,187.22 L441.50,186.85 L442.00,186.46 L442.50,186.03 L443.00,185.57 L443.50,185.07 L444.00,184.53 L444.50,183.96 L445.00,183.35 L445.50,182.70 L446.00,182.01 L446.50,181.28 L447.00,180.51 L447.50,179.71 L448.00,178.87 L448.50,177.99 L449.00,177.08 L449.50,176.14 L450.00,175.17 L450.50,174.18 L451.00,173.16 L451.50,172.12 L452.00,171.08 L452.50,170.02 L453.00,168.96 L453.50,167.90 L454.00,166.85 L454.50,165.80 L455.00,164.78 L455.50,163.78 L456.00,162.81 L456.50,161.88 L457.00,160.99 L457.50,160.15 L458.00,159.36 L458.50,158.63 L459.00,157.96 L459.50,157.37 L460.00,156.84 L460.50,156.39 L461.00,156.03 L461.50,155.74 L462.00,155.54 L462.50,155.43 L463.00,155.40 L463.50,155.46 L464.00,155.61 L464.50,155.85 L465.00,156.16 L465.50,156.56 L466.00,157.04 L466.50,157.60 L467.00,158.22 L467.50,158.91 L468.00,159.67 L468.50,160.48 L469.00,161.34 L469.50,162.25 L470.00,163.20 L470.50,164.18 L471.00,165.19 L471.50,166.22 L472.00,167.27 L472.50,168.32 L473.00,169.38 L473.50,170.44 L474.00,171.50 L474.50,172.54 L475.00,173.57 L475.50,174.58 L476.00,175.56 L476.50,176.52 L477.00,177.45 L477.50,178.34 L478.00,179.21 L478.50,180.03 L479.00,180.82 L479.50,181.58 L480.00,182.29 L480.50,182.96 L481.00,183.60 L481.50,184.19 L482.00,184.75 L482.50,185.27 L483.00,185.76 L483.50,186.21 L484.00,186.62 L484.50,187.00 L485.00,187.36 L485.50,187.68 L486.00,187.97 L486.50,188.24 L487.00,188.48 L487.50,188.70 L488.00,188.90 L488.50,189.08 L489.00,189.24 L489.50,189.38 L490.00,189.51 L490.50,189.62 L491.00,189.72 L491.50,189.81 L492.00,189.89 L492.50,189.96 L493.00,190.02 L493.50,190.08 L494.00,190.12 L494.50,190.16 L495.00,190.20 L495.50,190.23 L496.00,190.25 L496.50,190.28 L497.00,190.30 L497.50,190.31 L498.00,190.33 L498.50,190.34 L499.00,190.35 L499.50,190.36 M438.00,190.35 L438.50,190.35 L439.00,190.34 L439.50,190.33 L440.00,190.32 L440.50,190.30 L441.00,190.29 L441.50,190.27 L442.00,190.26 L442.50,190.24 L443.00,190.21 L443.50,190.19 L444.00,190.16 L444.50,190.13 L445.00,190.09 L445.50,190.05 L446.00,190.00 L446.50,189.95 L447.00,189.90 L447.50,189.83 L448.00,189.76 L448.50,189.69 L449.00,189.60 L449.50,189.51 L450.00,189.40 L450.50,189.29 L451.00,189.16 L451.50,189.03 L452.00,188.87 L452.50,188.71 L453.00,188.53 L453.50,188.33 L454.00,188.12 L454.50,187.89 L455.00,187.64 L455.50,187.36 L456.00,187.07 L456.50,186.75 L457.00,186.41 L457.50,186.04 L458.00,185.65 L458.50,185.23 L459.00,184.78 L459.50,184.30 L460.00,183.78 L460.50,183.24 L461.00,182.66 L461.50,182.05 L462.00,181.40 L462.50,180.71 L463.00,179.99 L463.50,179.23 L464.00,178.44 L464.50,177.60 L465.00,176.73 L465.50,175.82 L466.00,174.87 L466.50,173.89 L467.00,172.87 L467.50,171.81 L468.00,170.72 L468.50,169.59 L469.00,168.43 L469.50,167.25 L470.00,166.03 L470.50,164.79 L471.00,163.52 L471.50,162.23 L472.00,160.93 L472.50,159.61 L473.00,158.27 L473.50,156.93 L474.00,155.59 L474.50,154.24 L475.00,152.90 L475.50,151.56 L476.00,150.24 L476.50,148.93 L477.00,147.65 L477.50,146.38 L478.00,145.15 L478.50,143.95 L479.00,142.79 L479.50,141.67 L480.00,140.60 L480.50,139.58 L481.00,138.62 L481.50,137.71 L482.00,136.87 L482.50,136.10 L483.00,135.39 L483.50,134.76 L484.00,134.20 L484.50,133.72 L485.00,133.32 L485.50,133.01 L486.00,132.77 L486.50,132.62 L487.00,132.56 L487.50,132.58 L488.00,132.68 L488.50,132.87 L489.00,133.15 L489.50,133.50 L490.00,133.94 L490.50,134.46 L491.00,135.05 L491.50,135.72 L492.00,136.46 L492.50,137.27 L493.00,138.14 L493.50,139.07 L494.00,140.06 L494.50,141.11 L495.00,142.20 L495.50,143.34 L496.00,144.52 L496.50,145.74 L497.00,146.98 L497.50,148.26 L498.00,149.56 L498.50,150.87 L499.00,152.20 L499.50,153.54 L500.00,154.89 L500.50,156.23 L501.00,157.58 L501.50,158.91 L502.00,160.24 L502.50,161.55 L503.00,162.85 L503.50,164.13 L504.00,165.38 L504.50,166.61 L505.00,167.82 L505.50,168.99 L506.00,170.13 L506.50,171.24 L507.00,172.32 L507.50,173.36 L508.00,174.36 L508.50,175.33 L509.00,176.26 L509.50,177.15 L510.00,178.01 L510.50,178.82 L511.00,179.60 L511.50,180.34 L512.00,181.04 L512.50,181.71 L513.00,182.34 L513.50,182.94 L514.00,183.50 L514.50,184.03 L515.00,184.53 L515.50,185.00 L516.00,185.43 L516.50,185.84 L517.00,186.22 L517.50,186.58 L518.00,186.91 L518.50,187.21 L519.00,187.50 L519.50,187.76 L520.00,188.00 L520.50,188.22 L521.00,188.43 L521.50,188.62 L522.00,188.79 L522.50,188.95 L523.00,189.09 L523.50,189.22 L524.00,189.34 L524.50,189.45 L525.00,189.55 L525.50,189.64 L526.00,189.72 L526.50,189.80 L527.00,189.86 L527.50,189.92 L528.00,189.98 L528.50,190.03 L529.00,190.07 L529.50,190.11 L530.00,190.14 L530.50,190.17 L531.00,190.20 L531.50,190.22 L532.00,190.25 L532.50,190.27 L533.00,190.28 L533.50,190.30 L534.00,190.31 L534.50,190.32 L535.00,190.33 L535.50,190.34 L536.00,190.35 L536.50,190.36 M405.00,190.40 L405.50,190.40 L406.00,190.40 L406.50,190.40 L407.00,190.40 L407.50,190.40 L408.00,190.40 L408.50,190.40 L409.00,190.40 L409.50,190.40 L410.00,190.40 L410.50,190.40 L411.00,190.40 L411.50,190.40 L412.00,190.40 L412.50,190.40 L413.00,190.40 L413.50,190.40 L414.00,190.40 L414.50,190.40 L415.00,190.40 L415.50,190.40 L416.00,190.40 L416.50,190.40 L417.00,190.40 L417.50,190.40 L418.00,190.40 L418.50,190.40 L419.00,190.40 L419.50,190.40 L420.00,190.40 L420.50,190.40 L421.00,190.40 L421.50,190.40 L422.00,190.40 L422.50,190.40 L423.00,190.40 L423.50,190.40 L424.00,190.40 L424.50,190.40 L425.00,190.40 L425.50,190.40 L426.00,190.40 L426.50,190.40 L427.00,190.40 L427.50,190.40 L428.00,190.40 L428.50,190.40 L429.00,190.40 L429.50,190.40 L430.00,190.40 L430.50,190.40 L431.00,190.40 L431.50,190.40 L432.00,190.40 L432.50,190.40 L433.00,190.40 L433.50,190.40 L434.00,190.40 L434.50,190.40 L435.00,190.40 L435.50,190.40 L436.00,190.40 L436.50,190.40 L437.00,190.40 L437.50,190.40 L438.00,190.40 L438.50,190.40 L439.00,190.40 L439.50,190.40 L440.00,190.40 L440.50,190.40 L441.00,190.40 L441.50,190.40 L442.00,190.40 L442.50,190.40 L443.00,190.40 L443.50,190.40 L444.00,190.40 L444.50,190.40 L445.00,190.40 L445.50,190.40 L446.00,190.40 L446.50,190.40 L447.00,190.40 L447.50,190.40 L448.00,190.40 L448.50,190.40 L449.00,190.40 L449.50,190.40 L450.00,190.40 L450.50,190.40 L451.00,190.40 L451.50,190.40 L452.00,190.40 L452.50,190.40 L453.00,190.40 L453.50,190.40 L454.00,190.40 L454.50,190.40 L455.00,190.40 L455.50,190.40 L456.00,190.40 L456.50,190.40 L457.00,190.40 L457.50,190.40 L458.00,190.40 L458.50,190.40 L459.00,190.40 L459.50,190.40 L460.00,190.40 L460.50,190.40 L461.00,190.40 L461.50,190.40 L462.00,190.40 L462.50,190.40 L463.00,190.40 L463.50,190.40 L464.00,190.40 L464.50,190.40 L465.00,190.40 L465.50,190.40 L466.00,190.40 L466.50,190.40 L467.00,190.40 L467.50,190.40 L468.00,190.40 L468.50,190.40 L469.00,190.40 L469.50,190.40 L470.00,190.40 L470.50,190.40 L471.00,190.40 L471.50,190.40 L472.00,190.40 L472.50,190.40 L473.00,190.40 L473.50,190.40 L474.00,190.40 L474.50,190.40 L475.00,190.40 L475.50,190.40 L476.00,190.40 L476.50,190.40 L477.00,190.40 L477.50,190.40 L478.00,190.40 L478.50,190.40 L479.00,190.40 L479.50,190.40 L480.00,190.40 L480.50,190.40 L481.00,190.40 L481.50,190.40 L482.00,190.40 L482.50,190.40 L483.00,190.40 L483.50,190.40 L484.00,190.40 L484.50,190.40 L485.00,190.40 L485.50,190.40 L486.00,190.40 L486.50,190.40 L487.00,190.40 L487.50,190.40 L488.00,190.40 L488.50,190.40 L489.00,190.40 L489.50,190.40 L490.00,190.40 L490.50,190.40 L491.00,190.40 L491.50,190.40 L492.00,190.40 L492.50,190.40 L493.00,190.40 L493.50,190.40 L494.00,190.40 L494.50,190.40 L495.00,190.40 L495.50,190.40 L496.00,190.40 L496.50,190.40 L497.00,190.40 L497.50,190.40 L498.00,190.40 L498.50,190.40 L499.00,190.40 L499.50,190.40 L500.00,190.40 L500.50,190.40 L501.00,190.40 L501.50,190.40 L502.00,190.40 L502.50,190.40 L503.00,190.40 L503.50,190.40 L504.00,190.40 L504.50,190.40 L505.00,190.40 L505.50,190.40 L506.00,190.40 L506.50,190.40 L507.00,190.40 L507.50,190.40 L508.00,190.40 L508.50,190.40 L509.00,190.40 L509.50,190.40 L510.00,190.40 L510.50,190.40 L511.00,190.40 L511.50,190.40 L512.00,190.40 L512.50,190.40 L513.00,190.40 L513.50,190.40 L514.00,190.40 L514.50,190.40 L515.00,190.40 L515.50,190.40 L516.00,190.40 L516.50,190.40 L517.00,190.40 L517.50,190.40 L518.00,190.40 L518.50,190.40 L519.00,190.40 L519.50,190.40 L520.00,190.40 L520.50,190.40 L521.00,190.40 L521.50,190.40 L522.00,190.40 L522.50,190.40 L523.00,190.40 L523.50,190.40 L524.00,190.40 L524.50,190.40 L525.00,190.40 L525.50,190.40 L526.00,190.40 L526.50,190.40 L527.00,190.40 L527.50,190.40 L528.00,190.40 L528.50,190.40 L529.00,190.40 L529.50,190.40 L530.00,190.40 L530.50,190.40 L531.00,190.40 L531.50,190.40 L532.00,190.40 L532.50,190.40 L533.00,190.40 L533.50,190.40 L534.00,190.40 L534.50,190.40 L535.00,190.40 L535.50,190.40 L536.00,190.40 L536.50,190.40 L537.00,190.40 L537.50,190.40 L538.00,190.40 L538.50,190.40 L539.00,190.40 L539.50,190.40 L540.00,190.40 L540.50,190.40 L541.00,190.40 L541.50,190.40 L542.00,190.40" stroke="#f000d0" stroke-width="1.6" fill="none"/>
<path d="M405.00,190.16 L405.50,190.14 L406.00,190.11 L406.50,190.09 L407.00,190.06 L407.50,190.03 L408.00,190.00 L408.50,189.96 L409.00,189.92 L409.50,189.88 L410.00,189.84 L410.50,189.79 L411.00,189.74 L411.50,189.69 L412.00,189.63 L412.50,189.57 L413.00,189.50 L413.50,189.43 L414.00,189.35 L414.50,189.27 L415.00,189.18 L415.50,189.08 L416.00,188.98 L416.50,188.86 L417.00,188.74 L417.50,188.61 L418.00,188.47 L418.50,188.32 L419.00,188.16 L419.50,187.98 L420.00,187.80 L420.50,187.60 L421.00,187.38 L421.50,187.15 L422.00,186.91 L422.50,186.64 L423.00,186.37 L423.50,186.07 L424.00,185.76 L424.50,185.43 L425.00,185.08 L425.50,184.71 L426.00,184.32 L426.50,183.92 L427.00,183.49 L427.50,183.05 L428.00,182.60 L428.50,182.12 L429.00,181.64 L429.50,181.14 L430.00,180.63 L430.50,180.10 L431.00,179.57 L431.50,179.04 L432.00,178.50 L432.50,177.95 L433.00,177.41 L433.50,176.87 L434.00,176.33 L434.50,175.79 L435.00,175.27 L435.50,174.75 L436.00,174.25 L436.50,173.76 L437.00,173.28 L437.50,172.81 L438.00,172.36 L438.50,171.93 L439.00,171.50 L439.50,171.10 L440.00,170.70 L440.50,170.32 L441.00,169.94 L441.50,169.57 L442.00,169.21 L442.50,168.85 L443.00,168.49 L443.50,168.13 L444.00,167.76 L444.50,167.37 L445.00,166.98 L445.50,166.56 L446.00,166.13 L446.50,165.67 L447.00,165.19 L447.50,164.68 L448.00,164.14 L448.50,163.57 L449.00,162.96 L449.50,162.32 L450.00,161.64 L450.50,160.93 L451.00,160.18 L451.50,159.40 L452.00,158.59 L452.50,157.76 L453.00,156.89 L453.50,156.00 L454.00,155.10 L454.50,154.18 L455.00,153.24 L455.50,152.30 L456.00,151.36 L456.50,150.42 L457.00,149.49 L457.50,148.58 L458.00,147.67 L458.50,146.79 L459.00,145.94 L459.50,145.11 L460.00,144.32 L460.50,143.56 L461.00,142.84 L461.50,142.17 L462.00,141.53 L462.50,140.94 L463.00,140.39 L463.50,139.89 L464.00,139.43 L464.50,139.01 L465.00,138.63 L465.50,138.29 L466.00,137.98 L466.50,137.71 L467.00,137.47 L467.50,137.26 L468.00,137.06 L468.50,136.89 L469.00,136.73 L469.50,136.58 L470.00,136.44 L470.50,136.30 L471.00,136.16 L471.50,136.02 L472.00,135.87 L472.50,135.71 L473.00,135.54 L473.50,135.36 L474.00,135.16 L474.50,134.95 L475.00,134.72 L475.50,134.47 L476.00,134.21 L476.50,133.94 L477.00,133.65 L477.50,133.35 L478.00,133.04 L478.50,132.73 L479.00,132.42 L479.50,132.10 L480.00,131.80 L480.50,131.50 L481.00,131.22 L481.50,130.95 L482.00,130.71 L482.50,130.49 L483.00,130.31 L483.50,130.16 L484.00,130.05 L484.50,129.98 L485.00,129.96 L485.50,129.99 L486.00,130.07 L486.50,130.21 L487.00,130.41 L487.50,130.67 L488.00,130.99 L488.50,131.38 L489.00,131.83 L489.50,132.34 L490.00,132.92 L490.50,133.56 L491.00,134.27 L491.50,135.03 L492.00,135.86 L492.50,136.75 L493.00,137.69 L493.50,138.68 L494.00,139.72 L494.50,140.81 L495.00,141.95 L495.50,143.12 L496.00,144.33 L496.50,145.58 L497.00,146.85 L497.50,148.14 L498.00,149.46 L498.50,150.79 L499.00,152.13 L499.50,153.48 L500.00,154.83 L500.50,156.19 L501.00,157.54 L501.50,158.88 L502.00,160.21 L502.50,161.53 L503.00,162.83 L503.50,164.11 L504.00,165.37 L504.50,166.60 L505.00,167.81 L505.50,168.98 L506.00,170.13 L506.50,171.24 L507.00,172.31 L507.50,173.35 L508.00,174.36 L508.50,175.33 L509.00,176.26 L509.50,177.15 L510.00,178.00 L510.50,178.82 L511.00,179.60 L511.50,180.34 L512.00,181.04 L512.50,181.71 L513.00,182.34 L513.50,182.94 L514.00,183.50 L514.50,184.03 L515.00,184.53 L515.50,185.00 L516.00,185.43 L516.50,185.84 L517.00,186.22 L517.50,186.58 L518.00,186.91 L518.50,187.21 L519.00,187.50 L519.50,187.76 L520.00,188.00 L520.50,188.22 L521.00,188.43 L521.50,188.62 L522.00,188.79 L522.50,188.95 L523.00,189.09 L523.50,189.22 L524.00,189.34 L524.50,189.45 L525.00,189.55 L525.50,189.64 L526.00,189.72 L526.50,189.80 L527.00,189.86 L527.50,189.92 L528.00,189.98 L528.50,190.03 L529.00,190.07 L529.50,190.11 L530.00,190.14 L530.50,190.17 L531.00,190.20 L531.50,190.22 L532.00,190.25 L532.50,190.27 L533.00,190.28 L533.50,190.30 L534.00,190.31 L534.50,190.32 L535.00,190.33 L535.50,190.34 L536.00,190.35 L536.50,190.36 L537.00,190.36 L537.50,190.37 L538.00,190.37 L538.50,190.38 L539.00,190.38 L539.50,190.38 L540.00,190.38 L540.50,190.39 L541.00,190.39 L541.50,190.39 L542.00,190.39" stroke="#f000d0" stroke-width="1.7" fill="none"/>
<g fill="#111"><circle cx="404.6" cy="188.5" r="1.0"/><circle cx="406.3" cy="190.0" r="1.0"/><circle cx="407.3" cy="192.4" r="1.0"/><circle cx="409.5" cy="187.8" r="1.0"/><circle cx="410.5" cy="192.8" r="1.0"/><circle cx="412.3" cy="191.3" r="1.0"/><circle cx="413.5" cy="188.5" r="1.0"/><circle cx="414.9" cy="190.7" r="1.0"/><circle cx="417.1" cy="185.9" r="1.0"/><circle cx="417.9" cy="185.0" r="1.0"/><circle cx="419.1" cy="185.4" r="1.0"/><circle cx="420.8" cy="186.6" r="1.0"/><circle cx="422.4" cy="186.0" r="1.0"/><circle cx="424.6" cy="184.7" r="1.0"/><circle cx="425.6" cy="184.9" r="1.0"/><circle cx="427.3" cy="179.2" r="1.0"/><circle cx="428.2" cy="183.1" r="1.0"/><circle cx="430.1" cy="177.8" r="1.0"/><circle cx="431.7" cy="177.7" r="1.0"/><circle cx="433.5" cy="176.6" r="1.0"/><circle cx="434.3" cy="173.5" r="1.0"/><circle cx="436.2" cy="171.5" r="1.0"/><circle cx="437.6" cy="170.8" r="1.0"/><circle cx="438.7" cy="171.5" r="1.0"/><circle cx="440.5" cy="171.5" r="1.0"/><circle cx="441.9" cy="170.3" r="1.0"/><circle cx="442.8" cy="166.1" r="1.0"/><circle cx="445.2" cy="165.4" r="1.0"/><circle cx="446.7" cy="163.8" r="1.0"/><circle cx="447.9" cy="165.0" r="1.0"/><circle cx="449.1" cy="158.2" r="1.0"/><circle cx="451.4" cy="162.7" r="1.0"/><circle cx="452.6" cy="156.8" r="1.0"/><circle cx="454.3" cy="156.5" r="1.0"/><circle cx="455.9" cy="153.0" r="1.0"/><circle cx="456.8" cy="151.6" r="1.0"/><circle cx="458.7" cy="147.5" r="1.0"/><circle cx="459.9" cy="148.9" r="1.0"/><circle cx="461.5" cy="142.4" r="1.0"/><circle cx="463.0" cy="142.9" r="1.0"/><circle cx="464.5" cy="141.5" r="1.0"/><circle cx="466.3" cy="137.8" r="1.0"/><circle cx="467.5" cy="140.1" r="1.0"/><circle cx="469.0" cy="137.1" r="1.0"/><circle cx="470.4" cy="136.5" r="1.0"/><circle cx="472.1" cy="134.0" r="1.0"/><circle cx="473.2" cy="134.8" r="1.0"/><circle cx="474.8" cy="136.3" r="1.0"/><circle cx="476.5" cy="131.3" r="1.0"/><circle cx="477.8" cy="134.3" r="1.0"/><circle cx="479.5" cy="132.8" r="1.0"/><circle cx="480.8" cy="131.8" r="1.0"/><circle cx="483.1" cy="126.1" r="1.0"/><circle cx="484.4" cy="129.8" r="1.0"/><circle cx="485.6" cy="131.3" r="1.0"/><circle cx="487.0" cy="128.9" r="1.0"/><circle cx="489.2" cy="131.6" r="1.0"/><circle cx="490.1" cy="128.2" r="1.0"/><circle cx="491.5" cy="136.4" r="1.0"/><circle cx="493.1" cy="136.4" r="1.0"/><circle cx="494.6" cy="142.6" r="1.0"/><circle cx="496.4" cy="140.6" r="1.0"/><circle cx="497.5" cy="151.3" r="1.0"/><circle cx="499.6" cy="151.7" r="1.0"/><circle cx="500.2" cy="157.8" r="1.0"/><circle cx="502.2" cy="158.4" r="1.0"/><circle cx="503.2" cy="162.9" r="1.0"/><circle cx="505.5" cy="172.3" r="1.0"/><circle cx="506.4" cy="169.6" r="1.0"/><circle cx="508.0" cy="172.9" r="1.0"/><circle cx="509.8" cy="176.6" r="1.0"/><circle cx="511.4" cy="178.9" r="1.0"/><circle cx="512.2" cy="184.1" r="1.0"/><circle cx="513.9" cy="187.0" r="1.0"/><circle cx="515.1" cy="183.6" r="1.0"/><circle cx="517.0" cy="182.8" r="1.0"/><circle cx="518.5" cy="189.6" r="1.0"/><circle cx="519.9" cy="190.2" r="1.0"/><circle cx="521.3" cy="190.3" r="1.0"/><circle cx="522.9" cy="191.4" r="1.0"/><circle cx="524.3" cy="187.7" r="1.0"/><circle cx="526.2" cy="190.2" r="1.0"/><circle cx="528.0" cy="187.2" r="1.0"/><circle cx="528.4" cy="187.2" r="1.0"/><circle cx="530.5" cy="192.1" r="1.0"/><circle cx="531.9" cy="188.9" r="1.0"/><circle cx="533.6" cy="194.9" r="1.0"/><circle cx="534.7" cy="190.5" r="1.0"/><circle cx="536.5" cy="189.1" r="1.0"/><circle cx="537.7" cy="192.0" r="1.0"/><circle cx="539.7" cy="194.0" r="1.0"/><circle cx="541.0" cy="191.4" r="1.0"/></g>
<path d="M33.00,383.08 L34.00,381.81 L35.00,383.08 L36.00,378.03 L37.00,381.96 L38.00,378.33 L39.00,380.67 L40.00,379.20 L41.00,381.18 L42.00,380.07 L43.00,378.21 L44.00,376.78 L45.00,379.70 L46.00,377.68 L47.00,377.84 L48.00,374.39 L49.00,375.63 L50.00,374.07 L51.00,374.78 L52.00,370.70 L53.00,368.84 L54.00,367.85 L55.00,371.48 L56.00,366.44 L57.00,369.27 L58.00,369.33 L59.00,367.52 L60.00,365.33 L61.00,367.25 L62.00,364.91 L63.00,365.64 L64.00,363.64 L65.00,364.57 L66.00,361.20 L67.00,365.12 L68.00,362.92 L69.00,364.51 L70.00,365.26 L71.00,362.91 L72.00,362.41 L73.00,367.18 L74.00,364.29 L75.00,365.39 L76.00,369.69 L77.00,368.29 L78.00,366.99 L79.00,368.13 L80.00,366.66 L81.00,369.70 L82.00,366.67 L83.00,370.13 L84.00,371.84 L85.00,371.34 L86.00,370.11 L87.00,372.87 L88.00,370.70 L89.00,375.16 L90.00,373.75 L91.00,377.56 L92.00,378.41 L93.00,380.46 L94.00,382.07 L95.00,385.69 L96.00,384.10 L97.00,381.94 L98.00,381.43 L99.00,384.23 L100.00,380.02 L101.00,381.73 L102.00,378.78 L103.00,380.90 L104.00,379.06 L105.00,378.30 L106.00,375.63 L107.00,373.27 L108.00,369.63 L109.00,370.74 L110.00,365.88 L111.00,365.05 L112.00,359.91 L113.00,360.89 L114.00,354.03 L115.00,352.87 L116.00,350.09 L117.00,349.64 L118.00,347.39 L119.00,341.19 L120.00,342.20 L121.00,341.80 L122.00,340.88 L123.00,344.13 L124.00,341.03 L125.00,343.40 L126.00,341.67 L127.00,345.36 L128.00,344.34 L129.00,344.36 L130.00,341.29 L131.00,346.69 L132.00,341.86 L133.00,346.01 L134.00,342.76 L135.00,345.01 L136.00,343.09 L137.00,345.47 L138.00,347.67 L139.00,348.06 L140.00,349.22 L141.00,352.03 L142.00,353.06 L143.00,356.90 L144.00,364.25 L145.00,376.04 L146.00,380.05 L147.00,380.35 L148.00,376.77 L149.00,383.77 L150.00,380.38 L151.00,383.59 L152.00,381.45 L153.00,384.11 L154.00,384.74 L155.00,384.09 L156.00,383.44 L157.00,388.79 L158.00,385.51 L159.00,388.05 L160.00,387.34 L161.00,389.61 L162.00,389.53 L163.00,392.92 L164.00,393.07 L165.00,395.54 L166.00,392.06 L167.00,397.87 L168.00,398.66 L169.00,396.95" stroke="#808080" stroke-width="1.8" fill="none" stroke-linejoin="round"/>
<path d="M33.00,455.29 L34.00,451.88 L35.00,455.56 L36.00,452.13 L37.00,456.01 L38.00,450.66 L39.00,455.64 L40.00,452.65 L41.00,454.70 L42.00,450.58 L43.00,455.18 L44.00,448.10 L45.00,452.79 L46.00,447.94 L47.00,452.27 L48.00,447.86 L49.00,451.97 L50.00,444.30 L51.00,448.86 L52.00,446.26 L53.00,445.48 L54.00,441.28 L55.00,445.03 L56.00,439.15 L57.00,436.31 L58.00,436.29 L59.00,440.61 L60.00,435.82 L61.00,440.33 L62.00,434.69 L63.00,434.06 L64.00,432.42 L65.00,434.75 L66.00,432.27 L67.00,436.32 L68.00,431.88 L69.00,436.90 L70.00,431.21 L71.00,436.40 L72.00,433.91 L73.00,436.18 L74.00,433.76 L75.00,438.88 L76.00,435.59 L77.00,439.70 L78.00,437.42 L79.00,441.64 L80.00,439.66 L81.00,441.89 L82.00,439.42 L83.00,443.02 L84.00,440.51 L85.00,444.13 L86.00,440.97 L87.00,445.13 L88.00,444.39 L89.00,444.52 L90.00,447.51 L91.00,451.86 L92.00,450.00 L93.00,452.97 L94.00,452.64 L95.00,457.10 L96.00,453.14 L97.00,455.32 L98.00,451.32 L99.00,453.00 L100.00,451.61 L101.00,452.30 L102.00,447.89 L103.00,449.58 L104.00,448.78 L105.00,448.02 L106.00,441.42 L107.00,444.32 L108.00,438.09 L109.00,439.61 L110.00,436.02 L111.00,435.75 L112.00,430.53 L113.00,432.41 L114.00,424.36 L115.00,425.86 L116.00,417.93 L117.00,418.23 L118.00,414.82 L119.00,419.77 L120.00,409.40 L121.00,412.44 L122.00,406.41 L123.00,409.13 L124.00,403.74 L125.00,406.90 L126.00,402.31 L127.00,406.92 L128.00,402.84 L129.00,406.74 L130.00,406.00 L131.00,407.33 L132.00,402.33 L133.00,406.35 L134.00,402.92 L135.00,406.09 L136.00,404.48 L137.00,410.41 L138.00,408.08 L139.00,417.21 L140.00,414.17 L141.00,422.45 L142.00,425.66 L143.00,435.32 L144.00,435.11 L145.00,443.39 L146.00,445.09 L147.00,448.60 L148.00,445.75 L149.00,445.39 L150.00,449.84 L151.00,450.61 L152.00,447.90 L153.00,451.45 L154.00,449.53 L155.00,450.85 L156.00,450.65 L157.00,455.92 L158.00,452.95 L159.00,455.38 L160.00,454.03 L161.00,458.22 L162.00,457.55 L163.00,461.04 L164.00,459.07 L165.00,464.29 L166.00,464.25 L167.00,466.11 L168.00,464.48 L169.00,469.74" stroke="#f000d0" stroke-width="1.8" fill="none" stroke-linejoin="round"/>
<path d="M219.00,383.64 L220.30,378.59 L221.60,382.38 L222.90,376.45 L224.20,385.18 L225.50,377.20 L226.80,384.24 L228.10,377.38 L229.40,383.56 L230.70,378.66 L232.00,383.36 L233.30,377.61 L234.60,381.90 L235.90,378.01 L237.20,382.29 L238.50,377.35 L239.80,383.69 L241.10,376.90 L242.40,385.41 L243.70,377.10 L245.00,386.73 L246.30,371.47 L247.60,382.56 L248.90,376.98 L250.20,385.84 L251.50,372.00 L252.80,387.00 L254.10,374.80 L255.40,384.18 L256.70,374.57 L258.00,376.15 L259.30,375.49 L260.60,381.35 L261.90,380.30 L263.20,379.90 L264.50,372.96 L265.80,377.19 L267.10,367.55 L268.40,371.68 L269.70,366.81 L271.00,375.27 L272.30,374.79 L273.60,374.50 L274.90,368.80 L276.20,378.06 L277.50,375.38 L278.80,384.18 L280.10,377.44 L281.40,384.12 L282.70,377.64 L284.00,383.67 L285.30,384.34 L286.60,382.35 L287.90,377.50 L289.20,382.19 L290.50,382.33 L291.80,383.31 L293.10,375.76 L294.40,381.68 L295.70,370.57 L297.00,371.34 L298.30,373.05 L299.60,375.29 L300.90,368.95 L302.20,371.24 L303.50,362.47 L304.80,369.05 L306.10,368.34 L307.40,365.24 L308.70,354.60 L310.00,361.17 L311.30,354.11 L312.60,359.57 L313.90,355.61 L315.20,353.81 L316.50,347.35 L317.80,354.60 L319.10,343.57 L320.40,351.40 L321.70,340.77 L323.00,347.92 L324.30,342.00 L325.60,347.40 L326.90,348.20 L328.20,363.66 L329.50,360.80 L330.80,373.66 L332.10,370.16 L333.40,378.62 L334.70,380.55 L336.00,386.83 L337.30,378.48 L338.60,384.53 L339.90,380.05 L341.20,384.38 L342.50,379.62 L343.80,388.16 L345.10,378.82 L346.40,388.45 L347.70,382.66 L349.00,389.72 L350.30,384.49 L351.60,394.06 L352.90,389.28 L354.20,404.78 L355.50,405.96" stroke="#808080" stroke-width="1.35" fill="none" stroke-linejoin="round"/>
<path d="M219.00,438.11 L220.30,431.14 L221.60,442.72 L222.90,436.33 L224.20,444.62 L225.50,440.51 L226.80,446.68 L228.10,439.30 L229.40,446.57 L230.70,441.17 L232.00,452.97 L233.30,443.48 L234.60,447.69 L235.90,441.60 L237.20,450.81 L238.50,441.43 L239.80,446.65 L241.10,442.36 L242.40,451.52 L243.70,436.13 L245.00,448.41 L246.30,440.20 L247.60,448.27 L248.90,440.23 L250.20,446.23 L251.50,441.15 L252.80,448.00 L254.10,438.06 L255.40,443.01 L256.70,435.36 L258.00,442.78 L259.30,435.17 L260.60,439.35 L261.90,429.09 L263.20,436.70 L264.50,430.90 L265.80,434.71 L267.10,432.27 L268.40,433.32 L269.70,426.31 L271.00,431.29 L272.30,423.18 L273.60,434.38 L274.90,430.66 L276.20,437.80 L277.50,434.59 L278.80,446.33 L280.10,438.63 L281.40,449.79 L282.70,439.57 L284.00,445.50 L285.30,439.93 L286.60,448.11 L287.90,440.46 L289.20,448.34 L290.50,437.52 L291.80,444.00 L293.10,436.77 L294.40,442.67 L295.70,433.45 L297.00,437.91 L298.30,432.84 L299.60,435.45 L300.90,428.37 L302.20,437.84 L303.50,428.11 L304.80,434.76 L306.10,425.51 L307.40,431.44 L308.70,422.56 L310.00,423.65 L311.30,418.13 L312.60,422.97 L313.90,413.37 L315.20,415.89 L316.50,406.73 L317.80,404.54 L319.10,401.18 L320.40,408.14 L321.70,403.35 L323.00,408.21 L324.30,404.29 L325.60,411.65 L326.90,404.43 L328.20,414.93 L329.50,425.75 L330.80,435.00 L332.10,432.99 L333.40,443.83 L334.70,436.08 L336.00,443.24 L337.30,440.22 L338.60,447.96 L339.90,438.60 L341.20,448.39 L342.50,443.42 L343.80,452.58 L345.10,450.99 L346.40,453.89 L347.70,448.28 L349.00,458.04 L350.30,449.77 L351.60,459.14 L352.90,453.62 L354.20,463.06 L355.50,455.93" stroke="#f000d0" stroke-width="1.35" fill="none" stroke-linejoin="round"/>
<path d="M405.00,382.52 L406.30,378.56 L407.60,382.97 L408.90,379.09 L410.20,382.98 L411.50,378.82 L412.80,381.28 L414.10,378.58 L415.40,382.65 L416.70,375.94 L418.00,381.73 L419.30,378.60 L420.60,383.79 L421.90,378.38 L423.20,381.02 L424.50,375.92 L425.80,379.78 L427.10,377.46 L428.40,380.69 L429.70,377.55 L431.00,382.11 L432.30,376.69 L433.60,382.41 L434.90,377.08 L436.20,375.93 L437.50,378.17 L438.80,380.95 L440.10,376.70 L441.40,375.16 L442.70,377.84 L444.00,379.73 L445.30,375.42 L446.60,379.61 L447.90,374.27 L449.20,380.58 L450.50,373.95 L451.80,379.63 L453.10,372.69 L454.40,378.79 L455.70,373.13 L457.00,377.44 L458.30,372.74 L459.60,377.38 L460.90,373.16 L462.20,375.60 L463.50,371.17 L464.80,377.50 L466.10,375.05 L467.40,379.82 L468.70,376.83 L470.00,383.71 L471.30,378.74 L472.60,379.40 L473.90,379.49 L475.20,381.28 L476.50,377.18 L477.80,382.14 L479.10,377.47 L480.40,380.83 L481.70,375.80 L483.00,379.34 L484.30,379.23 L485.60,380.52 L486.90,373.27 L488.20,378.91 L489.50,379.08 L490.80,378.26 L492.10,372.67 L493.40,376.28 L494.70,377.42 L496.00,379.08 L497.30,374.52 L498.60,379.15 L499.90,373.77 L501.20,376.64 L502.50,372.06 L503.80,374.91 L505.10,371.88 L506.40,374.07 L507.70,369.09 L509.00,373.41 L510.30,372.60 L511.60,372.63 L512.90,367.48 L514.20,369.33 L515.50,364.88 L516.80,367.82 L518.10,360.60 L519.40,364.95 L520.70,360.88 L522.00,368.01 L523.30,365.05 L524.60,371.44 L525.90,369.42 L527.20,374.59 L528.50,372.48 L529.80,375.79 L531.10,373.67 L532.40,370.17 L533.70,375.47 L535.00,377.74 L536.30,374.23 L537.60,378.81 L538.90,374.68 L540.20,379.50" stroke="#808080" stroke-width="1.35" fill="none" stroke-linejoin="round"/>
<path d="M405.00,451.07 L406.30,446.99 L407.60,452.33 L408.90,456.01 L410.20,447.14 L411.50,448.57 L412.80,453.13 L414.10,443.78 L415.40,451.39 L416.70,444.21 L418.00,451.38 L419.30,443.25 L420.60,445.19 L421.90,440.23 L423.20,444.21 L424.50,436.92 L425.80,443.58 L427.10,436.16 L428.40,441.92 L429.70,434.18 L431.00,440.60 L432.30,435.42 L433.60,441.55 L434.90,435.61 L436.20,439.58 L437.50,431.60 L438.80,439.76 L440.10,432.98 L441.40,439.00 L442.70,435.99 L444.00,440.41 L445.30,433.73 L446.60,438.52 L447.90,427.14 L449.20,435.66 L450.50,428.35 L451.80,431.61 L453.10,427.90 L454.40,432.19 L455.70,428.96 L457.00,435.16 L458.30,430.48 L459.60,437.62 L460.90,429.80 L462.20,438.42 L463.50,433.21 L464.80,443.78 L466.10,437.01 L467.40,444.82 L468.70,445.04 L470.00,454.27 L471.30,446.82 L472.60,453.18 L473.90,446.32 L475.20,451.88 L476.50,446.42 L477.80,448.32 L479.10,439.93 L480.40,446.68 L481.70,440.50 L483.00,442.76 L484.30,436.16 L485.60,438.81 L486.90,433.29 L488.20,430.40 L489.50,431.25 L490.80,436.55 L492.10,433.40 L493.40,432.13 L494.70,430.91 L496.00,429.02 L497.30,423.74 L498.60,430.84 L499.90,421.00 L501.20,424.56 L502.50,417.49 L503.80,411.59 L505.10,412.27 L506.40,414.48 L507.70,405.61 L509.00,406.62 L510.30,398.91 L511.60,400.19 L512.90,391.72 L514.20,397.83 L515.50,389.03 L516.80,397.00 L518.10,393.87 L519.40,401.59 L520.70,404.75 L522.00,408.88 L523.30,420.22 L524.60,426.56 L525.90,438.20 L527.20,452.35 L528.50,452.75 L529.80,460.96 L531.10,457.97 L532.40,465.22 L533.70,459.76 L535.00,466.70 L536.30,461.65 L537.60,465.26 L538.90,460.78 L540.20,465.43" stroke="#f000d0" stroke-width="1.35" fill="none" stroke-linejoin="round"/>
<text transform="translate(38.20,31.70) scale(1.040,1)" font-size="15.8" font-weight="bold" text-anchor="start" fill="#111" stroke="#111" stroke-width="0.3">C 1s</text>
<text transform="translate(223.60,31.80) scale(1.040,1)" font-size="15.8" font-weight="bold" text-anchor="start" fill="#111" stroke="#111" stroke-width="0.3">F 1s</text>
<text transform="translate(409.20,31.80) scale(1.040,1)" font-size="15.8" font-weight="bold" text-anchor="start" fill="#111" stroke="#111" stroke-width="0.3">P 2p</text>
<text transform="translate(38.60,304.50) scale(1.040,1)" font-size="15.8" font-weight="bold" text-anchor="start" fill="#111" stroke="#111" stroke-width="0.3">Ni 2p</text>
<text transform="translate(223.80,304.30) scale(1.040,1)" font-size="15.8" font-weight="bold" text-anchor="start" fill="#111" stroke="#111" stroke-width="0.3">Mn 2p</text>
<text transform="translate(409.40,304.40) scale(1.040,1)" font-size="15.8" font-weight="bold" text-anchor="start" fill="#111" stroke="#111" stroke-width="0.3">Co 2p</text>
<text transform="translate(31.50,101.50)" font-size="12.7" font-weight="normal" text-anchor="start" fill="#111" >(a)</text>
<text transform="translate(217.00,106.00)" font-size="12.7" font-weight="normal" text-anchor="start" fill="#111" >(a)</text>
<text transform="translate(402.60,99.50)" font-size="12.7" font-weight="normal" text-anchor="start" fill="#111" >(a)</text>
<text transform="translate(32.50,367.80)" font-size="12.7" font-weight="normal" text-anchor="start" fill="#111" >(a)</text>
<text transform="translate(217.00,367.80)" font-size="12.7" font-weight="normal" text-anchor="start" fill="#111" >(a)</text>
<text transform="translate(403.80,370.50)" font-size="12.7" font-weight="normal" text-anchor="start" fill="#111" >(a)</text>
<text transform="translate(31.20,186.00)" font-size="12.7" font-weight="normal" text-anchor="start" fill="#111" >(b)</text>
<text transform="translate(217.00,189.20)" font-size="12.7" font-weight="normal" text-anchor="start" fill="#111" >(b)</text>
<text transform="translate(402.60,180.50)" font-size="12.7" font-weight="normal" text-anchor="start" fill="#111" >(b)</text>
<text transform="translate(32.70,441.30)" font-size="12.7" font-weight="normal" text-anchor="start" fill="#111" >(b)</text>
<text transform="translate(217.00,428.80)" font-size="12.7" font-weight="normal" text-anchor="start" fill="#111" >(b)</text>
<text transform="translate(403.80,436.50)" font-size="12.7" font-weight="normal" text-anchor="start" fill="#111" >(b)</text>
<text transform="translate(110.00,24.60)" font-size="10" font-weight="normal" text-anchor="start" fill="#111" >Carbon black</text>
<text transform="translate(97.50,36.00)" font-size="10" font-weight="normal" text-anchor="start" fill="#111" >C-C/C-H</text>
<text transform="translate(106.20,53.30)" font-size="10" font-weight="normal" text-anchor="start" fill="#111" >C-O</text>
<text transform="translate(56.90,57.50)" font-size="10" font-weight="normal" text-anchor="start" fill="#111" >CO<tspan font-size="7" dy="2.5">3</tspan></text>
<text transform="translate(74.70,76.30)" font-size="10" font-weight="normal" text-anchor="start" fill="#111" >O-C=O</text>
<path d="M66.60,60.00V81.50" stroke="#8a8a8a" stroke-width="1.3" stroke-dasharray="2.0,2.36" fill="none"/>
<path d="M89.50,78.70V99.50" stroke="#8a8a8a" stroke-width="1.3" stroke-dasharray="2.0,2.36" fill="none"/>
<path d="M115.70,56.00V72.50" stroke="#9a9a9a" stroke-width="1.3" stroke-dasharray="2.0,2.36" fill="none"/>
<path d="M137.50,37.00V80.00" stroke="#666" stroke-width="1.3" stroke-dasharray="2.0,2.36" fill="none"/>
<path d="M141.00,25.50V75.00" stroke="#666" stroke-width="1.3" stroke-dasharray="2.0,2.36" fill="none"/>
<path d="M71.80,115.50V165.50" stroke="#6a6a6a" stroke-width="1.3" stroke-dasharray="2.0,2.36" fill="none"/>
<path d="M94.40,115.50V184.00" stroke="#6a6a6a" stroke-width="1.3" stroke-dasharray="2.0,2.36" fill="none"/>
<path d="M121.00,118.10V157.00" stroke="#6a6a6a" stroke-width="1.3" stroke-dasharray="2.0,2.36" fill="none"/>
<path d="M137.40,118.10V170.00" stroke="#6a6a6a" stroke-width="1.3" stroke-dasharray="2.0,2.36" fill="none"/>
<path d="M141.00,118.10V130.50" stroke="#6a6a6a" stroke-width="1.3" stroke-dasharray="2.0,2.36" fill="none"/>
<text transform="translate(268.40,29.60) scale(1.040,1)" font-size="10" font-weight="normal" text-anchor="start" fill="#111" >Li<tspan font-size="7" dy="2.5">x</tspan><tspan dy="-2.5">PF</tspan><tspan font-size="7" dy="2.5">y</tspan><tspan dy="-2.5">O</tspan><tspan font-size="7" dy="2.5">z</tspan></text>
<text transform="translate(303.30,70.00)" font-size="10" font-weight="normal" text-anchor="start" fill="#111" >LiF</text>
<text transform="translate(244.20,134.50)" font-size="10" font-weight="normal" text-anchor="start" fill="#111" >Li<tspan font-size="7" dy="2.5">x</tspan><tspan dy="-2.5">PF</tspan><tspan font-size="7" dy="2.5">y</tspan></text>
<path d="M279.10,33.20V48.50" stroke="#6a6a6a" stroke-width="1.3" stroke-dasharray="2.0,2.36" fill="none"/>
<path d="M311.00,74.00V97.50" stroke="#6a6a6a" stroke-width="1.3" stroke-dasharray="2.0,2.36" fill="none"/>
<path d="M285.10,115.90V125.50" stroke="#6a6a6a" stroke-width="1.3" stroke-dasharray="2.0,2.36" fill="none"/>
<path d="M317.30,115.90V174.50" stroke="#6a6a6a" stroke-width="1.3" stroke-dasharray="2.0,2.36" fill="none"/>
<path d="M268.70,140.50V184.00" stroke="#6a6a6a" stroke-width="1.3" stroke-dasharray="2.0,2.36" fill="none"/>
<text transform="translate(469.00,45.40)" font-size="10" font-weight="normal" text-anchor="start" fill="#111" >Li<tspan font-size="7" dy="2.5">x</tspan><tspan dy="-2.5">PO</tspan><tspan font-size="7" dy="2.5">y</tspan></text>
<text transform="translate(427.80,60.50)" font-size="10" font-weight="normal" text-anchor="start" fill="#111" >Li<tspan font-size="7" dy="2.5">x</tspan><tspan dy="-2.5">PF</tspan><tspan font-size="7" dy="2.5">y</tspan><tspan dy="-2.5">O</tspan><tspan font-size="7" dy="2.5">z</tspan></text>
<text transform="translate(420.20,137.70)" font-size="10" font-weight="normal" text-anchor="start" fill="#111" >Li<tspan font-size="7" dy="2.5">x</tspan><tspan dy="-2.5">PF</tspan><tspan font-size="7" dy="2.5">y</tspan></text>
<path d="M453.70,63.20V82.00" stroke="#6a6a6a" stroke-width="1.3" stroke-dasharray="2.0,2.36" fill="none"/>
<path d="M487.80,48.20V82.30" stroke="#6a6a6a" stroke-width="1.3" stroke-dasharray="2.0,2.36" fill="none"/>
<path d="M463.30,113.20V140.50" stroke="#6a6a6a" stroke-width="1.3" stroke-dasharray="2.0,2.36" fill="none"/>
<path d="M489.40,113.20V129.50" stroke="#6a6a6a" stroke-width="1.3" stroke-dasharray="2.0,2.36" fill="none"/>
<path d="M438.70,143.20V178.60" stroke="#6a6a6a" stroke-width="1.3" stroke-dasharray="2.0,2.36" fill="none"/>
</svg>
</body></html>
